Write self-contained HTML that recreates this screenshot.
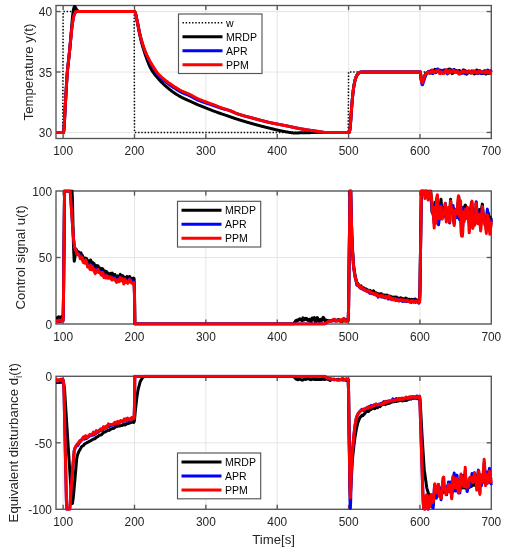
<!DOCTYPE html>
<html><head><meta charset="utf-8"><title>Figure</title>
<style>html,body{margin:0;padding:0;background:#fff}svg{display:block}</style>
</head><body>
<svg width="505" height="550" viewBox="0 0 505 550" font-family="Liberation Sans, Arial, sans-serif">
<rect width="505" height="550" fill="#fff"/>
<clipPath id="c0"><rect x="56.0" y="4.0" width="436.8" height="136.0"/></clipPath>
<line x1="63.14" y1="5.5" x2="63.14" y2="138.5" stroke="#dfdfdf" stroke-width="0.8"/>
<line x1="134.50" y1="5.5" x2="134.50" y2="138.5" stroke="#dfdfdf" stroke-width="0.8"/>
<line x1="205.86" y1="5.5" x2="205.86" y2="138.5" stroke="#dfdfdf" stroke-width="0.8"/>
<line x1="277.22" y1="5.5" x2="277.22" y2="138.5" stroke="#dfdfdf" stroke-width="0.8"/>
<line x1="348.58" y1="5.5" x2="348.58" y2="138.5" stroke="#dfdfdf" stroke-width="0.8"/>
<line x1="419.94" y1="5.5" x2="419.94" y2="138.5" stroke="#dfdfdf" stroke-width="0.8"/>
<line x1="491.30" y1="5.5" x2="491.30" y2="138.5" stroke="#dfdfdf" stroke-width="0.8"/>
<line x1="56.0" y1="132.45" x2="491.3" y2="132.45" stroke="#dfdfdf" stroke-width="0.8"/>
<line x1="56.0" y1="72.00" x2="491.3" y2="72.00" stroke="#dfdfdf" stroke-width="0.8"/>
<line x1="56.0" y1="11.55" x2="491.3" y2="11.55" stroke="#dfdfdf" stroke-width="0.8"/>
<rect x="56.0" y="5.5" width="435.3" height="133.0" fill="none" stroke="#555555" stroke-width="1.35"/>
<line x1="63.14" y1="138.5" x2="63.14" y2="133.9" stroke="#555555" stroke-width="1.35"/>
<line x1="63.14" y1="5.5" x2="63.14" y2="10.1" stroke="#555555" stroke-width="1.35"/>
<text x="63.14" y="155.1" font-size="11.9" fill="#262626" text-anchor="middle">100</text>
<line x1="134.50" y1="138.5" x2="134.50" y2="133.9" stroke="#555555" stroke-width="1.35"/>
<line x1="134.50" y1="5.5" x2="134.50" y2="10.1" stroke="#555555" stroke-width="1.35"/>
<text x="134.50" y="155.1" font-size="11.9" fill="#262626" text-anchor="middle">200</text>
<line x1="205.86" y1="138.5" x2="205.86" y2="133.9" stroke="#555555" stroke-width="1.35"/>
<line x1="205.86" y1="5.5" x2="205.86" y2="10.1" stroke="#555555" stroke-width="1.35"/>
<text x="205.86" y="155.1" font-size="11.9" fill="#262626" text-anchor="middle">300</text>
<line x1="277.22" y1="138.5" x2="277.22" y2="133.9" stroke="#555555" stroke-width="1.35"/>
<line x1="277.22" y1="5.5" x2="277.22" y2="10.1" stroke="#555555" stroke-width="1.35"/>
<text x="277.22" y="155.1" font-size="11.9" fill="#262626" text-anchor="middle">400</text>
<line x1="348.58" y1="138.5" x2="348.58" y2="133.9" stroke="#555555" stroke-width="1.35"/>
<line x1="348.58" y1="5.5" x2="348.58" y2="10.1" stroke="#555555" stroke-width="1.35"/>
<text x="348.58" y="155.1" font-size="11.9" fill="#262626" text-anchor="middle">500</text>
<line x1="419.94" y1="138.5" x2="419.94" y2="133.9" stroke="#555555" stroke-width="1.35"/>
<line x1="419.94" y1="5.5" x2="419.94" y2="10.1" stroke="#555555" stroke-width="1.35"/>
<text x="419.94" y="155.1" font-size="11.9" fill="#262626" text-anchor="middle">600</text>
<text x="491.30" y="155.1" font-size="11.9" fill="#262626" text-anchor="middle">700</text>
<line x1="56.0" y1="132.45" x2="60.6" y2="132.45" stroke="#555555" stroke-width="1.35"/>
<line x1="491.3" y1="132.45" x2="486.7" y2="132.45" stroke="#555555" stroke-width="1.35"/>
<text x="52.0" y="137.35" font-size="11.9" fill="#262626" text-anchor="end">30</text>
<line x1="56.0" y1="72.00" x2="60.6" y2="72.00" stroke="#555555" stroke-width="1.35"/>
<line x1="491.3" y1="72.00" x2="486.7" y2="72.00" stroke="#555555" stroke-width="1.35"/>
<text x="52.0" y="76.90" font-size="11.9" fill="#262626" text-anchor="end">35</text>
<line x1="56.0" y1="11.55" x2="60.6" y2="11.55" stroke="#555555" stroke-width="1.35"/>
<line x1="491.3" y1="11.55" x2="486.7" y2="11.55" stroke="#555555" stroke-width="1.35"/>
<text x="52.0" y="16.45" font-size="11.9" fill="#262626" text-anchor="end">40</text>
<g clip-path="url(#c0)" fill="none" stroke-linejoin="round" stroke-linecap="butt">
<path d="M56.00,132.45 L56.36,132.45 L56.71,132.45 L57.07,132.45 L57.43,132.45 L57.78,132.45 L58.14,132.45 L58.50,132.45 L58.85,132.45 L59.21,132.45 L59.57,132.45 L59.92,132.45 L60.28,132.45 L60.64,132.45 L61.00,132.45 L61.35,132.45 L61.71,132.45 L62.07,132.45 L62.42,132.45 L62.78,132.45 L63.14,11.55 L63.49,11.55 L63.85,11.55 L64.21,11.55 L64.56,11.55 L64.92,11.55 L65.28,11.55 L65.63,11.55 L65.99,11.55 L66.35,11.55 L66.70,11.55 L67.06,11.55 L67.42,11.55 L67.77,11.55 L68.13,11.55 L68.49,11.55 L68.84,11.55 L69.20,11.55 L69.56,11.55 L69.92,11.55 L70.27,11.55 L70.63,11.55 L70.99,11.55 L71.34,11.55 L71.70,11.55 L72.06,11.55 L72.41,11.55 L72.77,11.55 L73.13,11.55 L73.48,11.55 L73.84,11.55 L74.20,11.55 L74.55,11.55 L74.91,11.55 L75.27,11.55 L75.62,11.55 L75.98,11.55 L76.34,11.55 L76.69,11.55 L77.05,11.55 L77.41,11.55 L77.77,11.55 L78.12,11.55 L78.48,11.55 L78.84,11.55 L79.19,11.55 L79.55,11.55 L79.91,11.55 L80.26,11.55 L80.62,11.55 L80.98,11.55 L81.33,11.55 L81.69,11.55 L82.05,11.55 L82.40,11.55 L82.76,11.55 L83.12,11.55 L83.47,11.55 L83.83,11.55 L84.19,11.55 L84.54,11.55 L84.90,11.55 L85.26,11.55 L85.61,11.55 L85.97,11.55 L86.33,11.55 L86.69,11.55 L87.04,11.55 L87.40,11.55 L87.76,11.55 L88.11,11.55 L88.47,11.55 L88.83,11.55 L89.18,11.55 L89.54,11.55 L89.90,11.55 L90.25,11.55 L90.61,11.55 L90.97,11.55 L91.32,11.55 L91.68,11.55 L92.04,11.55 L92.39,11.55 L92.75,11.55 L93.11,11.55 L93.46,11.55 L93.82,11.55 L94.18,11.55 L94.53,11.55 L94.89,11.55 L95.25,11.55 L95.61,11.55 L95.96,11.55 L96.32,11.55 L96.68,11.55 L97.03,11.55 L97.39,11.55 L97.75,11.55 L98.10,11.55 L98.46,11.55 L98.82,11.55 L99.17,11.55 L99.53,11.55 L99.89,11.55 L100.24,11.55 L100.60,11.55 L100.96,11.55 L101.31,11.55 L101.67,11.55 L102.03,11.55 L102.38,11.55 L102.74,11.55 L103.10,11.55 L103.45,11.55 L103.81,11.55 L104.17,11.55 L104.53,11.55 L104.88,11.55 L105.24,11.55 L105.60,11.55 L105.95,11.55 L106.31,11.55 L106.67,11.55 L107.02,11.55 L107.38,11.55 L107.74,11.55 L108.09,11.55 L108.45,11.55 L108.81,11.55 L109.16,11.55 L109.52,11.55 L109.88,11.55 L110.23,11.55 L110.59,11.55 L110.95,11.55 L111.30,11.55 L111.66,11.55 L112.02,11.55 L112.37,11.55 L112.73,11.55 L113.09,11.55 L113.45,11.55 L113.80,11.55 L114.16,11.55 L114.52,11.55 L114.87,11.55 L115.23,11.55 L115.59,11.55 L115.94,11.55 L116.30,11.55 L116.66,11.55 L117.01,11.55 L117.37,11.55 L117.73,11.55 L118.08,11.55 L118.44,11.55 L118.80,11.55 L119.15,11.55 L119.51,11.55 L119.87,11.55 L120.22,11.55 L120.58,11.55 L120.94,11.55 L121.30,11.55 L121.65,11.55 L122.01,11.55 L122.37,11.55 L122.72,11.55 L123.08,11.55 L123.44,11.55 L123.79,11.55 L124.15,11.55 L124.51,11.55 L124.86,11.55 L125.22,11.55 L125.58,11.55 L125.93,11.55 L126.29,11.55 L126.65,11.55 L127.00,11.55 L127.36,11.55 L127.72,11.55 L128.07,11.55 L128.43,11.55 L128.79,11.55 L129.14,11.55 L129.50,11.55 L129.86,11.55 L130.22,11.55 L130.57,11.55 L130.93,11.55 L131.29,11.55 L131.64,11.55 L132.00,11.55 L132.36,11.55 L132.71,11.55 L133.07,11.55 L133.43,11.55 L133.78,11.55 L134.14,11.55 L134.50,132.45 L134.85,132.45 L135.21,132.45 L135.57,132.45 L135.92,132.45 L136.28,132.45 L136.64,132.45 L136.99,132.45 L137.35,132.45 L137.71,132.45 L138.06,132.45 L138.42,132.45 L138.78,132.45 L139.14,132.45 L139.49,132.45 L139.85,132.45 L140.21,132.45 L140.56,132.45 L140.92,132.45 L141.28,132.45 L141.63,132.45 L141.99,132.45 L142.35,132.45 L142.70,132.45 L143.06,132.45 L143.42,132.45 L143.77,132.45 L144.13,132.45 L144.49,132.45 L144.84,132.45 L145.20,132.45 L145.56,132.45 L145.91,132.45 L146.27,132.45 L146.63,132.45 L146.98,132.45 L147.34,132.45 L147.70,132.45 L148.06,132.45 L148.41,132.45 L148.77,132.45 L149.13,132.45 L149.48,132.45 L149.84,132.45 L150.20,132.45 L150.55,132.45 L150.91,132.45 L151.27,132.45 L151.62,132.45 L151.98,132.45 L152.34,132.45 L152.69,132.45 L153.05,132.45 L153.41,132.45 L153.76,132.45 L154.12,132.45 L154.48,132.45 L154.83,132.45 L155.19,132.45 L155.55,132.45 L155.90,132.45 L156.26,132.45 L156.62,132.45 L156.98,132.45 L157.33,132.45 L157.69,132.45 L158.05,132.45 L158.40,132.45 L158.76,132.45 L159.12,132.45 L159.47,132.45 L159.83,132.45 L160.19,132.45 L160.54,132.45 L160.90,132.45 L161.26,132.45 L161.61,132.45 L161.97,132.45 L162.33,132.45 L162.68,132.45 L163.04,132.45 L163.40,132.45 L163.75,132.45 L164.11,132.45 L164.47,132.45 L164.82,132.45 L165.18,132.45 L165.54,132.45 L165.90,132.45 L166.25,132.45 L166.61,132.45 L166.97,132.45 L167.32,132.45 L167.68,132.45 L168.04,132.45 L168.39,132.45 L168.75,132.45 L169.11,132.45 L169.46,132.45 L169.82,132.45 L170.18,132.45 L170.53,132.45 L170.89,132.45 L171.25,132.45 L171.60,132.45 L171.96,132.45 L172.32,132.45 L172.67,132.45 L173.03,132.45 L173.39,132.45 L173.75,132.45 L174.10,132.45 L174.46,132.45 L174.82,132.45 L175.17,132.45 L175.53,132.45 L175.89,132.45 L176.24,132.45 L176.60,132.45 L176.96,132.45 L177.31,132.45 L177.67,132.45 L178.03,132.45 L178.38,132.45 L178.74,132.45 L179.10,132.45 L179.45,132.45 L179.81,132.45 L180.17,132.45 L180.52,132.45 L180.88,132.45 L181.24,132.45 L181.59,132.45 L181.95,132.45 L182.31,132.45 L182.67,132.45 L183.02,132.45 L183.38,132.45 L183.74,132.45 L184.09,132.45 L184.45,132.45 L184.81,132.45 L185.16,132.45 L185.52,132.45 L185.88,132.45 L186.23,132.45 L186.59,132.45 L186.95,132.45 L187.30,132.45 L187.66,132.45 L188.02,132.45 L188.37,132.45 L188.73,132.45 L189.09,132.45 L189.44,132.45 L189.80,132.45 L190.16,132.45 L190.51,132.45 L190.87,132.45 L191.23,132.45 L191.59,132.45 L191.94,132.45 L192.30,132.45 L192.66,132.45 L193.01,132.45 L193.37,132.45 L193.73,132.45 L194.08,132.45 L194.44,132.45 L194.80,132.45 L195.15,132.45 L195.51,132.45 L195.87,132.45 L196.22,132.45 L196.58,132.45 L196.94,132.45 L197.29,132.45 L197.65,132.45 L198.01,132.45 L198.36,132.45 L198.72,132.45 L199.08,132.45 L199.43,132.45 L199.79,132.45 L200.15,132.45 L200.51,132.45 L200.86,132.45 L201.22,132.45 L201.58,132.45 L201.93,132.45 L202.29,132.45 L202.65,132.45 L203.00,132.45 L203.36,132.45 L203.72,132.45 L204.07,132.45 L204.43,132.45 L204.79,132.45 L205.14,132.45 L205.50,132.45 L205.86,132.45 L206.21,132.45 L206.57,132.45 L206.93,132.45 L207.28,132.45 L207.64,132.45 L208.00,132.45 L208.36,132.45 L208.71,132.45 L209.07,132.45 L209.43,132.45 L209.78,132.45 L210.14,132.45 L210.50,132.45 L210.85,132.45 L211.21,132.45 L211.57,132.45 L211.92,132.45 L212.28,132.45 L212.64,132.45 L212.99,132.45 L213.35,132.45 L213.71,132.45 L214.06,132.45 L214.42,132.45 L214.78,132.45 L215.13,132.45 L215.49,132.45 L215.85,132.45 L216.20,132.45 L216.56,132.45 L216.92,132.45 L217.28,132.45 L217.63,132.45 L217.99,132.45 L218.35,132.45 L218.70,132.45 L219.06,132.45 L219.42,132.45 L219.77,132.45 L220.13,132.45 L220.49,132.45 L220.84,132.45 L221.20,132.45 L221.56,132.45 L221.91,132.45 L222.27,132.45 L222.63,132.45 L222.98,132.45 L223.34,132.45 L223.70,132.45 L224.05,132.45 L224.41,132.45 L224.77,132.45 L225.12,132.45 L225.48,132.45 L225.84,132.45 L226.20,132.45 L226.55,132.45 L226.91,132.45 L227.27,132.45 L227.62,132.45 L227.98,132.45 L228.34,132.45 L228.69,132.45 L229.05,132.45 L229.41,132.45 L229.76,132.45 L230.12,132.45 L230.48,132.45 L230.83,132.45 L231.19,132.45 L231.55,132.45 L231.90,132.45 L232.26,132.45 L232.62,132.45 L232.97,132.45 L233.33,132.45 L233.69,132.45 L234.04,132.45 L234.40,132.45 L234.76,132.45 L235.12,132.45 L235.47,132.45 L235.83,132.45 L236.19,132.45 L236.54,132.45 L236.90,132.45 L237.26,132.45 L237.61,132.45 L237.97,132.45 L238.33,132.45 L238.68,132.45 L239.04,132.45 L239.40,132.45 L239.75,132.45 L240.11,132.45 L240.47,132.45 L240.82,132.45 L241.18,132.45 L241.54,132.45 L241.89,132.45 L242.25,132.45 L242.61,132.45 L242.96,132.45 L243.32,132.45 L243.68,132.45 L244.04,132.45 L244.39,132.45 L244.75,132.45 L245.11,132.45 L245.46,132.45 L245.82,132.45 L246.18,132.45 L246.53,132.45 L246.89,132.45 L247.25,132.45 L247.60,132.45 L247.96,132.45 L248.32,132.45 L248.67,132.45 L249.03,132.45 L249.39,132.45 L249.74,132.45 L250.10,132.45 L250.46,132.45 L250.81,132.45 L251.17,132.45 L251.53,132.45 L251.89,132.45 L252.24,132.45 L252.60,132.45 L252.96,132.45 L253.31,132.45 L253.67,132.45 L254.03,132.45 L254.38,132.45 L254.74,132.45 L255.10,132.45 L255.45,132.45 L255.81,132.45 L256.17,132.45 L256.52,132.45 L256.88,132.45 L257.24,132.45 L257.59,132.45 L257.95,132.45 L258.31,132.45 L258.66,132.45 L259.02,132.45 L259.38,132.45 L259.73,132.45 L260.09,132.45 L260.45,132.45 L260.81,132.45 L261.16,132.45 L261.52,132.45 L261.88,132.45 L262.23,132.45 L262.59,132.45 L262.95,132.45 L263.30,132.45 L263.66,132.45 L264.02,132.45 L264.37,132.45 L264.73,132.45 L265.09,132.45 L265.44,132.45 L265.80,132.45 L266.16,132.45 L266.51,132.45 L266.87,132.45 L267.23,132.45 L267.58,132.45 L267.94,132.45 L268.30,132.45 L268.65,132.45 L269.01,132.45 L269.37,132.45 L269.73,132.45 L270.08,132.45 L270.44,132.45 L270.80,132.45 L271.15,132.45 L271.51,132.45 L271.87,132.45 L272.22,132.45 L272.58,132.45 L272.94,132.45 L273.29,132.45 L273.65,132.45 L274.01,132.45 L274.36,132.45 L274.72,132.45 L275.08,132.45 L275.43,132.45 L275.79,132.45 L276.15,132.45 L276.50,132.45 L276.86,132.45 L277.22,132.45 L277.57,132.45 L277.93,132.45 L278.29,132.45 L278.65,132.45 L279.00,132.45 L279.36,132.45 L279.72,132.45 L280.07,132.45 L280.43,132.45 L280.79,132.45 L281.14,132.45 L281.50,132.45 L281.86,132.45 L282.21,132.45 L282.57,132.45 L282.93,132.45 L283.28,132.45 L283.64,132.45 L284.00,132.45 L284.35,132.45 L284.71,132.45 L285.07,132.45 L285.42,132.45 L285.78,132.45 L286.14,132.45 L286.49,132.45 L286.85,132.45 L287.21,132.45 L287.57,132.45 L287.92,132.45 L288.28,132.45 L288.64,132.45 L288.99,132.45 L289.35,132.45 L289.71,132.45 L290.06,132.45 L290.42,132.45 L290.78,132.45 L291.13,132.45 L291.49,132.45 L291.85,132.45 L292.20,132.45 L292.56,132.45 L292.92,132.45 L293.27,132.45 L293.63,132.45 L293.99,132.45 L294.34,132.45 L294.70,132.45 L295.06,132.45 L295.41,132.45 L295.77,132.45 L296.13,132.45 L296.49,132.45 L296.84,132.45 L297.20,132.45 L297.56,132.45 L297.91,132.45 L298.27,132.45 L298.63,132.45 L298.98,132.45 L299.34,132.45 L299.70,132.45 L300.05,132.45 L300.41,132.45 L300.77,132.45 L301.12,132.45 L301.48,132.45 L301.84,132.45 L302.19,132.45 L302.55,132.45 L302.91,132.45 L303.26,132.45 L303.62,132.45 L303.98,132.45 L304.34,132.45 L304.69,132.45 L305.05,132.45 L305.41,132.45 L305.76,132.45 L306.12,132.45 L306.48,132.45 L306.83,132.45 L307.19,132.45 L307.55,132.45 L307.90,132.45 L308.26,132.45 L308.62,132.45 L308.97,132.45 L309.33,132.45 L309.69,132.45 L310.04,132.45 L310.40,132.45 L310.76,132.45 L311.11,132.45 L311.47,132.45 L311.83,132.45 L312.18,132.45 L312.54,132.45 L312.90,132.45 L313.26,132.45 L313.61,132.45 L313.97,132.45 L314.33,132.45 L314.68,132.45 L315.04,132.45 L315.40,132.45 L315.75,132.45 L316.11,132.45 L316.47,132.45 L316.82,132.45 L317.18,132.45 L317.54,132.45 L317.89,132.45 L318.25,132.45 L318.61,132.45 L318.96,132.45 L319.32,132.45 L319.68,132.45 L320.03,132.45 L320.39,132.45 L320.75,132.45 L321.10,132.45 L321.46,132.45 L321.82,132.45 L322.18,132.45 L322.53,132.45 L322.89,132.45 L323.25,132.45 L323.60,132.45 L323.96,132.45 L324.32,132.45 L324.67,132.45 L325.03,132.45 L325.39,132.45 L325.74,132.45 L326.10,132.45 L326.46,132.45 L326.81,132.45 L327.17,132.45 L327.53,132.45 L327.88,132.45 L328.24,132.45 L328.60,132.45 L328.95,132.45 L329.31,132.45 L329.67,132.45 L330.02,132.45 L330.38,132.45 L330.74,132.45 L331.10,132.45 L331.45,132.45 L331.81,132.45 L332.17,132.45 L332.52,132.45 L332.88,132.45 L333.24,132.45 L333.59,132.45 L333.95,132.45 L334.31,132.45 L334.66,132.45 L335.02,132.45 L335.38,132.45 L335.73,132.45 L336.09,132.45 L336.45,132.45 L336.80,132.45 L337.16,132.45 L337.52,132.45 L337.87,132.45 L338.23,132.45 L338.59,132.45 L338.94,132.45 L339.30,132.45 L339.66,132.45 L340.02,132.45 L340.37,132.45 L340.73,132.45 L341.09,132.45 L341.44,132.45 L341.80,132.45 L342.16,132.45 L342.51,132.45 L342.87,132.45 L343.23,132.45 L343.58,132.45 L343.94,132.45 L344.30,132.45 L344.65,132.45 L345.01,132.45 L345.37,132.45 L345.72,132.45 L346.08,132.45 L346.44,132.45 L346.79,132.45 L347.15,132.45 L347.51,132.45 L347.87,132.45 L348.22,132.45 L348.58,72.00 L348.94,72.00 L349.29,72.00 L349.65,72.00 L350.01,72.00 L350.36,72.00 L350.72,72.00 L351.08,72.00 L351.43,72.00 L351.79,72.00 L352.15,72.00 L352.50,72.00 L352.86,72.00 L353.22,72.00 L353.57,72.00 L353.93,72.00 L354.29,72.00 L354.64,72.00 L355.00,72.00 L355.36,72.00 L355.71,72.00 L356.07,72.00 L356.43,72.00 L356.79,72.00 L357.14,72.00 L357.50,72.00 L357.86,72.00 L358.21,72.00 L358.57,72.00 L358.93,72.00 L359.28,72.00 L359.64,72.00 L360.00,72.00 L360.35,72.00 L360.71,72.00 L361.07,72.00 L361.42,72.00 L361.78,72.00 L362.14,72.00 L362.49,72.00 L362.85,72.00 L363.21,72.00 L363.56,72.00 L363.92,72.00 L364.28,72.00 L364.63,72.00 L364.99,72.00 L365.35,72.00 L365.71,72.00 L366.06,72.00 L366.42,72.00 L366.78,72.00 L367.13,72.00 L367.49,72.00 L367.85,72.00 L368.20,72.00 L368.56,72.00 L368.92,72.00 L369.27,72.00 L369.63,72.00 L369.99,72.00 L370.34,72.00 L370.70,72.00 L371.06,72.00 L371.41,72.00 L371.77,72.00 L372.13,72.00 L372.48,72.00 L372.84,72.00 L373.20,72.00 L373.55,72.00 L373.91,72.00 L374.27,72.00 L374.63,72.00 L374.98,72.00 L375.34,72.00 L375.70,72.00 L376.05,72.00 L376.41,72.00 L376.77,72.00 L377.12,72.00 L377.48,72.00 L377.84,72.00 L378.19,72.00 L378.55,72.00 L378.91,72.00 L379.26,72.00 L379.62,72.00 L379.98,72.00 L380.33,72.00 L380.69,72.00 L381.05,72.00 L381.40,72.00 L381.76,72.00 L382.12,72.00 L382.48,72.00 L382.83,72.00 L383.19,72.00 L383.55,72.00 L383.90,72.00 L384.26,72.00 L384.62,72.00 L384.97,72.00 L385.33,72.00 L385.69,72.00 L386.04,72.00 L386.40,72.00 L386.76,72.00 L387.11,72.00 L387.47,72.00 L387.83,72.00 L388.18,72.00 L388.54,72.00 L388.90,72.00 L389.25,72.00 L389.61,72.00 L389.97,72.00 L390.32,72.00 L390.68,72.00 L391.04,72.00 L391.40,72.00 L391.75,72.00 L392.11,72.00 L392.47,72.00 L392.82,72.00 L393.18,72.00 L393.54,72.00 L393.89,72.00 L394.25,72.00 L394.61,72.00 L394.96,72.00 L395.32,72.00 L395.68,72.00 L396.03,72.00 L396.39,72.00 L396.75,72.00 L397.10,72.00 L397.46,72.00 L397.82,72.00 L398.17,72.00 L398.53,72.00 L398.89,72.00 L399.24,72.00 L399.60,72.00 L399.96,72.00 L400.32,72.00 L400.67,72.00 L401.03,72.00 L401.39,72.00 L401.74,72.00 L402.10,72.00 L402.46,72.00 L402.81,72.00 L403.17,72.00 L403.53,72.00 L403.88,72.00 L404.24,72.00 L404.60,72.00 L404.95,72.00 L405.31,72.00 L405.67,72.00 L406.02,72.00 L406.38,72.00 L406.74,72.00 L407.09,72.00 L407.45,72.00 L407.81,72.00 L408.16,72.00 L408.52,72.00 L408.88,72.00 L409.24,72.00 L409.59,72.00 L409.95,72.00 L410.31,72.00 L410.66,72.00 L411.02,72.00 L411.38,72.00 L411.73,72.00 L412.09,72.00 L412.45,72.00 L412.80,72.00 L413.16,72.00 L413.52,72.00 L413.87,72.00 L414.23,72.00 L414.59,72.00 L414.94,72.00 L415.30,72.00 L415.66,72.00 L416.01,72.00 L416.37,72.00 L416.73,72.00 L417.08,72.00 L417.44,72.00 L417.80,72.00 L418.16,72.00 L418.51,72.00 L418.87,72.00 L419.23,72.00 L419.58,72.00 L419.94,72.00 L420.30,72.00 L420.65,72.00 L421.01,72.00 L421.37,72.00 L421.72,72.00 L422.08,72.00 L422.44,72.00 L422.79,72.00 L423.15,72.00 L423.51,72.00 L423.86,72.00 L424.22,72.00 L424.58,72.00 L424.93,72.00 L425.29,72.00 L425.65,72.00 L426.01,72.00 L426.36,72.00 L426.72,72.00 L427.08,72.00 L427.43,72.00 L427.79,72.00 L428.15,72.00 L428.50,72.00 L428.86,72.00 L429.22,72.00 L429.57,72.00 L429.93,72.00 L430.29,72.00 L430.64,72.00 L431.00,72.00 L431.36,72.00 L431.71,72.00 L432.07,72.00 L432.43,72.00 L432.78,72.00 L433.14,72.00 L433.50,72.00 L433.85,72.00 L434.21,72.00 L434.57,72.00 L434.93,72.00 L435.28,72.00 L435.64,72.00 L436.00,72.00 L436.35,72.00 L436.71,72.00 L437.07,72.00 L437.42,72.00 L437.78,72.00 L438.14,72.00 L438.49,72.00 L438.85,72.00 L439.21,72.00 L439.56,72.00 L439.92,72.00 L440.28,72.00 L440.63,72.00 L440.99,72.00 L441.35,72.00 L441.70,72.00 L442.06,72.00 L442.42,72.00 L442.77,72.00 L443.13,72.00 L443.49,72.00 L443.85,72.00 L444.20,72.00 L444.56,72.00 L444.92,72.00 L445.27,72.00 L445.63,72.00 L445.99,72.00 L446.34,72.00 L446.70,72.00 L447.06,72.00 L447.41,72.00 L447.77,72.00 L448.13,72.00 L448.48,72.00 L448.84,72.00 L449.20,72.00 L449.55,72.00 L449.91,72.00 L450.27,72.00 L450.62,72.00 L450.98,72.00 L451.34,72.00 L451.69,72.00 L452.05,72.00 L452.41,72.00 L452.77,72.00 L453.12,72.00 L453.48,72.00 L453.84,72.00 L454.19,72.00 L454.55,72.00 L454.91,72.00 L455.26,72.00 L455.62,72.00 L455.98,72.00 L456.33,72.00 L456.69,72.00 L457.05,72.00 L457.40,72.00 L457.76,72.00 L458.12,72.00 L458.47,72.00 L458.83,72.00 L459.19,72.00 L459.54,72.00 L459.90,72.00 L460.26,72.00 L460.61,72.00 L460.97,72.00 L461.33,72.00 L461.69,72.00 L462.04,72.00 L462.40,72.00 L462.76,72.00 L463.11,72.00 L463.47,72.00 L463.83,72.00 L464.18,72.00 L464.54,72.00 L464.90,72.00 L465.25,72.00 L465.61,72.00 L465.97,72.00 L466.32,72.00 L466.68,72.00 L467.04,72.00 L467.39,72.00 L467.75,72.00 L468.11,72.00 L468.46,72.00 L468.82,72.00 L469.18,72.00 L469.54,72.00 L469.89,72.00 L470.25,72.00 L470.61,72.00 L470.96,72.00 L471.32,72.00 L471.68,72.00 L472.03,72.00 L472.39,72.00 L472.75,72.00 L473.10,72.00 L473.46,72.00 L473.82,72.00 L474.17,72.00 L474.53,72.00 L474.89,72.00 L475.24,72.00 L475.60,72.00 L475.96,72.00 L476.31,72.00 L476.67,72.00 L477.03,72.00 L477.38,72.00 L477.74,72.00 L478.10,72.00 L478.46,72.00 L478.81,72.00 L479.17,72.00 L479.53,72.00 L479.88,72.00 L480.24,72.00 L480.60,72.00 L480.95,72.00 L481.31,72.00 L481.67,72.00 L482.02,72.00 L482.38,72.00 L482.74,72.00 L483.09,72.00 L483.45,72.00 L483.81,72.00 L484.16,72.00 L484.52,72.00 L484.88,72.00 L485.23,72.00 L485.59,72.00 L485.95,72.00 L486.30,72.00 L486.66,72.00 L487.02,72.00 L487.38,72.00 L487.73,72.00 L488.09,72.00 L488.45,72.00 L488.80,72.00 L489.16,72.00 L489.52,72.00 L489.87,72.00 L490.23,72.00 L490.59,72.00 L490.94,72.00 L491.30,72.00" stroke="#000" stroke-width="1.5" stroke-dasharray="1.4 1.8"/>
<path d="M56.00,132.45 L56.36,132.45 L56.71,132.45 L57.07,132.45 L57.43,132.45 L57.78,132.45 L58.14,132.45 L58.50,132.45 L58.85,132.45 L59.21,132.45 L59.57,132.45 L59.92,132.45 L60.28,132.45 L60.64,132.45 L61.00,132.45 L61.35,132.45 L61.71,132.45 L62.07,132.45 L62.42,132.45 L62.78,132.45 L63.14,132.45 L63.49,132.45 L63.85,130.08 L64.21,125.34 L64.56,119.42 L64.92,112.74 L65.28,106.00 L65.63,99.79 L65.99,93.50 L66.35,87.18 L66.70,81.14 L67.06,75.70 L67.42,71.18 L67.77,67.54 L68.13,64.35 L68.49,61.23 L68.84,57.89 L69.20,54.53 L69.56,51.07 L69.92,47.42 L70.27,43.60 L70.63,39.58 L70.99,35.21 L71.34,30.52 L71.70,26.05 L72.06,21.83 L72.41,17.85 L72.77,14.58 L73.13,11.73 L73.48,9.43 L73.84,8.08 L74.20,7.10 L74.55,6.53 L74.91,6.58 L75.27,7.14 L75.62,7.81 L75.98,8.38 L76.34,9.00 L76.69,9.60 L77.05,10.11 L77.41,10.47 L77.77,10.79 L78.12,11.08 L78.48,11.32 L78.84,11.49 L79.19,11.55 L79.55,11.55 L79.91,11.55 L80.26,11.55 L80.62,11.55 L80.98,11.55 L81.33,11.55 L81.69,11.55 L82.05,11.55 L82.40,11.55 L82.76,11.55 L83.12,11.55 L83.47,11.55 L83.83,11.55 L84.19,11.55 L84.54,11.55 L84.90,11.55 L85.26,11.55 L85.61,11.55 L85.97,11.55 L86.33,11.55 L86.69,11.55 L87.04,11.55 L87.40,11.55 L87.76,11.55 L88.11,11.55 L88.47,11.55 L88.83,11.55 L89.18,11.55 L89.54,11.55 L89.90,11.55 L90.25,11.55 L90.61,11.55 L90.97,11.55 L91.32,11.55 L91.68,11.55 L92.04,11.55 L92.39,11.55 L92.75,11.55 L93.11,11.55 L93.46,11.55 L93.82,11.55 L94.18,11.55 L94.53,11.55 L94.89,11.55 L95.25,11.55 L95.61,11.55 L95.96,11.55 L96.32,11.55 L96.68,11.55 L97.03,11.55 L97.39,11.55 L97.75,11.55 L98.10,11.55 L98.46,11.55 L98.82,11.55 L99.17,11.55 L99.53,11.55 L99.89,11.55 L100.24,11.55 L100.60,11.55 L100.96,11.55 L101.31,11.55 L101.67,11.55 L102.03,11.55 L102.38,11.55 L102.74,11.55 L103.10,11.55 L103.45,11.55 L103.81,11.55 L104.17,11.55 L104.53,11.55 L104.88,11.55 L105.24,11.55 L105.60,11.55 L105.95,11.55 L106.31,11.55 L106.67,11.55 L107.02,11.55 L107.38,11.55 L107.74,11.55 L108.09,11.55 L108.45,11.55 L108.81,11.55 L109.16,11.55 L109.52,11.55 L109.88,11.55 L110.23,11.55 L110.59,11.55 L110.95,11.55 L111.30,11.55 L111.66,11.55 L112.02,11.55 L112.37,11.55 L112.73,11.55 L113.09,11.55 L113.45,11.55 L113.80,11.55 L114.16,11.55 L114.52,11.55 L114.87,11.55 L115.23,11.55 L115.59,11.55 L115.94,11.55 L116.30,11.55 L116.66,11.55 L117.01,11.55 L117.37,11.55 L117.73,11.55 L118.08,11.55 L118.44,11.55 L118.80,11.55 L119.15,11.55 L119.51,11.55 L119.87,11.55 L120.22,11.55 L120.58,11.55 L120.94,11.55 L121.30,11.55 L121.65,11.55 L122.01,11.55 L122.37,11.55 L122.72,11.55 L123.08,11.55 L123.44,11.55 L123.79,11.55 L124.15,11.55 L124.51,11.55 L124.86,11.55 L125.22,11.55 L125.58,11.55 L125.93,11.55 L126.29,11.55 L126.65,11.55 L127.00,11.55 L127.36,11.55 L127.72,11.55 L128.07,11.55 L128.43,11.55 L128.79,11.55 L129.14,11.55 L129.50,11.55 L129.86,11.55 L130.22,11.55 L130.57,11.55 L130.93,11.55 L131.29,11.55 L131.64,11.55 L132.00,11.55 L132.36,11.55 L132.71,11.55 L133.07,11.55 L133.43,11.55 L133.78,11.55 L134.14,11.55 L134.50,11.55 L134.85,11.82 L135.21,12.58 L135.57,13.74 L135.92,15.20 L136.28,16.87 L136.64,18.67 L136.99,20.50 L137.35,22.28 L137.71,23.94 L138.06,25.76 L138.42,27.72 L138.78,29.72 L139.14,31.63 L139.49,33.39 L139.85,35.11 L140.21,36.79 L140.56,38.41 L140.92,39.95 L141.28,41.41 L141.63,42.78 L141.99,44.09 L142.35,45.34 L142.70,46.56 L143.06,47.74 L143.42,48.89 L143.77,50.03 L144.13,51.15 L144.49,52.27 L144.84,53.36 L145.20,54.44 L145.56,55.50 L145.91,56.53 L146.27,57.54 L146.63,58.52 L146.98,59.48 L147.34,60.42 L147.70,61.35 L148.06,62.28 L148.41,63.19 L148.77,64.09 L149.13,64.96 L149.48,65.80 L149.84,66.60 L150.20,67.36 L150.55,68.08 L150.91,68.74 L151.27,69.35 L151.62,69.95 L151.98,70.53 L152.34,71.08 L152.69,71.62 L153.05,72.15 L153.41,72.65 L153.76,73.15 L154.12,73.63 L154.48,74.09 L154.83,74.55 L155.19,75.00 L155.55,75.44 L155.90,75.87 L156.26,76.29 L156.62,76.71 L156.98,77.13 L157.33,77.54 L157.69,77.96 L158.05,78.37 L158.40,78.78 L158.76,79.18 L159.12,79.58 L159.47,79.97 L159.83,80.36 L160.19,80.74 L160.54,81.12 L160.90,81.49 L161.26,81.86 L161.61,82.22 L161.97,82.58 L162.33,82.93 L162.68,83.28 L163.04,83.63 L163.40,83.97 L163.75,84.31 L164.11,84.64 L164.47,84.98 L164.82,85.30 L165.18,85.63 L165.54,85.95 L165.90,86.27 L166.25,86.58 L166.61,86.90 L166.97,87.21 L167.32,87.51 L167.68,87.82 L168.04,88.12 L168.39,88.42 L168.75,88.71 L169.11,89.00 L169.46,89.29 L169.82,89.58 L170.18,89.86 L170.53,90.14 L170.89,90.42 L171.25,90.69 L171.60,90.96 L171.96,91.23 L172.32,91.49 L172.67,91.75 L173.03,92.00 L173.39,92.26 L173.75,92.51 L174.10,92.75 L174.46,92.99 L174.82,93.23 L175.17,93.47 L175.53,93.71 L175.89,93.94 L176.24,94.17 L176.60,94.40 L176.96,94.63 L177.31,94.85 L177.67,95.07 L178.03,95.29 L178.38,95.51 L178.74,95.72 L179.10,95.93 L179.45,96.13 L179.81,96.34 L180.17,96.54 L180.52,96.74 L180.88,96.93 L181.24,97.13 L181.59,97.32 L181.95,97.50 L182.31,97.68 L182.67,97.86 L183.02,98.04 L183.38,98.21 L183.74,98.38 L184.09,98.55 L184.45,98.71 L184.81,98.87 L185.16,99.03 L185.52,99.19 L185.88,99.35 L186.23,99.50 L186.59,99.66 L186.95,99.82 L187.30,99.97 L187.66,100.13 L188.02,100.28 L188.37,100.44 L188.73,100.60 L189.09,100.76 L189.44,100.92 L189.80,101.08 L190.16,101.25 L190.51,101.41 L190.87,101.58 L191.23,101.75 L191.59,101.91 L191.94,102.08 L192.30,102.25 L192.66,102.41 L193.01,102.58 L193.37,102.75 L193.73,102.91 L194.08,103.08 L194.44,103.25 L194.80,103.41 L195.15,103.57 L195.51,103.73 L195.87,103.90 L196.22,104.06 L196.58,104.21 L196.94,104.37 L197.29,104.52 L197.65,104.68 L198.01,104.83 L198.36,104.98 L198.72,105.12 L199.08,105.27 L199.43,105.41 L199.79,105.56 L200.15,105.70 L200.51,105.84 L200.86,105.98 L201.22,106.12 L201.58,106.26 L201.93,106.40 L202.29,106.54 L202.65,106.67 L203.00,106.81 L203.36,106.95 L203.72,107.09 L204.07,107.23 L204.43,107.37 L204.79,107.51 L205.14,107.65 L205.50,107.79 L205.86,107.93 L206.21,108.07 L206.57,108.22 L206.93,108.36 L207.28,108.50 L207.64,108.65 L208.00,108.79 L208.36,108.94 L208.71,109.08 L209.07,109.22 L209.43,109.37 L209.78,109.51 L210.14,109.65 L210.50,109.80 L210.85,109.94 L211.21,110.08 L211.57,110.22 L211.92,110.36 L212.28,110.50 L212.64,110.63 L212.99,110.77 L213.35,110.91 L213.71,111.04 L214.06,111.17 L214.42,111.30 L214.78,111.44 L215.13,111.57 L215.49,111.70 L215.85,111.82 L216.20,111.95 L216.56,112.08 L216.92,112.21 L217.28,112.33 L217.63,112.46 L217.99,112.59 L218.35,112.71 L218.70,112.84 L219.06,112.96 L219.42,113.09 L219.77,113.21 L220.13,113.34 L220.49,113.46 L220.84,113.59 L221.20,113.71 L221.56,113.83 L221.91,113.96 L222.27,114.08 L222.63,114.21 L222.98,114.33 L223.34,114.45 L223.70,114.58 L224.05,114.70 L224.41,114.82 L224.77,114.94 L225.12,115.06 L225.48,115.19 L225.84,115.31 L226.20,115.43 L226.55,115.55 L226.91,115.67 L227.27,115.79 L227.62,115.91 L227.98,116.03 L228.34,116.15 L228.69,116.28 L229.05,116.40 L229.41,116.52 L229.76,116.64 L230.12,116.76 L230.48,116.88 L230.83,117.00 L231.19,117.13 L231.55,117.25 L231.90,117.37 L232.26,117.50 L232.62,117.62 L232.97,117.74 L233.33,117.87 L233.69,117.99 L234.04,118.11 L234.40,118.23 L234.76,118.35 L235.12,118.48 L235.47,118.60 L235.83,118.72 L236.19,118.83 L236.54,118.95 L236.90,119.07 L237.26,119.18 L237.61,119.30 L237.97,119.41 L238.33,119.53 L238.68,119.64 L239.04,119.75 L239.40,119.86 L239.75,119.97 L240.11,120.09 L240.47,120.20 L240.82,120.31 L241.18,120.42 L241.54,120.53 L241.89,120.64 L242.25,120.75 L242.61,120.86 L242.96,120.97 L243.32,121.07 L243.68,121.18 L244.04,121.29 L244.39,121.40 L244.75,121.50 L245.11,121.61 L245.46,121.72 L245.82,121.82 L246.18,121.93 L246.53,122.03 L246.89,122.14 L247.25,122.24 L247.60,122.35 L247.96,122.45 L248.32,122.55 L248.67,122.66 L249.03,122.76 L249.39,122.86 L249.74,122.97 L250.10,123.07 L250.46,123.17 L250.81,123.27 L251.17,123.37 L251.53,123.47 L251.89,123.57 L252.24,123.67 L252.60,123.77 L252.96,123.87 L253.31,123.97 L253.67,124.07 L254.03,124.17 L254.38,124.27 L254.74,124.37 L255.10,124.46 L255.45,124.56 L255.81,124.66 L256.17,124.76 L256.52,124.85 L256.88,124.95 L257.24,125.04 L257.59,125.14 L257.95,125.24 L258.31,125.33 L258.66,125.43 L259.02,125.52 L259.38,125.62 L259.73,125.71 L260.09,125.80 L260.45,125.90 L260.81,125.99 L261.16,126.09 L261.52,126.18 L261.88,126.27 L262.23,126.36 L262.59,126.45 L262.95,126.55 L263.30,126.64 L263.66,126.73 L264.02,126.82 L264.37,126.91 L264.73,127.00 L265.09,127.09 L265.44,127.18 L265.80,127.27 L266.16,127.36 L266.51,127.44 L266.87,127.53 L267.23,127.62 L267.58,127.71 L267.94,127.79 L268.30,127.88 L268.65,127.96 L269.01,128.05 L269.37,128.14 L269.73,128.22 L270.08,128.31 L270.44,128.39 L270.80,128.48 L271.15,128.57 L271.51,128.65 L271.87,128.74 L272.22,128.82 L272.58,128.91 L272.94,129.00 L273.29,129.08 L273.65,129.17 L274.01,129.25 L274.36,129.34 L274.72,129.42 L275.08,129.51 L275.43,129.59 L275.79,129.68 L276.15,129.76 L276.50,129.85 L276.86,129.93 L277.22,130.01 L277.57,130.09 L277.93,130.17 L278.29,130.25 L278.65,130.33 L279.00,130.41 L279.36,130.49 L279.72,130.57 L280.07,130.65 L280.43,130.72 L280.79,130.80 L281.14,130.87 L281.50,130.94 L281.86,131.01 L282.21,131.09 L282.57,131.15 L282.93,131.22 L283.28,131.29 L283.64,131.36 L284.00,131.42 L284.35,131.49 L284.71,131.55 L285.07,131.61 L285.42,131.67 L285.78,131.73 L286.14,131.80 L286.49,131.86 L286.85,131.93 L287.21,132.00 L287.57,132.06 L287.92,132.13 L288.28,132.20 L288.64,132.26 L288.99,132.33 L289.35,132.39 L289.71,132.45 L290.06,132.51 L290.42,132.57 L290.78,132.63 L291.13,132.68 L291.49,132.72 L291.85,132.77 L292.20,132.81 L292.56,132.84 L292.92,132.87 L293.27,132.90 L293.63,132.92 L293.99,132.93 L294.34,132.94 L294.70,132.94 L295.06,132.94 L295.41,132.94 L295.77,132.93 L296.13,132.93 L296.49,132.92 L296.84,132.92 L297.20,132.91 L297.56,132.90 L297.91,132.90 L298.27,132.89 L298.63,132.88 L298.98,132.87 L299.34,132.86 L299.70,132.85 L300.05,132.84 L300.41,132.83 L300.77,132.82 L301.12,132.81 L301.48,132.80 L301.84,132.79 L302.19,132.78 L302.55,132.77 L302.91,132.76 L303.26,132.75 L303.62,132.74 L303.98,132.73 L304.34,132.72 L304.69,132.72 L305.05,132.71 L305.41,132.70 L305.76,132.70 L306.12,132.69 L306.48,132.69 L306.83,132.68 L307.19,132.67 L307.55,132.67 L307.90,132.66 L308.26,132.66 L308.62,132.65 L308.97,132.65 L309.33,132.64 L309.69,132.63 L310.04,132.63 L310.40,132.62 L310.76,132.62 L311.11,132.61 L311.47,132.61 L311.83,132.60 L312.18,132.60 L312.54,132.59 L312.90,132.59 L313.26,132.58 L313.61,132.57 L313.97,132.57 L314.33,132.56 L314.68,132.56 L315.04,132.55 L315.40,132.55 L315.75,132.54 L316.11,132.54 L316.47,132.53 L316.82,132.53 L317.18,132.53 L317.54,132.52 L317.89,132.52 L318.25,132.51 L318.61,132.51 L318.96,132.50 L319.32,132.50 L319.68,132.50 L320.03,132.49 L320.39,132.49 L320.75,132.49 L321.10,132.48 L321.46,132.48 L321.82,132.48 L322.18,132.47 L322.53,132.47 L322.89,132.47 L323.25,132.47 L323.60,132.46 L323.96,132.46 L324.32,132.46 L324.67,132.46 L325.03,132.46 L325.39,132.46 L325.74,132.46 L326.10,132.46 L326.46,132.45 L326.81,132.45 L327.17,132.45 L327.53,132.45 L327.88,132.45 L328.24,132.45 L328.60,132.45 L328.95,132.45 L329.31,132.45 L329.67,132.45 L330.02,132.45 L330.38,132.45 L330.74,132.45 L331.10,132.45 L331.45,132.45 L331.81,132.45 L332.17,132.45 L332.52,132.45 L332.88,132.45 L333.24,132.45 L333.59,132.45 L333.95,132.45 L334.31,132.45 L334.66,132.45 L335.02,132.45 L335.38,132.45 L335.73,132.45 L336.09,132.45 L336.45,132.45 L336.80,132.45 L337.16,132.45 L337.52,132.45 L337.87,132.45 L338.23,132.45 L338.59,132.45 L338.94,132.45 L339.30,132.45 L339.66,132.45 L340.02,132.45 L340.37,132.45 L340.73,132.45 L341.09,132.45 L341.44,132.45 L341.80,132.45 L342.16,132.45 L342.51,132.45 L342.87,132.45 L343.23,132.45 L343.58,132.45 L343.94,132.45 L344.30,132.45 L344.65,132.45 L345.01,132.45 L345.37,132.45 L345.72,132.45 L346.08,132.45 L346.44,132.45 L346.79,132.45 L347.15,132.45 L347.51,132.45 L347.87,132.45 L348.22,132.45 L348.58,132.45 L348.94,132.45 L349.29,132.31 L349.65,130.93 L350.01,128.83 L350.36,125.57 L350.72,120.75 L351.08,115.28 L351.43,110.07 L351.79,105.72 L352.15,101.49 L352.50,97.45 L352.86,93.82 L353.22,90.79 L353.57,88.16 L353.93,85.80 L354.29,83.73 L354.64,81.98 L355.00,80.51 L355.36,79.19 L355.71,78.03 L356.07,77.04 L356.43,76.23 L356.79,75.55 L357.14,74.93 L357.50,74.37 L357.86,73.89 L358.21,73.50 L358.57,73.21 L358.93,72.97 L359.28,72.75 L359.64,72.55 L360.00,72.37 L360.35,72.21 L360.71,72.10 L361.07,72.03 L361.42,72.00 L361.78,72.00 L362.14,72.00 L362.49,72.00 L362.85,72.00 L363.21,72.00 L363.56,72.00 L363.92,72.00 L364.28,72.00 L364.63,72.00 L364.99,72.00 L365.35,72.00 L365.71,72.00 L366.06,72.00 L366.42,72.00 L366.78,72.00 L367.13,72.00 L367.49,72.00 L367.85,72.00 L368.20,72.00 L368.56,72.00 L368.92,72.00 L369.27,72.00 L369.63,72.00 L369.99,72.00 L370.34,72.00 L370.70,72.00 L371.06,72.00 L371.41,72.00 L371.77,72.00 L372.13,72.00 L372.48,72.00 L372.84,72.00 L373.20,72.00 L373.55,72.00 L373.91,72.00 L374.27,72.00 L374.63,72.00 L374.98,72.00 L375.34,72.00 L375.70,72.00 L376.05,72.00 L376.41,72.00 L376.77,72.00 L377.12,72.00 L377.48,72.00 L377.84,72.00 L378.19,72.00 L378.55,72.00 L378.91,72.00 L379.26,72.00 L379.62,72.00 L379.98,72.00 L380.33,72.00 L380.69,72.00 L381.05,72.00 L381.40,72.00 L381.76,72.00 L382.12,72.00 L382.48,72.00 L382.83,72.00 L383.19,72.00 L383.55,72.00 L383.90,72.00 L384.26,72.00 L384.62,72.00 L384.97,72.00 L385.33,72.00 L385.69,72.00 L386.04,72.00 L386.40,72.00 L386.76,72.00 L387.11,72.00 L387.47,72.00 L387.83,72.00 L388.18,72.00 L388.54,72.00 L388.90,72.00 L389.25,72.00 L389.61,72.00 L389.97,72.00 L390.32,72.00 L390.68,72.00 L391.04,72.00 L391.40,72.00 L391.75,72.00 L392.11,72.00 L392.47,72.00 L392.82,72.00 L393.18,72.00 L393.54,72.00 L393.89,72.00 L394.25,72.00 L394.61,72.00 L394.96,72.00 L395.32,72.00 L395.68,72.00 L396.03,72.00 L396.39,72.00 L396.75,72.00 L397.10,72.00 L397.46,72.00 L397.82,72.00 L398.17,72.00 L398.53,72.00 L398.89,72.00 L399.24,72.00 L399.60,72.00 L399.96,72.00 L400.32,72.00 L400.67,72.00 L401.03,72.00 L401.39,72.00 L401.74,72.00 L402.10,72.00 L402.46,72.00 L402.81,72.00 L403.17,72.00 L403.53,72.00 L403.88,72.00 L404.24,72.00 L404.60,72.00 L404.95,72.00 L405.31,72.00 L405.67,72.00 L406.02,72.00 L406.38,72.00 L406.74,72.00 L407.09,72.00 L407.45,72.00 L407.81,72.00 L408.16,72.00 L408.52,72.00 L408.88,72.00 L409.24,72.00 L409.59,72.00 L409.95,72.00 L410.31,72.00 L410.66,72.00 L411.02,72.00 L411.38,72.00 L411.73,72.00 L412.09,72.00 L412.45,72.00 L412.80,72.00 L413.16,72.00 L413.52,72.00 L413.87,72.00 L414.23,72.00 L414.59,72.00 L414.94,72.00 L415.30,72.00 L415.66,72.00 L416.01,72.00 L416.37,72.00 L416.73,72.00 L417.08,72.00 L417.44,72.00 L417.80,72.00 L418.16,72.00 L418.51,72.00 L418.87,72.00 L419.23,72.00 L419.58,72.00 L419.94,72.00 L420.30,72.00 L420.65,74.12 L421.01,77.72 L421.37,79.60 L421.72,81.00 L422.08,81.83 L422.44,81.75 L422.79,80.93 L423.15,79.84 L423.51,78.90 L423.86,77.91 L424.22,76.88 L424.58,75.89 L424.93,75.03 L425.29,74.42 L425.65,73.96 L426.01,73.54 L426.36,73.16 L426.72,72.81 L427.08,72.52 L427.43,72.28 L427.79,72.11 L428.15,72.00 L428.50,71.93 L428.86,72.20 L429.22,71.95 L429.57,72.79 L429.93,73.13 L430.29,72.71 L430.64,72.18 L431.00,71.78 L431.36,70.74 L431.71,70.25 L432.07,70.48 L432.43,70.32 L432.78,71.39 L433.14,71.85 L433.50,71.74 L433.85,71.18 L434.21,70.58 L434.57,69.91 L434.93,69.26 L435.28,69.47 L435.64,69.59 L436.00,70.38 L436.35,71.17 L436.71,70.16 L437.07,70.56 L437.42,69.42 L437.78,69.35 L438.14,70.21 L438.49,69.54 L438.85,70.58 L439.21,70.31 L439.56,70.65 L439.92,71.51 L440.28,71.70 L440.63,72.30 L440.99,71.47 L441.35,71.38 L441.70,70.51 L442.06,71.52 L442.42,72.30 L442.77,71.95 L443.13,72.93 L443.49,71.11 L443.85,70.81 L444.20,71.22 L444.56,70.87 L444.92,70.05 L445.27,70.24 L445.63,69.96 L445.99,70.39 L446.34,71.69 L446.70,72.44 L447.06,72.68 L447.41,71.29 L447.77,70.84 L448.13,69.91 L448.48,69.28 L448.84,69.57 L449.20,69.80 L449.55,69.11 L449.91,69.13 L450.27,69.96 L450.62,69.42 L450.98,71.57 L451.34,72.36 L451.69,72.32 L452.05,73.60 L452.41,72.53 L452.77,72.57 L453.12,73.02 L453.48,71.27 L453.84,70.89 L454.19,70.61 L454.55,69.66 L454.91,71.09 L455.26,70.97 L455.62,70.78 L455.98,70.63 L456.33,71.20 L456.69,71.26 L457.05,71.38 L457.40,72.72 L457.76,71.53 L458.12,72.32 L458.47,71.60 L458.83,70.79 L459.19,70.97 L459.54,70.52 L459.90,70.86 L460.26,72.02 L460.61,72.32 L460.97,72.66 L461.33,72.97 L461.69,72.09 L462.04,71.83 L462.40,71.93 L462.76,71.18 L463.11,70.04 L463.47,70.44 L463.83,70.04 L464.18,70.80 L464.54,71.31 L464.90,70.29 L465.25,70.87 L465.61,71.31 L465.97,72.43 L466.32,73.89 L466.68,74.10 L467.04,73.63 L467.39,73.68 L467.75,72.41 L468.11,71.18 L468.46,71.86 L468.82,71.80 L469.18,72.82 L469.54,72.58 L469.89,72.50 L470.25,72.72 L470.61,72.45 L470.96,72.95 L471.32,72.86 L471.68,71.35 L472.03,71.21 L472.39,71.18 L472.75,71.27 L473.10,72.08 L473.46,72.27 L473.82,73.59 L474.17,73.04 L474.53,73.89 L474.89,73.83 L475.24,73.44 L475.60,72.60 L475.96,71.58 L476.31,71.15 L476.67,69.99 L477.03,71.61 L477.38,72.87 L477.74,73.45 L478.10,73.46 L478.46,72.78 L478.81,71.29 L479.17,70.68 L479.53,71.84 L479.88,71.74 L480.24,71.17 L480.60,71.90 L480.95,72.16 L481.31,72.41 L481.67,73.59 L482.02,73.11 L482.38,72.56 L482.74,72.41 L483.09,73.25 L483.45,73.04 L483.81,71.85 L484.16,71.26 L484.52,70.92 L484.88,71.18 L485.23,73.39 L485.59,73.88 L485.95,73.18 L486.30,73.82 L486.66,72.21 L487.02,72.28 L487.38,71.79 L487.73,71.25 L488.09,71.30 L488.45,72.31 L488.80,73.33 L489.16,73.62 L489.52,73.59 L489.87,72.65 L490.23,71.36 L490.59,71.55 L490.94,71.81 L491.30,71.69" stroke="#000" stroke-width="3"/>
<path d="M56.00,132.45 L56.36,132.45 L56.71,132.45 L57.07,132.45 L57.43,132.45 L57.78,132.45 L58.14,132.45 L58.50,132.45 L58.85,132.45 L59.21,132.45 L59.57,132.45 L59.92,132.45 L60.28,132.45 L60.64,132.45 L61.00,132.45 L61.35,132.45 L61.71,132.45 L62.07,132.45 L62.42,132.45 L62.78,132.45 L63.14,132.45 L63.49,132.45 L63.85,130.08 L64.21,125.34 L64.56,119.42 L64.92,112.74 L65.28,106.00 L65.63,99.79 L65.99,93.50 L66.35,87.18 L66.70,81.14 L67.06,75.70 L67.42,71.18 L67.77,67.54 L68.13,64.35 L68.49,61.23 L68.84,57.88 L69.20,54.49 L69.56,51.04 L69.92,47.46 L70.27,43.74 L70.63,40.07 L70.99,36.51 L71.34,33.00 L71.70,29.70 L72.06,26.69 L72.41,23.81 L72.77,21.27 L73.13,19.26 L73.48,17.48 L73.84,15.94 L74.20,14.73 L74.55,13.92 L74.91,13.24 L75.27,12.62 L75.62,12.12 L75.98,11.75 L76.34,11.56 L76.69,11.55 L77.05,11.55 L77.41,11.55 L77.77,11.55 L78.12,11.55 L78.48,11.55 L78.84,11.55 L79.19,11.55 L79.55,11.55 L79.91,11.55 L80.26,11.55 L80.62,11.55 L80.98,11.55 L81.33,11.55 L81.69,11.55 L82.05,11.55 L82.40,11.55 L82.76,11.55 L83.12,11.55 L83.47,11.55 L83.83,11.55 L84.19,11.55 L84.54,11.55 L84.90,11.55 L85.26,11.55 L85.61,11.55 L85.97,11.55 L86.33,11.55 L86.69,11.55 L87.04,11.55 L87.40,11.55 L87.76,11.55 L88.11,11.55 L88.47,11.55 L88.83,11.55 L89.18,11.55 L89.54,11.55 L89.90,11.55 L90.25,11.55 L90.61,11.55 L90.97,11.55 L91.32,11.55 L91.68,11.55 L92.04,11.55 L92.39,11.55 L92.75,11.55 L93.11,11.55 L93.46,11.55 L93.82,11.55 L94.18,11.55 L94.53,11.55 L94.89,11.55 L95.25,11.55 L95.61,11.55 L95.96,11.55 L96.32,11.55 L96.68,11.55 L97.03,11.55 L97.39,11.55 L97.75,11.55 L98.10,11.55 L98.46,11.55 L98.82,11.55 L99.17,11.55 L99.53,11.55 L99.89,11.55 L100.24,11.55 L100.60,11.55 L100.96,11.55 L101.31,11.55 L101.67,11.55 L102.03,11.55 L102.38,11.55 L102.74,11.55 L103.10,11.55 L103.45,11.55 L103.81,11.55 L104.17,11.55 L104.53,11.55 L104.88,11.55 L105.24,11.55 L105.60,11.55 L105.95,11.55 L106.31,11.55 L106.67,11.55 L107.02,11.55 L107.38,11.55 L107.74,11.55 L108.09,11.55 L108.45,11.55 L108.81,11.55 L109.16,11.55 L109.52,11.55 L109.88,11.55 L110.23,11.55 L110.59,11.55 L110.95,11.55 L111.30,11.55 L111.66,11.55 L112.02,11.55 L112.37,11.55 L112.73,11.55 L113.09,11.55 L113.45,11.55 L113.80,11.55 L114.16,11.55 L114.52,11.55 L114.87,11.55 L115.23,11.55 L115.59,11.55 L115.94,11.55 L116.30,11.55 L116.66,11.55 L117.01,11.55 L117.37,11.55 L117.73,11.55 L118.08,11.55 L118.44,11.55 L118.80,11.55 L119.15,11.55 L119.51,11.55 L119.87,11.55 L120.22,11.55 L120.58,11.55 L120.94,11.55 L121.30,11.55 L121.65,11.55 L122.01,11.55 L122.37,11.55 L122.72,11.55 L123.08,11.55 L123.44,11.55 L123.79,11.55 L124.15,11.55 L124.51,11.55 L124.86,11.55 L125.22,11.55 L125.58,11.55 L125.93,11.55 L126.29,11.55 L126.65,11.55 L127.00,11.55 L127.36,11.55 L127.72,11.55 L128.07,11.55 L128.43,11.55 L128.79,11.55 L129.14,11.55 L129.50,11.55 L129.86,11.55 L130.22,11.55 L130.57,11.55 L130.93,11.55 L131.29,11.55 L131.64,11.55 L132.00,11.55 L132.36,11.55 L132.71,11.55 L133.07,11.55 L133.43,11.55 L133.78,11.55 L134.14,11.55 L134.50,11.55 L134.85,11.81 L135.21,12.55 L135.57,13.68 L135.92,15.10 L136.28,16.73 L136.64,18.48 L136.99,20.26 L137.35,21.99 L137.71,23.58 L138.06,25.26 L138.42,27.13 L138.78,29.01 L139.14,30.84 L139.49,32.52 L139.85,34.07 L140.21,35.57 L140.56,37.01 L140.92,38.40 L141.28,39.74 L141.63,41.02 L141.99,42.25 L142.35,43.44 L142.70,44.60 L143.06,45.73 L143.42,46.82 L143.77,47.87 L144.13,48.89 L144.49,49.88 L144.84,50.83 L145.20,51.74 L145.56,52.63 L145.91,53.50 L146.27,54.34 L146.63,55.16 L146.98,55.96 L147.34,56.75 L147.70,57.51 L148.06,58.26 L148.41,58.99 L148.77,59.70 L149.13,60.40 L149.48,61.09 L149.84,61.77 L150.20,62.43 L150.55,63.07 L150.91,63.71 L151.27,64.33 L151.62,64.95 L151.98,65.55 L152.34,66.15 L152.69,66.74 L153.05,67.32 L153.41,67.89 L153.76,68.46 L154.12,69.02 L154.48,69.58 L154.83,70.13 L155.19,70.69 L155.55,71.25 L155.90,71.79 L156.26,72.33 L156.62,72.86 L156.98,73.36 L157.33,73.84 L157.69,74.30 L158.05,74.72 L158.40,75.13 L158.76,75.53 L159.12,75.91 L159.47,76.29 L159.83,76.66 L160.19,77.01 L160.54,77.36 L160.90,77.71 L161.26,78.04 L161.61,78.37 L161.97,78.69 L162.33,79.01 L162.68,79.32 L163.04,79.63 L163.40,79.93 L163.75,80.23 L164.11,80.53 L164.47,80.82 L164.82,81.11 L165.18,81.40 L165.54,81.69 L165.90,81.98 L166.25,82.27 L166.61,82.55 L166.97,82.83 L167.32,83.11 L167.68,83.38 L168.04,83.65 L168.39,83.91 L168.75,84.18 L169.11,84.44 L169.46,84.70 L169.82,84.95 L170.18,85.20 L170.53,85.46 L170.89,85.70 L171.25,85.95 L171.60,86.19 L171.96,86.44 L172.32,86.68 L172.67,86.91 L173.03,87.15 L173.39,87.39 L173.75,87.62 L174.10,87.86 L174.46,88.09 L174.82,88.32 L175.17,88.55 L175.53,88.79 L175.89,89.02 L176.24,89.24 L176.60,89.47 L176.96,89.70 L177.31,89.92 L177.67,90.14 L178.03,90.36 L178.38,90.57 L178.74,90.79 L179.10,91.00 L179.45,91.20 L179.81,91.41 L180.17,91.61 L180.52,91.80 L180.88,91.99 L181.24,92.18 L181.59,92.36 L181.95,92.54 L182.31,92.71 L182.67,92.88 L183.02,93.04 L183.38,93.19 L183.74,93.35 L184.09,93.50 L184.45,93.64 L184.81,93.79 L185.16,93.93 L185.52,94.07 L185.88,94.21 L186.23,94.35 L186.59,94.49 L186.95,94.64 L187.30,94.78 L187.66,94.92 L188.02,95.07 L188.37,95.22 L188.73,95.37 L189.09,95.53 L189.44,95.69 L189.80,95.86 L190.16,96.03 L190.51,96.20 L190.87,96.39 L191.23,96.57 L191.59,96.76 L191.94,96.95 L192.30,97.15 L192.66,97.34 L193.01,97.54 L193.37,97.74 L193.73,97.94 L194.08,98.14 L194.44,98.33 L194.80,98.53 L195.15,98.72 L195.51,98.91 L195.87,99.09 L196.22,99.27 L196.58,99.45 L196.94,99.62 L197.29,99.78 L197.65,99.94 L198.01,100.10 L198.36,100.25 L198.72,100.39 L199.08,100.54 L199.43,100.68 L199.79,100.82 L200.15,100.96 L200.51,101.09 L200.86,101.22 L201.22,101.36 L201.58,101.49 L201.93,101.61 L202.29,101.74 L202.65,101.87 L203.00,101.99 L203.36,102.12 L203.72,102.24 L204.07,102.37 L204.43,102.49 L204.79,102.62 L205.14,102.74 L205.50,102.87 L205.86,102.99 L206.21,103.12 L206.57,103.24 L206.93,103.36 L207.28,103.48 L207.64,103.60 L208.00,103.71 L208.36,103.83 L208.71,103.95 L209.07,104.06 L209.43,104.18 L209.78,104.30 L210.14,104.41 L210.50,104.53 L210.85,104.64 L211.21,104.76 L211.57,104.88 L211.92,104.99 L212.28,105.11 L212.64,105.23 L212.99,105.35 L213.35,105.47 L213.71,105.60 L214.06,105.72 L214.42,105.85 L214.78,105.98 L215.13,106.11 L215.49,106.24 L215.85,106.37 L216.20,106.50 L216.56,106.63 L216.92,106.77 L217.28,106.90 L217.63,107.03 L217.99,107.16 L218.35,107.29 L218.70,107.42 L219.06,107.55 L219.42,107.67 L219.77,107.80 L220.13,107.92 L220.49,108.04 L220.84,108.16 L221.20,108.27 L221.56,108.38 L221.91,108.49 L222.27,108.59 L222.63,108.69 L222.98,108.79 L223.34,108.88 L223.70,108.97 L224.05,109.06 L224.41,109.15 L224.77,109.24 L225.12,109.32 L225.48,109.40 L225.84,109.48 L226.20,109.56 L226.55,109.63 L226.91,109.70 L227.27,109.75 L227.62,109.86 L227.98,109.98 L228.34,110.09 L228.69,110.21 L229.05,110.34 L229.41,110.46 L229.76,110.59 L230.12,110.72 L230.48,110.85 L230.83,110.99 L231.19,111.14 L231.55,111.29 L231.90,111.44 L232.26,111.60 L232.62,111.76 L232.97,111.91 L233.33,112.08 L233.69,112.24 L234.04,112.40 L234.40,112.56 L234.76,112.72 L235.12,112.87 L235.47,113.03 L235.83,113.18 L236.19,113.32 L236.54,113.47 L236.90,113.60 L237.26,113.73 L237.61,113.86 L237.97,113.98 L238.33,114.10 L238.68,114.22 L239.04,114.34 L239.40,114.45 L239.75,114.57 L240.11,114.68 L240.47,114.79 L240.82,114.90 L241.18,115.01 L241.54,115.11 L241.89,115.22 L242.25,115.32 L242.61,115.43 L242.96,115.53 L243.32,115.63 L243.68,115.73 L244.04,115.83 L244.39,115.93 L244.75,116.03 L245.11,116.12 L245.46,116.22 L245.82,116.32 L246.18,116.41 L246.53,116.51 L246.89,116.60 L247.25,116.69 L247.60,116.79 L247.96,116.88 L248.32,116.98 L248.67,117.07 L249.03,117.16 L249.39,117.25 L249.74,117.35 L250.10,117.44 L250.46,117.53 L250.81,117.63 L251.17,117.72 L251.53,117.81 L251.89,117.91 L252.24,118.00 L252.60,118.10 L252.96,118.19 L253.31,118.29 L253.67,118.39 L254.03,118.48 L254.38,118.58 L254.74,118.68 L255.10,118.77 L255.45,118.87 L255.81,118.97 L256.17,119.07 L256.52,119.16 L256.88,119.26 L257.24,119.36 L257.59,119.45 L257.95,119.55 L258.31,119.65 L258.66,119.74 L259.02,119.84 L259.38,119.94 L259.73,120.03 L260.09,120.13 L260.45,120.23 L260.81,120.32 L261.16,120.42 L261.52,120.51 L261.88,120.60 L262.23,120.70 L262.59,120.79 L262.95,120.89 L263.30,120.98 L263.66,121.07 L264.02,121.16 L264.37,121.25 L264.73,121.34 L265.09,121.43 L265.44,121.52 L265.80,121.61 L266.16,121.70 L266.51,121.78 L266.87,121.87 L267.23,121.96 L267.58,122.04 L267.94,122.12 L268.30,122.21 L268.65,122.29 L269.01,122.37 L269.37,122.45 L269.73,122.53 L270.08,122.61 L270.44,122.69 L270.80,122.76 L271.15,122.84 L271.51,122.92 L271.87,122.99 L272.22,123.06 L272.58,123.14 L272.94,123.21 L273.29,123.28 L273.65,123.35 L274.01,123.43 L274.36,123.50 L274.72,123.57 L275.08,123.64 L275.43,123.71 L275.79,123.78 L276.15,123.84 L276.50,123.91 L276.86,123.98 L277.22,124.05 L277.57,124.12 L277.93,124.19 L278.29,124.25 L278.65,124.32 L279.00,124.39 L279.36,124.46 L279.72,124.52 L280.07,124.59 L280.43,124.66 L280.79,124.73 L281.14,124.79 L281.50,124.86 L281.86,124.93 L282.21,125.00 L282.57,125.07 L282.93,125.14 L283.28,125.21 L283.64,125.28 L284.00,125.35 L284.35,125.42 L284.71,125.49 L285.07,125.56 L285.42,125.64 L285.78,125.71 L286.14,125.78 L286.49,125.86 L286.85,125.93 L287.21,126.01 L287.57,126.08 L287.92,126.16 L288.28,126.23 L288.64,126.31 L288.99,126.39 L289.35,126.46 L289.71,126.54 L290.06,126.62 L290.42,126.69 L290.78,126.77 L291.13,126.85 L291.49,126.92 L291.85,127.00 L292.20,127.08 L292.56,127.16 L292.92,127.23 L293.27,127.31 L293.63,127.39 L293.99,127.46 L294.34,127.54 L294.70,127.61 L295.06,127.69 L295.41,127.76 L295.77,127.84 L296.13,127.91 L296.49,127.98 L296.84,128.06 L297.20,128.13 L297.56,128.20 L297.91,128.27 L298.27,128.34 L298.63,128.41 L298.98,128.48 L299.34,128.54 L299.70,128.61 L300.05,128.67 L300.41,128.74 L300.77,128.80 L301.12,128.86 L301.48,128.93 L301.84,128.99 L302.19,129.05 L302.55,129.11 L302.91,129.17 L303.26,129.23 L303.62,129.29 L303.98,129.35 L304.34,129.41 L304.69,129.46 L305.05,129.52 L305.41,129.58 L305.76,129.64 L306.12,129.69 L306.48,129.75 L306.83,129.80 L307.19,129.86 L307.55,129.92 L307.90,129.97 L308.26,130.02 L308.62,130.08 L308.97,130.13 L309.33,130.19 L309.69,130.24 L310.04,130.29 L310.40,130.34 L310.76,130.40 L311.11,130.45 L311.47,130.50 L311.83,130.55 L312.18,130.60 L312.54,130.66 L312.90,130.71 L313.26,130.76 L313.61,130.81 L313.97,130.86 L314.33,130.91 L314.68,130.96 L315.04,131.01 L315.40,131.06 L315.75,131.11 L316.11,131.16 L316.47,131.21 L316.82,131.26 L317.18,131.31 L317.54,131.36 L317.89,131.42 L318.25,131.47 L318.61,131.53 L318.96,131.59 L319.32,131.65 L319.68,131.71 L320.03,131.77 L320.39,131.83 L320.75,131.89 L321.10,131.95 L321.46,132.01 L321.82,132.06 L322.18,132.12 L322.53,132.17 L322.89,132.21 L323.25,132.26 L323.60,132.30 L323.96,132.34 L324.32,132.37 L324.67,132.40 L325.03,132.42 L325.39,132.44 L325.74,132.45 L326.10,132.45 L326.46,132.45 L326.81,132.45 L327.17,132.45 L327.53,132.45 L327.88,132.45 L328.24,132.45 L328.60,132.45 L328.95,132.45 L329.31,132.45 L329.67,132.45 L330.02,132.45 L330.38,132.45 L330.74,132.45 L331.10,132.45 L331.45,132.45 L331.81,132.45 L332.17,132.45 L332.52,132.45 L332.88,132.45 L333.24,132.45 L333.59,132.45 L333.95,132.45 L334.31,132.45 L334.66,132.45 L335.02,132.45 L335.38,132.45 L335.73,132.45 L336.09,132.45 L336.45,132.45 L336.80,132.45 L337.16,132.45 L337.52,132.45 L337.87,132.45 L338.23,132.45 L338.59,132.45 L338.94,132.45 L339.30,132.45 L339.66,132.45 L340.02,132.45 L340.37,132.45 L340.73,132.45 L341.09,132.45 L341.44,132.45 L341.80,132.45 L342.16,132.45 L342.51,132.45 L342.87,132.45 L343.23,132.45 L343.58,132.45 L343.94,132.45 L344.30,132.45 L344.65,132.45 L345.01,132.45 L345.37,132.45 L345.72,132.45 L346.08,132.45 L346.44,132.45 L346.79,132.45 L347.15,132.45 L347.51,132.45 L347.87,132.45 L348.22,132.45 L348.58,132.45 L348.94,132.45 L349.29,132.31 L349.65,130.93 L350.01,128.83 L350.36,125.57 L350.72,120.75 L351.08,115.28 L351.43,110.07 L351.79,105.72 L352.15,101.49 L352.50,97.45 L352.86,93.82 L353.22,90.79 L353.57,88.16 L353.93,85.80 L354.29,83.73 L354.64,81.98 L355.00,80.51 L355.36,79.19 L355.71,78.03 L356.07,77.04 L356.43,76.23 L356.79,75.55 L357.14,74.93 L357.50,74.37 L357.86,73.89 L358.21,73.50 L358.57,73.21 L358.93,72.97 L359.28,72.75 L359.64,72.55 L360.00,72.37 L360.35,72.21 L360.71,72.10 L361.07,72.03 L361.42,72.00 L361.78,72.00 L362.14,72.00 L362.49,72.00 L362.85,72.00 L363.21,72.00 L363.56,72.00 L363.92,72.00 L364.28,72.00 L364.63,72.00 L364.99,72.00 L365.35,72.00 L365.71,72.00 L366.06,72.00 L366.42,72.00 L366.78,72.00 L367.13,72.00 L367.49,72.00 L367.85,72.00 L368.20,72.00 L368.56,72.00 L368.92,72.00 L369.27,72.00 L369.63,72.00 L369.99,72.00 L370.34,72.00 L370.70,72.00 L371.06,72.00 L371.41,72.00 L371.77,72.00 L372.13,72.00 L372.48,72.00 L372.84,72.00 L373.20,72.00 L373.55,72.00 L373.91,72.00 L374.27,72.00 L374.63,72.00 L374.98,72.00 L375.34,72.00 L375.70,72.00 L376.05,72.00 L376.41,72.00 L376.77,72.00 L377.12,72.00 L377.48,72.00 L377.84,72.00 L378.19,72.00 L378.55,72.00 L378.91,72.00 L379.26,72.00 L379.62,72.00 L379.98,72.00 L380.33,72.00 L380.69,72.00 L381.05,72.00 L381.40,72.00 L381.76,72.00 L382.12,72.00 L382.48,72.00 L382.83,72.00 L383.19,72.00 L383.55,72.00 L383.90,72.00 L384.26,72.00 L384.62,72.00 L384.97,72.00 L385.33,72.00 L385.69,72.00 L386.04,72.00 L386.40,72.00 L386.76,72.00 L387.11,72.00 L387.47,72.00 L387.83,72.00 L388.18,72.00 L388.54,72.00 L388.90,72.00 L389.25,72.00 L389.61,72.00 L389.97,72.00 L390.32,72.00 L390.68,72.00 L391.04,72.00 L391.40,72.00 L391.75,72.00 L392.11,72.00 L392.47,72.00 L392.82,72.00 L393.18,72.00 L393.54,72.00 L393.89,72.00 L394.25,72.00 L394.61,72.00 L394.96,72.00 L395.32,72.00 L395.68,72.00 L396.03,72.00 L396.39,72.00 L396.75,72.00 L397.10,72.00 L397.46,72.00 L397.82,72.00 L398.17,72.00 L398.53,72.00 L398.89,72.00 L399.24,72.00 L399.60,72.00 L399.96,72.00 L400.32,72.00 L400.67,72.00 L401.03,72.00 L401.39,72.00 L401.74,72.00 L402.10,72.00 L402.46,72.00 L402.81,72.00 L403.17,72.00 L403.53,72.00 L403.88,72.00 L404.24,72.00 L404.60,72.00 L404.95,72.00 L405.31,72.00 L405.67,72.00 L406.02,72.00 L406.38,72.00 L406.74,72.00 L407.09,72.00 L407.45,72.00 L407.81,72.00 L408.16,72.00 L408.52,72.00 L408.88,72.00 L409.24,72.00 L409.59,72.00 L409.95,72.00 L410.31,72.00 L410.66,72.00 L411.02,72.00 L411.38,72.00 L411.73,72.00 L412.09,72.00 L412.45,72.00 L412.80,72.00 L413.16,72.00 L413.52,72.00 L413.87,72.00 L414.23,72.00 L414.59,72.00 L414.94,72.00 L415.30,72.00 L415.66,72.00 L416.01,72.00 L416.37,72.00 L416.73,72.00 L417.08,72.00 L417.44,72.00 L417.80,72.00 L418.16,72.00 L418.51,72.00 L418.87,72.00 L419.23,72.00 L419.58,72.00 L419.94,72.00 L420.30,72.00 L420.65,74.28 L421.01,78.63 L421.37,81.19 L421.72,83.23 L422.08,84.57 L422.44,84.77 L422.79,83.98 L423.15,82.83 L423.51,81.83 L423.86,80.78 L424.22,79.64 L424.58,78.49 L424.93,77.41 L425.29,76.51 L425.65,75.72 L426.01,74.91 L426.36,74.10 L426.72,73.31 L427.08,72.57 L427.43,72.30 L427.79,72.11 L428.15,72.00 L428.50,71.93 L428.86,71.31 L429.22,71.55 L429.57,71.71 L429.93,72.28 L430.29,71.00 L430.64,71.78 L431.00,72.18 L431.36,72.75 L431.71,73.18 L432.07,73.51 L432.43,72.78 L432.78,72.88 L433.14,73.50 L433.50,72.71 L433.85,72.49 L434.21,72.10 L434.57,71.70 L434.93,71.46 L435.28,71.70 L435.64,72.62 L436.00,72.53 L436.35,72.43 L436.71,71.73 L437.07,69.44 L437.42,68.92 L437.78,68.96 L438.14,70.02 L438.49,71.04 L438.85,71.08 L439.21,70.60 L439.56,70.66 L439.92,70.69 L440.28,70.77 L440.63,70.57 L440.99,70.10 L441.35,70.54 L441.70,71.31 L442.06,72.40 L442.42,72.85 L442.77,72.19 L443.13,71.34 L443.49,70.82 L443.85,69.94 L444.20,70.56 L444.56,70.90 L444.92,71.44 L445.27,72.00 L445.63,71.19 L445.99,71.39 L446.34,72.11 L446.70,72.26 L447.06,73.20 L447.41,73.92 L447.77,73.40 L448.13,72.82 L448.48,71.67 L448.84,71.18 L449.20,70.31 L449.55,70.21 L449.91,71.59 L450.27,71.37 L450.62,71.88 L450.98,72.37 L451.34,72.59 L451.69,72.74 L452.05,72.21 L452.41,71.69 L452.77,70.03 L453.12,70.03 L453.48,69.64 L453.84,69.93 L454.19,71.48 L454.55,70.95 L454.91,72.03 L455.26,72.10 L455.62,71.50 L455.98,71.28 L456.33,70.99 L456.69,71.38 L457.05,70.87 L457.40,71.33 L457.76,71.66 L458.12,70.90 L458.47,71.57 L458.83,72.01 L459.19,72.07 L459.54,73.40 L459.90,73.47 L460.26,72.26 L460.61,72.44 L460.97,71.73 L461.33,72.00 L461.69,73.20 L462.04,72.03 L462.40,71.60 L462.76,71.36 L463.11,71.07 L463.47,72.20 L463.83,73.02 L464.18,73.17 L464.54,73.60 L464.90,73.05 L465.25,72.38 L465.61,71.71 L465.97,71.36 L466.32,72.17 L466.68,72.49 L467.04,73.18 L467.39,72.67 L467.75,71.75 L468.11,71.35 L468.46,71.08 L468.82,72.38 L469.18,72.19 L469.54,71.96 L469.89,72.51 L470.25,71.57 L470.61,71.45 L470.96,72.57 L471.32,71.00 L471.68,71.23 L472.03,72.33 L472.39,71.15 L472.75,71.86 L473.10,72.01 L473.46,71.07 L473.82,72.68 L474.17,71.94 L474.53,72.02 L474.89,72.31 L475.24,71.56 L475.60,72.22 L475.96,71.40 L476.31,71.94 L476.67,71.37 L477.03,71.72 L477.38,72.48 L477.74,72.19 L478.10,73.06 L478.46,73.30 L478.81,72.51 L479.17,72.48 L479.53,71.44 L479.88,70.85 L480.24,71.80 L480.60,72.65 L480.95,73.53 L481.31,73.61 L481.67,73.11 L482.02,72.60 L482.38,71.78 L482.74,72.75 L483.09,73.36 L483.45,72.90 L483.81,72.33 L484.16,71.28 L484.52,71.16 L484.88,70.94 L485.23,71.67 L485.59,71.41 L485.95,71.13 L486.30,71.80 L486.66,72.07 L487.02,72.33 L487.38,71.36 L487.73,69.96 L488.09,70.37 L488.45,70.82 L488.80,71.63 L489.16,72.76 L489.52,72.17 L489.87,71.68 L490.23,71.53 L490.59,70.76 L490.94,71.07 L491.30,71.81" stroke="#0000ff" stroke-width="3"/>
<path d="M56.00,132.45 L56.36,132.45 L56.71,132.45 L57.07,132.45 L57.43,132.45 L57.78,132.45 L58.14,132.45 L58.50,132.45 L58.85,132.45 L59.21,132.45 L59.57,132.45 L59.92,132.45 L60.28,132.45 L60.64,132.45 L61.00,132.45 L61.35,132.45 L61.71,132.45 L62.07,132.45 L62.42,132.45 L62.78,132.45 L63.14,132.45 L63.49,132.45 L63.85,130.08 L64.21,125.34 L64.56,119.42 L64.92,112.74 L65.28,106.00 L65.63,99.79 L65.99,93.50 L66.35,87.18 L66.70,81.14 L67.06,75.70 L67.42,71.18 L67.77,67.54 L68.13,64.35 L68.49,61.23 L68.84,57.88 L69.20,54.49 L69.56,51.04 L69.92,47.46 L70.27,43.74 L70.63,40.07 L70.99,36.51 L71.34,33.00 L71.70,29.70 L72.06,26.69 L72.41,23.81 L72.77,21.27 L73.13,19.26 L73.48,17.48 L73.84,15.94 L74.20,14.73 L74.55,13.92 L74.91,13.24 L75.27,12.62 L75.62,12.12 L75.98,11.75 L76.34,11.56 L76.69,11.55 L77.05,11.55 L77.41,11.55 L77.77,11.55 L78.12,11.55 L78.48,11.55 L78.84,11.55 L79.19,11.55 L79.55,11.55 L79.91,11.55 L80.26,11.55 L80.62,11.55 L80.98,11.55 L81.33,11.55 L81.69,11.55 L82.05,11.55 L82.40,11.55 L82.76,11.55 L83.12,11.55 L83.47,11.55 L83.83,11.55 L84.19,11.55 L84.54,11.55 L84.90,11.55 L85.26,11.55 L85.61,11.55 L85.97,11.55 L86.33,11.55 L86.69,11.55 L87.04,11.55 L87.40,11.55 L87.76,11.55 L88.11,11.55 L88.47,11.55 L88.83,11.55 L89.18,11.55 L89.54,11.55 L89.90,11.55 L90.25,11.55 L90.61,11.55 L90.97,11.55 L91.32,11.55 L91.68,11.55 L92.04,11.55 L92.39,11.55 L92.75,11.55 L93.11,11.55 L93.46,11.55 L93.82,11.55 L94.18,11.55 L94.53,11.55 L94.89,11.55 L95.25,11.55 L95.61,11.55 L95.96,11.55 L96.32,11.55 L96.68,11.55 L97.03,11.55 L97.39,11.55 L97.75,11.55 L98.10,11.55 L98.46,11.55 L98.82,11.55 L99.17,11.55 L99.53,11.55 L99.89,11.55 L100.24,11.55 L100.60,11.55 L100.96,11.55 L101.31,11.55 L101.67,11.55 L102.03,11.55 L102.38,11.55 L102.74,11.55 L103.10,11.55 L103.45,11.55 L103.81,11.55 L104.17,11.55 L104.53,11.55 L104.88,11.55 L105.24,11.55 L105.60,11.55 L105.95,11.55 L106.31,11.55 L106.67,11.55 L107.02,11.55 L107.38,11.55 L107.74,11.55 L108.09,11.55 L108.45,11.55 L108.81,11.55 L109.16,11.55 L109.52,11.55 L109.88,11.55 L110.23,11.55 L110.59,11.55 L110.95,11.55 L111.30,11.55 L111.66,11.55 L112.02,11.55 L112.37,11.55 L112.73,11.55 L113.09,11.55 L113.45,11.55 L113.80,11.55 L114.16,11.55 L114.52,11.55 L114.87,11.55 L115.23,11.55 L115.59,11.55 L115.94,11.55 L116.30,11.55 L116.66,11.55 L117.01,11.55 L117.37,11.55 L117.73,11.55 L118.08,11.55 L118.44,11.55 L118.80,11.55 L119.15,11.55 L119.51,11.55 L119.87,11.55 L120.22,11.55 L120.58,11.55 L120.94,11.55 L121.30,11.55 L121.65,11.55 L122.01,11.55 L122.37,11.55 L122.72,11.55 L123.08,11.55 L123.44,11.55 L123.79,11.55 L124.15,11.55 L124.51,11.55 L124.86,11.55 L125.22,11.55 L125.58,11.55 L125.93,11.55 L126.29,11.55 L126.65,11.55 L127.00,11.55 L127.36,11.55 L127.72,11.55 L128.07,11.55 L128.43,11.55 L128.79,11.55 L129.14,11.55 L129.50,11.55 L129.86,11.55 L130.22,11.55 L130.57,11.55 L130.93,11.55 L131.29,11.55 L131.64,11.55 L132.00,11.55 L132.36,11.55 L132.71,11.55 L133.07,11.55 L133.43,11.55 L133.78,11.55 L134.14,11.55 L134.50,11.55 L134.85,11.81 L135.21,12.55 L135.57,13.68 L135.92,15.10 L136.28,16.73 L136.64,18.48 L136.99,20.26 L137.35,21.99 L137.71,23.58 L138.06,25.26 L138.42,27.06 L138.78,28.90 L139.14,30.69 L139.49,32.34 L139.85,33.86 L140.21,35.33 L140.56,36.75 L140.92,38.11 L141.28,39.42 L141.63,40.68 L141.99,41.89 L142.35,43.06 L142.70,44.20 L143.06,45.30 L143.42,46.37 L143.77,47.40 L144.13,48.40 L144.49,49.37 L144.84,50.30 L145.20,51.19 L145.56,52.06 L145.91,52.91 L146.27,53.74 L146.63,54.54 L146.98,55.33 L147.34,56.09 L147.70,56.84 L148.06,57.57 L148.41,58.28 L148.77,58.98 L149.13,59.67 L149.48,60.34 L149.84,61.00 L150.20,61.64 L150.55,62.28 L150.91,62.90 L151.27,63.51 L151.62,64.11 L151.98,64.70 L152.34,65.28 L152.69,65.85 L153.05,66.42 L153.41,66.98 L153.76,67.53 L154.12,68.08 L154.48,68.63 L154.83,69.17 L155.19,69.72 L155.55,70.26 L155.90,70.79 L156.26,71.32 L156.62,71.83 L156.98,72.32 L157.33,72.79 L157.69,73.24 L158.05,73.65 L158.40,74.05 L158.76,74.43 L159.12,74.81 L159.47,75.18 L159.83,75.53 L160.19,75.88 L160.54,76.22 L160.90,76.55 L161.26,76.88 L161.61,77.20 L161.97,77.51 L162.33,77.82 L162.68,78.12 L163.04,78.42 L163.40,78.71 L163.75,79.00 L164.11,79.29 L164.47,79.58 L164.82,79.86 L165.18,80.14 L165.54,80.42 L165.90,80.71 L166.25,80.99 L166.61,81.26 L166.97,81.53 L167.32,81.80 L167.68,82.07 L168.04,82.33 L168.39,82.59 L168.75,82.85 L169.11,83.10 L169.46,83.36 L169.82,83.60 L170.18,83.85 L170.53,84.10 L170.89,84.34 L171.25,84.58 L171.60,84.82 L171.96,85.06 L172.32,85.29 L172.67,85.53 L173.03,85.76 L173.39,85.99 L173.75,86.22 L174.10,86.45 L174.46,86.68 L174.82,86.91 L175.17,87.14 L175.53,87.37 L175.89,87.59 L176.24,87.82 L176.60,88.04 L176.96,88.27 L177.31,88.49 L177.67,88.71 L178.03,88.92 L178.38,89.14 L178.74,89.35 L179.10,89.55 L179.45,89.76 L179.81,89.96 L180.17,90.16 L180.52,90.35 L180.88,90.54 L181.24,90.73 L181.59,90.91 L181.95,91.09 L182.31,91.26 L182.67,91.43 L183.02,91.59 L183.38,91.74 L183.74,91.90 L184.09,92.05 L184.45,92.20 L184.81,92.34 L185.16,92.48 L185.52,92.63 L185.88,92.77 L186.23,92.91 L186.59,93.05 L186.95,93.20 L187.30,93.34 L187.66,93.49 L188.02,93.64 L188.37,93.79 L188.73,93.94 L189.09,94.10 L189.44,94.27 L189.80,94.44 L190.16,94.61 L190.51,94.79 L190.87,94.98 L191.23,95.17 L191.59,95.36 L191.94,95.56 L192.30,95.76 L192.66,95.96 L193.01,96.16 L193.37,96.36 L193.73,96.56 L194.08,96.77 L194.44,96.97 L194.80,97.17 L195.15,97.37 L195.51,97.56 L195.87,97.75 L196.22,97.94 L196.58,98.12 L196.94,98.30 L197.29,98.47 L197.65,98.63 L198.01,98.79 L198.36,98.95 L198.72,99.10 L199.08,99.26 L199.43,99.41 L199.79,99.55 L200.15,99.70 L200.51,99.84 L200.86,99.98 L201.22,100.12 L201.58,100.26 L201.93,100.40 L202.29,100.53 L202.65,100.67 L203.00,100.80 L203.36,100.94 L203.72,101.07 L204.07,101.20 L204.43,101.34 L204.79,101.47 L205.14,101.61 L205.50,101.74 L205.86,101.88 L206.21,102.01 L206.57,102.15 L206.93,102.28 L207.28,102.41 L207.64,102.54 L208.00,102.67 L208.36,102.80 L208.71,102.92 L209.07,103.05 L209.43,103.18 L209.78,103.31 L210.14,103.44 L210.50,103.56 L210.85,103.69 L211.21,103.82 L211.57,103.95 L211.92,104.08 L212.28,104.22 L212.64,104.35 L212.99,104.48 L213.35,104.62 L213.71,104.76 L214.06,104.90 L214.42,105.04 L214.78,105.18 L215.13,105.32 L215.49,105.47 L215.85,105.62 L216.20,105.77 L216.56,105.91 L216.92,106.06 L217.28,106.21 L217.63,106.36 L217.99,106.51 L218.35,106.65 L218.70,106.80 L219.06,106.95 L219.42,107.09 L219.77,107.23 L220.13,107.37 L220.49,107.51 L220.84,107.65 L221.20,107.78 L221.56,107.91 L221.91,108.04 L222.27,108.16 L222.63,108.28 L222.98,108.40 L223.34,108.52 L223.70,108.63 L224.05,108.75 L224.41,108.86 L224.77,108.97 L225.12,109.08 L225.48,109.19 L225.84,109.30 L226.20,109.41 L226.55,109.52 L226.91,109.64 L227.27,109.75 L227.62,109.86 L227.98,109.98 L228.34,110.09 L228.69,110.21 L229.05,110.34 L229.41,110.46 L229.76,110.59 L230.12,110.72 L230.48,110.85 L230.83,110.99 L231.19,111.14 L231.55,111.29 L231.90,111.44 L232.26,111.60 L232.62,111.76 L232.97,111.91 L233.33,112.08 L233.69,112.24 L234.04,112.40 L234.40,112.56 L234.76,112.72 L235.12,112.87 L235.47,113.03 L235.83,113.18 L236.19,113.32 L236.54,113.47 L236.90,113.60 L237.26,113.73 L237.61,113.86 L237.97,113.98 L238.33,114.10 L238.68,114.22 L239.04,114.34 L239.40,114.45 L239.75,114.57 L240.11,114.68 L240.47,114.79 L240.82,114.90 L241.18,115.01 L241.54,115.11 L241.89,115.22 L242.25,115.32 L242.61,115.43 L242.96,115.53 L243.32,115.63 L243.68,115.73 L244.04,115.83 L244.39,115.93 L244.75,116.03 L245.11,116.12 L245.46,116.22 L245.82,116.32 L246.18,116.41 L246.53,116.51 L246.89,116.60 L247.25,116.69 L247.60,116.79 L247.96,116.88 L248.32,116.98 L248.67,117.07 L249.03,117.16 L249.39,117.25 L249.74,117.35 L250.10,117.44 L250.46,117.53 L250.81,117.63 L251.17,117.72 L251.53,117.81 L251.89,117.91 L252.24,118.00 L252.60,118.10 L252.96,118.19 L253.31,118.29 L253.67,118.39 L254.03,118.48 L254.38,118.58 L254.74,118.68 L255.10,118.77 L255.45,118.87 L255.81,118.97 L256.17,119.07 L256.52,119.16 L256.88,119.26 L257.24,119.36 L257.59,119.45 L257.95,119.55 L258.31,119.65 L258.66,119.74 L259.02,119.84 L259.38,119.94 L259.73,120.03 L260.09,120.13 L260.45,120.23 L260.81,120.32 L261.16,120.42 L261.52,120.51 L261.88,120.60 L262.23,120.70 L262.59,120.79 L262.95,120.89 L263.30,120.98 L263.66,121.07 L264.02,121.16 L264.37,121.25 L264.73,121.34 L265.09,121.43 L265.44,121.52 L265.80,121.61 L266.16,121.70 L266.51,121.78 L266.87,121.87 L267.23,121.96 L267.58,122.04 L267.94,122.12 L268.30,122.21 L268.65,122.29 L269.01,122.37 L269.37,122.45 L269.73,122.53 L270.08,122.61 L270.44,122.69 L270.80,122.76 L271.15,122.84 L271.51,122.92 L271.87,122.99 L272.22,123.06 L272.58,123.14 L272.94,123.21 L273.29,123.28 L273.65,123.35 L274.01,123.43 L274.36,123.50 L274.72,123.57 L275.08,123.64 L275.43,123.71 L275.79,123.78 L276.15,123.84 L276.50,123.91 L276.86,123.98 L277.22,124.05 L277.57,124.12 L277.93,124.19 L278.29,124.25 L278.65,124.32 L279.00,124.39 L279.36,124.46 L279.72,124.52 L280.07,124.59 L280.43,124.66 L280.79,124.73 L281.14,124.79 L281.50,124.86 L281.86,124.93 L282.21,125.00 L282.57,125.07 L282.93,125.14 L283.28,125.21 L283.64,125.28 L284.00,125.35 L284.35,125.42 L284.71,125.49 L285.07,125.56 L285.42,125.64 L285.78,125.71 L286.14,125.78 L286.49,125.86 L286.85,125.93 L287.21,126.01 L287.57,126.08 L287.92,126.16 L288.28,126.23 L288.64,126.31 L288.99,126.39 L289.35,126.46 L289.71,126.54 L290.06,126.62 L290.42,126.69 L290.78,126.77 L291.13,126.85 L291.49,126.92 L291.85,127.00 L292.20,127.08 L292.56,127.16 L292.92,127.23 L293.27,127.31 L293.63,127.39 L293.99,127.46 L294.34,127.54 L294.70,127.61 L295.06,127.69 L295.41,127.76 L295.77,127.84 L296.13,127.91 L296.49,127.98 L296.84,128.06 L297.20,128.13 L297.56,128.20 L297.91,128.27 L298.27,128.34 L298.63,128.41 L298.98,128.48 L299.34,128.54 L299.70,128.61 L300.05,128.67 L300.41,128.74 L300.77,128.80 L301.12,128.86 L301.48,128.93 L301.84,128.99 L302.19,129.05 L302.55,129.11 L302.91,129.17 L303.26,129.23 L303.62,129.29 L303.98,129.35 L304.34,129.41 L304.69,129.46 L305.05,129.52 L305.41,129.58 L305.76,129.64 L306.12,129.69 L306.48,129.75 L306.83,129.80 L307.19,129.86 L307.55,129.92 L307.90,129.97 L308.26,130.02 L308.62,130.08 L308.97,130.13 L309.33,130.19 L309.69,130.24 L310.04,130.29 L310.40,130.34 L310.76,130.40 L311.11,130.45 L311.47,130.50 L311.83,130.55 L312.18,130.60 L312.54,130.66 L312.90,130.71 L313.26,130.76 L313.61,130.81 L313.97,130.86 L314.33,130.91 L314.68,130.96 L315.04,131.01 L315.40,131.06 L315.75,131.11 L316.11,131.16 L316.47,131.21 L316.82,131.26 L317.18,131.31 L317.54,131.36 L317.89,131.42 L318.25,131.47 L318.61,131.53 L318.96,131.59 L319.32,131.65 L319.68,131.71 L320.03,131.77 L320.39,131.83 L320.75,131.89 L321.10,131.95 L321.46,132.01 L321.82,132.06 L322.18,132.12 L322.53,132.17 L322.89,132.21 L323.25,132.26 L323.60,132.30 L323.96,132.34 L324.32,132.37 L324.67,132.40 L325.03,132.42 L325.39,132.44 L325.74,132.45 L326.10,132.45 L326.46,132.45 L326.81,132.45 L327.17,132.45 L327.53,132.45 L327.88,132.45 L328.24,132.45 L328.60,132.45 L328.95,132.45 L329.31,132.45 L329.67,132.45 L330.02,132.45 L330.38,132.45 L330.74,132.45 L331.10,132.45 L331.45,132.45 L331.81,132.45 L332.17,132.45 L332.52,132.45 L332.88,132.45 L333.24,132.45 L333.59,132.45 L333.95,132.45 L334.31,132.45 L334.66,132.45 L335.02,132.45 L335.38,132.45 L335.73,132.45 L336.09,132.45 L336.45,132.45 L336.80,132.45 L337.16,132.45 L337.52,132.45 L337.87,132.45 L338.23,132.45 L338.59,132.45 L338.94,132.45 L339.30,132.45 L339.66,132.45 L340.02,132.45 L340.37,132.45 L340.73,132.45 L341.09,132.45 L341.44,132.45 L341.80,132.45 L342.16,132.45 L342.51,132.45 L342.87,132.45 L343.23,132.45 L343.58,132.45 L343.94,132.45 L344.30,132.45 L344.65,132.45 L345.01,132.45 L345.37,132.45 L345.72,132.45 L346.08,132.45 L346.44,132.45 L346.79,132.45 L347.15,132.45 L347.51,132.45 L347.87,132.45 L348.22,132.45 L348.58,132.45 L348.94,132.45 L349.29,132.31 L349.65,130.93 L350.01,128.83 L350.36,125.57 L350.72,120.75 L351.08,115.28 L351.43,110.07 L351.79,105.72 L352.15,101.49 L352.50,97.45 L352.86,93.82 L353.22,90.79 L353.57,88.16 L353.93,85.80 L354.29,83.73 L354.64,81.98 L355.00,80.51 L355.36,79.19 L355.71,78.03 L356.07,77.04 L356.43,76.23 L356.79,75.55 L357.14,74.93 L357.50,74.37 L357.86,73.89 L358.21,73.50 L358.57,73.21 L358.93,72.97 L359.28,72.75 L359.64,72.55 L360.00,72.37 L360.35,72.21 L360.71,72.10 L361.07,72.03 L361.42,72.00 L361.78,72.00 L362.14,72.00 L362.49,72.00 L362.85,72.00 L363.21,72.00 L363.56,72.00 L363.92,72.00 L364.28,72.00 L364.63,72.00 L364.99,72.00 L365.35,72.00 L365.71,72.00 L366.06,72.00 L366.42,72.00 L366.78,72.00 L367.13,72.00 L367.49,72.00 L367.85,72.00 L368.20,72.00 L368.56,72.00 L368.92,72.00 L369.27,72.00 L369.63,72.00 L369.99,72.00 L370.34,72.00 L370.70,72.00 L371.06,72.00 L371.41,72.00 L371.77,72.00 L372.13,72.00 L372.48,72.00 L372.84,72.00 L373.20,72.00 L373.55,72.00 L373.91,72.00 L374.27,72.00 L374.63,72.00 L374.98,72.00 L375.34,72.00 L375.70,72.00 L376.05,72.00 L376.41,72.00 L376.77,72.00 L377.12,72.00 L377.48,72.00 L377.84,72.00 L378.19,72.00 L378.55,72.00 L378.91,72.00 L379.26,72.00 L379.62,72.00 L379.98,72.00 L380.33,72.00 L380.69,72.00 L381.05,72.00 L381.40,72.00 L381.76,72.00 L382.12,72.00 L382.48,72.00 L382.83,72.00 L383.19,72.00 L383.55,72.00 L383.90,72.00 L384.26,72.00 L384.62,72.00 L384.97,72.00 L385.33,72.00 L385.69,72.00 L386.04,72.00 L386.40,72.00 L386.76,72.00 L387.11,72.00 L387.47,72.00 L387.83,72.00 L388.18,72.00 L388.54,72.00 L388.90,72.00 L389.25,72.00 L389.61,72.00 L389.97,72.00 L390.32,72.00 L390.68,72.00 L391.04,72.00 L391.40,72.00 L391.75,72.00 L392.11,72.00 L392.47,72.00 L392.82,72.00 L393.18,72.00 L393.54,72.00 L393.89,72.00 L394.25,72.00 L394.61,72.00 L394.96,72.00 L395.32,72.00 L395.68,72.00 L396.03,72.00 L396.39,72.00 L396.75,72.00 L397.10,72.00 L397.46,72.00 L397.82,72.00 L398.17,72.00 L398.53,72.00 L398.89,72.00 L399.24,72.00 L399.60,72.00 L399.96,72.00 L400.32,72.00 L400.67,72.00 L401.03,72.00 L401.39,72.00 L401.74,72.00 L402.10,72.00 L402.46,72.00 L402.81,72.00 L403.17,72.00 L403.53,72.00 L403.88,72.00 L404.24,72.00 L404.60,72.00 L404.95,72.00 L405.31,72.00 L405.67,72.00 L406.02,72.00 L406.38,72.00 L406.74,72.00 L407.09,72.00 L407.45,72.00 L407.81,72.00 L408.16,72.00 L408.52,72.00 L408.88,72.00 L409.24,72.00 L409.59,72.00 L409.95,72.00 L410.31,72.00 L410.66,72.00 L411.02,72.00 L411.38,72.00 L411.73,72.00 L412.09,72.00 L412.45,72.00 L412.80,72.00 L413.16,72.00 L413.52,72.00 L413.87,72.00 L414.23,72.00 L414.59,72.00 L414.94,72.00 L415.30,72.00 L415.66,72.00 L416.01,72.00 L416.37,72.00 L416.73,72.00 L417.08,72.00 L417.44,72.00 L417.80,72.00 L418.16,72.00 L418.51,72.00 L418.87,72.00 L419.23,72.00 L419.58,72.00 L419.94,72.00 L420.30,72.00 L420.65,74.28 L421.01,78.21 L421.37,80.36 L421.72,82.02 L422.08,83.02 L422.44,82.91 L422.79,81.89 L423.15,80.55 L423.51,79.45 L423.86,78.37 L424.22,77.26 L424.58,76.21 L424.93,75.32 L425.29,74.66 L425.65,74.16 L426.01,73.70 L426.36,73.27 L426.72,72.89 L427.08,72.57 L427.43,72.30 L427.79,72.11 L428.15,72.00 L428.50,71.93 L428.86,72.89 L429.22,72.92 L429.57,72.36 L429.93,72.23 L430.29,72.25 L430.64,72.75 L431.00,72.08 L431.36,71.66 L431.71,70.71 L432.07,70.10 L432.43,70.61 L432.78,71.17 L433.14,72.50 L433.50,72.04 L433.85,72.26 L434.21,72.45 L434.57,71.80 L434.93,71.51 L435.28,70.87 L435.64,70.73 L436.00,70.88 L436.35,71.20 L436.71,71.34 L437.07,71.22 L437.42,71.03 L437.78,71.02 L438.14,70.17 L438.49,70.45 L438.85,70.71 L439.21,71.46 L439.56,73.42 L439.92,73.39 L440.28,73.65 L440.63,72.93 L440.99,72.04 L441.35,72.40 L441.70,71.73 L442.06,72.38 L442.42,73.06 L442.77,72.63 L443.13,73.16 L443.49,73.39 L443.85,72.64 L444.20,73.34 L444.56,73.21 L444.92,72.42 L445.27,72.07 L445.63,70.66 L445.99,70.07 L446.34,69.88 L446.70,70.71 L447.06,70.83 L447.41,72.09 L447.77,72.98 L448.13,73.32 L448.48,73.24 L448.84,71.89 L449.20,71.73 L449.55,70.17 L449.91,70.90 L450.27,71.40 L450.62,71.26 L450.98,72.46 L451.34,72.00 L451.69,71.24 L452.05,71.74 L452.41,70.92 L452.77,71.17 L453.12,71.24 L453.48,70.61 L453.84,70.71 L454.19,70.37 L454.55,71.02 L454.91,71.82 L455.26,71.52 L455.62,72.37 L455.98,72.38 L456.33,71.53 L456.69,72.48 L457.05,71.84 L457.40,71.45 L457.76,71.72 L458.12,71.74 L458.47,73.04 L458.83,73.95 L459.19,74.19 L459.54,74.04 L459.90,73.21 L460.26,72.64 L460.61,72.64 L460.97,72.47 L461.33,71.77 L461.69,72.30 L462.04,72.18 L462.40,71.23 L462.76,71.15 L463.11,71.33 L463.47,71.24 L463.83,71.92 L464.18,71.77 L464.54,71.16 L464.90,71.35 L465.25,71.90 L465.61,72.15 L465.97,72.08 L466.32,72.08 L466.68,71.85 L467.04,72.30 L467.39,72.13 L467.75,72.20 L468.11,71.92 L468.46,71.38 L468.82,71.49 L469.18,71.55 L469.54,71.19 L469.89,71.84 L470.25,71.86 L470.61,71.83 L470.96,73.14 L471.32,72.76 L471.68,72.82 L472.03,72.53 L472.39,71.68 L472.75,72.05 L473.10,72.48 L473.46,72.52 L473.82,71.83 L474.17,71.21 L474.53,71.12 L474.89,70.82 L475.24,71.83 L475.60,72.37 L475.96,71.78 L476.31,72.24 L476.67,72.75 L477.03,72.94 L477.38,73.27 L477.74,72.99 L478.10,71.76 L478.46,71.68 L478.81,71.41 L479.17,71.28 L479.53,71.87 L479.88,71.21 L480.24,71.31 L480.60,71.86 L480.95,71.34 L481.31,72.21 L481.67,72.40 L482.02,72.03 L482.38,72.31 L482.74,72.10 L483.09,72.14 L483.45,72.20 L483.81,71.96 L484.16,71.99 L484.52,71.94 L484.88,71.99 L485.23,72.96 L485.59,71.50 L485.95,71.56 L486.30,72.08 L486.66,70.93 L487.02,72.52 L487.38,72.33 L487.73,71.33 L488.09,72.20 L488.45,71.93 L488.80,72.32 L489.16,72.74 L489.52,73.15 L489.87,73.49 L490.23,73.32 L490.59,72.83 L490.94,71.88 L491.30,70.62" stroke="#ff0000" stroke-width="3"/>
</g>
<text transform="translate(33,72.0) rotate(-90)" font-size="13.2" fill="#262626" text-anchor="middle">Temperature y(t)</text>
<rect x="178.5" y="14" width="83.5" height="59.5" fill="#fff" stroke="#555555" stroke-width="1.15"/>
<line x1="182.5" y1="22.75" x2="222.5" y2="22.75" stroke="#000" stroke-width="1.5" stroke-dasharray="1.4 1.8"/>
<text x="226.0" y="26.55" font-size="10.5" fill="#000">w</text>
<line x1="182.5" y1="36.75" x2="222.5" y2="36.75" stroke="#000" stroke-width="3"/>
<text x="226.0" y="40.55" font-size="10.5" fill="#000">MRDP</text>
<line x1="182.5" y1="50.75" x2="222.5" y2="50.75" stroke="#0000ff" stroke-width="3"/>
<text x="226.0" y="54.55" font-size="10.5" fill="#000">APR</text>
<line x1="182.5" y1="64.75" x2="222.5" y2="64.75" stroke="#ff0000" stroke-width="3"/>
<text x="226.0" y="68.55" font-size="10.5" fill="#000">PPM</text>
<clipPath id="c1"><rect x="56.0" y="189.5" width="436.8" height="136.0"/></clipPath>
<line x1="63.14" y1="191.0" x2="63.14" y2="324.0" stroke="#dfdfdf" stroke-width="0.8"/>
<line x1="134.50" y1="191.0" x2="134.50" y2="324.0" stroke="#dfdfdf" stroke-width="0.8"/>
<line x1="205.86" y1="191.0" x2="205.86" y2="324.0" stroke="#dfdfdf" stroke-width="0.8"/>
<line x1="277.22" y1="191.0" x2="277.22" y2="324.0" stroke="#dfdfdf" stroke-width="0.8"/>
<line x1="348.58" y1="191.0" x2="348.58" y2="324.0" stroke="#dfdfdf" stroke-width="0.8"/>
<line x1="419.94" y1="191.0" x2="419.94" y2="324.0" stroke="#dfdfdf" stroke-width="0.8"/>
<line x1="491.30" y1="191.0" x2="491.30" y2="324.0" stroke="#dfdfdf" stroke-width="0.8"/>
<line x1="56.0" y1="324.00" x2="491.3" y2="324.00" stroke="#dfdfdf" stroke-width="0.8"/>
<line x1="56.0" y1="257.50" x2="491.3" y2="257.50" stroke="#dfdfdf" stroke-width="0.8"/>
<line x1="56.0" y1="191.00" x2="491.3" y2="191.00" stroke="#dfdfdf" stroke-width="0.8"/>
<rect x="56.0" y="191.0" width="435.3" height="133.0" fill="none" stroke="#555555" stroke-width="1.35"/>
<line x1="63.14" y1="324.0" x2="63.14" y2="319.4" stroke="#555555" stroke-width="1.35"/>
<line x1="63.14" y1="191.0" x2="63.14" y2="195.6" stroke="#555555" stroke-width="1.35"/>
<text x="63.14" y="340.6" font-size="11.9" fill="#262626" text-anchor="middle">100</text>
<line x1="134.50" y1="324.0" x2="134.50" y2="319.4" stroke="#555555" stroke-width="1.35"/>
<line x1="134.50" y1="191.0" x2="134.50" y2="195.6" stroke="#555555" stroke-width="1.35"/>
<text x="134.50" y="340.6" font-size="11.9" fill="#262626" text-anchor="middle">200</text>
<line x1="205.86" y1="324.0" x2="205.86" y2="319.4" stroke="#555555" stroke-width="1.35"/>
<line x1="205.86" y1="191.0" x2="205.86" y2="195.6" stroke="#555555" stroke-width="1.35"/>
<text x="205.86" y="340.6" font-size="11.9" fill="#262626" text-anchor="middle">300</text>
<line x1="277.22" y1="324.0" x2="277.22" y2="319.4" stroke="#555555" stroke-width="1.35"/>
<line x1="277.22" y1="191.0" x2="277.22" y2="195.6" stroke="#555555" stroke-width="1.35"/>
<text x="277.22" y="340.6" font-size="11.9" fill="#262626" text-anchor="middle">400</text>
<line x1="348.58" y1="324.0" x2="348.58" y2="319.4" stroke="#555555" stroke-width="1.35"/>
<line x1="348.58" y1="191.0" x2="348.58" y2="195.6" stroke="#555555" stroke-width="1.35"/>
<text x="348.58" y="340.6" font-size="11.9" fill="#262626" text-anchor="middle">500</text>
<line x1="419.94" y1="324.0" x2="419.94" y2="319.4" stroke="#555555" stroke-width="1.35"/>
<line x1="419.94" y1="191.0" x2="419.94" y2="195.6" stroke="#555555" stroke-width="1.35"/>
<text x="419.94" y="340.6" font-size="11.9" fill="#262626" text-anchor="middle">600</text>
<text x="491.30" y="340.6" font-size="11.9" fill="#262626" text-anchor="middle">700</text>
<text x="52.0" y="328.90" font-size="11.9" fill="#262626" text-anchor="end">0</text>
<line x1="56.0" y1="257.50" x2="60.6" y2="257.50" stroke="#555555" stroke-width="1.35"/>
<line x1="491.3" y1="257.50" x2="486.7" y2="257.50" stroke="#555555" stroke-width="1.35"/>
<text x="52.0" y="262.40" font-size="11.9" fill="#262626" text-anchor="end">50</text>
<text x="52.0" y="195.90" font-size="11.9" fill="#262626" text-anchor="end">100</text>
<g clip-path="url(#c1)" fill="none" stroke-linejoin="round" stroke-linecap="butt">
<path d="M56.00,317.28 L56.36,317.54 L56.71,317.62 L57.07,317.74 L57.43,318.11 L57.78,318.04 L58.14,317.15 L58.50,316.73 L58.85,316.77 L59.21,316.92 L59.57,316.96 L59.92,317.21 L60.28,317.67 L60.64,317.82 L61.00,317.93 L61.35,316.71 L61.71,316.51 L62.07,316.36 L62.42,317.34 L62.78,317.49 L63.14,317.35 L63.49,296.29 L63.85,261.19 L64.21,226.10 L64.56,191.00 L64.92,191.00 L65.28,191.00 L65.63,191.00 L65.99,191.00 L66.35,191.00 L66.70,191.00 L67.06,191.00 L67.42,191.00 L67.77,191.00 L68.13,191.00 L68.49,191.00 L68.84,191.00 L69.20,191.00 L69.56,191.00 L69.92,191.00 L70.27,191.00 L70.63,191.00 L70.99,191.00 L71.34,191.00 L71.70,191.00 L72.06,191.00 L72.41,197.74 L72.77,214.59 L73.13,231.43 L73.48,245.17 L73.84,254.24 L74.20,261.24 L74.55,259.99 L74.91,257.36 L75.27,253.79 L75.62,250.23 L75.98,249.63 L76.34,249.50 L76.69,251.24 L77.05,251.65 L77.41,251.45 L77.77,251.66 L78.12,252.13 L78.48,251.83 L78.84,252.49 L79.19,253.75 L79.55,252.74 L79.91,252.71 L80.26,253.70 L80.62,253.15 L80.98,252.91 L81.33,255.45 L81.69,256.00 L82.05,254.95 L82.40,255.60 L82.76,256.53 L83.12,257.80 L83.47,258.69 L83.83,259.56 L84.19,258.04 L84.54,258.75 L84.90,258.79 L85.26,258.21 L85.61,258.10 L85.97,258.65 L86.33,258.44 L86.69,258.72 L87.04,260.67 L87.40,261.93 L87.76,263.00 L88.11,261.65 L88.47,260.88 L88.83,261.65 L89.18,262.38 L89.54,263.27 L89.90,262.28 L90.25,261.54 L90.61,260.01 L90.97,262.71 L91.32,264.38 L91.68,264.88 L92.04,263.46 L92.39,262.28 L92.75,263.46 L93.11,264.63 L93.46,265.85 L93.82,264.38 L94.18,263.64 L94.53,266.48 L94.89,267.52 L95.25,267.41 L95.61,266.70 L95.96,266.30 L96.32,265.98 L96.68,265.53 L97.03,266.19 L97.39,267.44 L97.75,266.58 L98.10,265.80 L98.46,267.19 L98.82,268.34 L99.17,268.33 L99.53,268.55 L99.89,268.34 L100.24,268.02 L100.60,268.75 L100.96,269.60 L101.31,269.48 L101.67,270.03 L102.03,269.16 L102.38,268.47 L102.74,269.03 L103.10,269.59 L103.45,271.46 L103.81,272.52 L104.17,272.90 L104.53,272.73 L104.88,272.02 L105.24,271.13 L105.60,271.54 L105.95,272.16 L106.31,272.14 L106.67,271.64 L107.02,272.20 L107.38,272.81 L107.74,273.68 L108.09,273.89 L108.45,274.03 L108.81,274.94 L109.16,274.16 L109.52,273.76 L109.88,273.93 L110.23,273.82 L110.59,273.33 L110.95,273.38 L111.30,274.18 L111.66,275.75 L112.02,274.40 L112.37,273.14 L112.73,274.93 L113.09,275.67 L113.45,274.90 L113.80,275.61 L114.16,276.38 L114.52,275.40 L114.87,274.48 L115.23,275.42 L115.59,277.14 L115.94,278.01 L116.30,277.14 L116.66,277.29 L117.01,276.91 L117.37,275.91 L117.73,276.41 L118.08,276.68 L118.44,276.33 L118.80,276.25 L119.15,276.21 L119.51,275.75 L119.87,275.12 L120.22,274.35 L120.58,275.52 L120.94,276.36 L121.30,275.88 L121.65,276.07 L122.01,277.12 L122.37,276.09 L122.72,275.69 L123.08,277.54 L123.44,277.63 L123.79,277.07 L124.15,277.60 L124.51,277.38 L124.86,277.32 L125.22,277.52 L125.58,277.92 L125.93,277.87 L126.29,278.34 L126.65,278.09 L127.00,276.50 L127.36,278.06 L127.72,279.75 L128.07,277.68 L128.43,277.43 L128.79,277.56 L129.14,277.37 L129.50,276.44 L129.86,277.21 L130.22,277.93 L130.57,278.80 L130.93,278.44 L131.29,278.19 L131.64,278.35 L132.00,278.66 L132.36,278.71 L132.71,278.53 L133.07,278.38 L133.43,278.08 L133.78,278.29 L134.14,278.75 L134.50,293.85 L134.85,324.00 L135.21,324.00 L135.57,324.00 L135.92,324.00 L136.28,324.00 L136.64,324.00 L136.99,324.00 L137.35,324.00 L137.71,324.00 L138.06,324.00 L138.42,324.00 L138.78,324.00 L139.14,324.00 L139.49,324.00 L139.85,324.00 L140.21,324.00 L140.56,324.00 L140.92,324.00 L141.28,324.00 L141.63,324.00 L141.99,324.00 L142.35,324.00 L142.70,324.00 L143.06,324.00 L143.42,324.00 L143.77,324.00 L144.13,324.00 L144.49,324.00 L144.84,324.00 L145.20,324.00 L145.56,324.00 L145.91,324.00 L146.27,324.00 L146.63,324.00 L146.98,324.00 L147.34,324.00 L147.70,324.00 L148.06,324.00 L148.41,324.00 L148.77,324.00 L149.13,324.00 L149.48,324.00 L149.84,324.00 L150.20,324.00 L150.55,324.00 L150.91,324.00 L151.27,324.00 L151.62,324.00 L151.98,324.00 L152.34,324.00 L152.69,324.00 L153.05,324.00 L153.41,324.00 L153.76,324.00 L154.12,324.00 L154.48,324.00 L154.83,324.00 L155.19,324.00 L155.55,324.00 L155.90,324.00 L156.26,324.00 L156.62,324.00 L156.98,324.00 L157.33,324.00 L157.69,324.00 L158.05,324.00 L158.40,324.00 L158.76,324.00 L159.12,324.00 L159.47,324.00 L159.83,324.00 L160.19,324.00 L160.54,324.00 L160.90,324.00 L161.26,324.00 L161.61,324.00 L161.97,324.00 L162.33,324.00 L162.68,324.00 L163.04,324.00 L163.40,324.00 L163.75,324.00 L164.11,324.00 L164.47,324.00 L164.82,324.00 L165.18,324.00 L165.54,324.00 L165.90,324.00 L166.25,324.00 L166.61,324.00 L166.97,324.00 L167.32,324.00 L167.68,324.00 L168.04,324.00 L168.39,324.00 L168.75,324.00 L169.11,324.00 L169.46,324.00 L169.82,324.00 L170.18,324.00 L170.53,324.00 L170.89,324.00 L171.25,324.00 L171.60,324.00 L171.96,324.00 L172.32,324.00 L172.67,324.00 L173.03,324.00 L173.39,324.00 L173.75,324.00 L174.10,324.00 L174.46,324.00 L174.82,324.00 L175.17,324.00 L175.53,324.00 L175.89,324.00 L176.24,324.00 L176.60,324.00 L176.96,324.00 L177.31,324.00 L177.67,324.00 L178.03,324.00 L178.38,324.00 L178.74,324.00 L179.10,324.00 L179.45,324.00 L179.81,324.00 L180.17,324.00 L180.52,324.00 L180.88,324.00 L181.24,324.00 L181.59,324.00 L181.95,324.00 L182.31,324.00 L182.67,324.00 L183.02,324.00 L183.38,324.00 L183.74,324.00 L184.09,324.00 L184.45,324.00 L184.81,324.00 L185.16,324.00 L185.52,324.00 L185.88,324.00 L186.23,324.00 L186.59,324.00 L186.95,324.00 L187.30,324.00 L187.66,324.00 L188.02,324.00 L188.37,324.00 L188.73,324.00 L189.09,324.00 L189.44,324.00 L189.80,324.00 L190.16,324.00 L190.51,324.00 L190.87,324.00 L191.23,324.00 L191.59,324.00 L191.94,324.00 L192.30,324.00 L192.66,324.00 L193.01,324.00 L193.37,324.00 L193.73,324.00 L194.08,324.00 L194.44,324.00 L194.80,324.00 L195.15,324.00 L195.51,324.00 L195.87,324.00 L196.22,324.00 L196.58,324.00 L196.94,324.00 L197.29,324.00 L197.65,324.00 L198.01,324.00 L198.36,324.00 L198.72,324.00 L199.08,324.00 L199.43,324.00 L199.79,324.00 L200.15,324.00 L200.51,324.00 L200.86,324.00 L201.22,324.00 L201.58,324.00 L201.93,324.00 L202.29,324.00 L202.65,324.00 L203.00,324.00 L203.36,324.00 L203.72,324.00 L204.07,324.00 L204.43,324.00 L204.79,324.00 L205.14,324.00 L205.50,324.00 L205.86,324.00 L206.21,324.00 L206.57,324.00 L206.93,324.00 L207.28,324.00 L207.64,324.00 L208.00,324.00 L208.36,324.00 L208.71,324.00 L209.07,324.00 L209.43,324.00 L209.78,324.00 L210.14,324.00 L210.50,324.00 L210.85,324.00 L211.21,324.00 L211.57,324.00 L211.92,324.00 L212.28,324.00 L212.64,324.00 L212.99,324.00 L213.35,324.00 L213.71,324.00 L214.06,324.00 L214.42,324.00 L214.78,324.00 L215.13,324.00 L215.49,324.00 L215.85,324.00 L216.20,324.00 L216.56,324.00 L216.92,324.00 L217.28,324.00 L217.63,324.00 L217.99,324.00 L218.35,324.00 L218.70,324.00 L219.06,324.00 L219.42,324.00 L219.77,324.00 L220.13,324.00 L220.49,324.00 L220.84,324.00 L221.20,324.00 L221.56,324.00 L221.91,324.00 L222.27,324.00 L222.63,324.00 L222.98,324.00 L223.34,324.00 L223.70,324.00 L224.05,324.00 L224.41,324.00 L224.77,324.00 L225.12,324.00 L225.48,324.00 L225.84,324.00 L226.20,324.00 L226.55,324.00 L226.91,324.00 L227.27,324.00 L227.62,324.00 L227.98,324.00 L228.34,324.00 L228.69,324.00 L229.05,324.00 L229.41,324.00 L229.76,324.00 L230.12,324.00 L230.48,324.00 L230.83,324.00 L231.19,324.00 L231.55,324.00 L231.90,324.00 L232.26,324.00 L232.62,324.00 L232.97,324.00 L233.33,324.00 L233.69,324.00 L234.04,324.00 L234.40,324.00 L234.76,324.00 L235.12,324.00 L235.47,324.00 L235.83,324.00 L236.19,324.00 L236.54,324.00 L236.90,324.00 L237.26,324.00 L237.61,324.00 L237.97,324.00 L238.33,324.00 L238.68,324.00 L239.04,324.00 L239.40,324.00 L239.75,324.00 L240.11,324.00 L240.47,324.00 L240.82,324.00 L241.18,324.00 L241.54,324.00 L241.89,324.00 L242.25,324.00 L242.61,324.00 L242.96,324.00 L243.32,324.00 L243.68,324.00 L244.04,324.00 L244.39,324.00 L244.75,324.00 L245.11,324.00 L245.46,324.00 L245.82,324.00 L246.18,324.00 L246.53,324.00 L246.89,324.00 L247.25,324.00 L247.60,324.00 L247.96,324.00 L248.32,324.00 L248.67,324.00 L249.03,324.00 L249.39,324.00 L249.74,324.00 L250.10,324.00 L250.46,324.00 L250.81,324.00 L251.17,324.00 L251.53,324.00 L251.89,324.00 L252.24,324.00 L252.60,324.00 L252.96,324.00 L253.31,324.00 L253.67,324.00 L254.03,324.00 L254.38,324.00 L254.74,324.00 L255.10,324.00 L255.45,324.00 L255.81,324.00 L256.17,324.00 L256.52,324.00 L256.88,324.00 L257.24,324.00 L257.59,324.00 L257.95,324.00 L258.31,324.00 L258.66,324.00 L259.02,324.00 L259.38,324.00 L259.73,324.00 L260.09,324.00 L260.45,324.00 L260.81,324.00 L261.16,324.00 L261.52,324.00 L261.88,324.00 L262.23,324.00 L262.59,324.00 L262.95,324.00 L263.30,324.00 L263.66,324.00 L264.02,324.00 L264.37,324.00 L264.73,324.00 L265.09,324.00 L265.44,324.00 L265.80,324.00 L266.16,324.00 L266.51,324.00 L266.87,324.00 L267.23,324.00 L267.58,324.00 L267.94,324.00 L268.30,324.00 L268.65,324.00 L269.01,324.00 L269.37,324.00 L269.73,324.00 L270.08,324.00 L270.44,324.00 L270.80,324.00 L271.15,324.00 L271.51,324.00 L271.87,324.00 L272.22,324.00 L272.58,324.00 L272.94,324.00 L273.29,324.00 L273.65,324.00 L274.01,324.00 L274.36,324.00 L274.72,324.00 L275.08,324.00 L275.43,324.00 L275.79,324.00 L276.15,324.00 L276.50,324.00 L276.86,324.00 L277.22,324.00 L277.57,324.00 L277.93,324.00 L278.29,324.00 L278.65,324.00 L279.00,324.00 L279.36,324.00 L279.72,324.00 L280.07,324.00 L280.43,324.00 L280.79,324.00 L281.14,324.00 L281.50,324.00 L281.86,324.00 L282.21,324.00 L282.57,324.00 L282.93,324.00 L283.28,324.00 L283.64,324.00 L284.00,324.00 L284.35,324.00 L284.71,324.00 L285.07,324.00 L285.42,324.00 L285.78,324.00 L286.14,324.00 L286.49,324.00 L286.85,324.00 L287.21,324.00 L287.57,324.00 L287.92,324.00 L288.28,324.00 L288.64,324.00 L288.99,324.00 L289.35,324.00 L289.71,324.00 L290.06,324.00 L290.42,324.00 L290.78,324.00 L291.13,324.00 L291.49,324.00 L291.85,324.00 L292.20,324.00 L292.56,324.00 L292.92,324.00 L293.27,324.00 L293.63,323.53 L293.99,323.05 L294.34,322.58 L294.70,322.11 L295.06,321.64 L295.41,321.16 L295.77,320.69 L296.13,321.27 L296.49,320.70 L296.84,320.89 L297.20,319.95 L297.56,320.72 L297.91,320.30 L298.27,320.29 L298.63,319.48 L298.98,319.47 L299.34,319.22 L299.70,318.78 L300.05,319.21 L300.41,319.48 L300.77,319.25 L301.12,319.63 L301.48,320.40 L301.84,320.71 L302.19,320.69 L302.55,318.60 L302.91,317.82 L303.26,318.01 L303.62,319.53 L303.98,320.03 L304.34,319.10 L304.69,319.11 L305.05,318.89 L305.41,318.26 L305.76,318.58 L306.12,318.74 L306.48,319.60 L306.83,318.61 L307.19,319.76 L307.55,319.60 L307.90,320.34 L308.26,319.68 L308.62,319.81 L308.97,319.46 L309.33,319.19 L309.69,319.26 L310.04,320.14 L310.40,321.74 L310.76,322.07 L311.11,321.96 L311.47,320.39 L311.83,319.35 L312.18,317.92 L312.54,318.13 L312.90,319.82 L313.26,319.80 L313.61,319.51 L313.97,318.31 L314.33,317.67 L314.68,319.02 L315.04,319.63 L315.40,323.02 L315.75,321.71 L316.11,320.79 L316.47,318.55 L316.82,318.11 L317.18,317.45 L317.54,317.86 L317.89,318.89 L318.25,320.80 L318.61,321.20 L318.96,321.27 L319.32,321.37 L319.68,320.49 L320.03,319.69 L320.39,319.35 L320.75,320.05 L321.10,320.88 L321.46,320.90 L321.82,320.16 L322.18,319.81 L322.53,318.18 L322.89,317.97 L323.25,317.33 L323.60,318.26 L323.96,318.22 L324.32,319.36 L324.67,320.33 L325.03,321.09 L325.39,319.85 L325.74,320.05 L326.10,320.13 L326.46,320.21 L326.81,320.29 L327.17,320.36 L327.53,320.44 L327.88,320.52 L328.24,320.60 L328.60,320.68 L328.95,320.67 L329.31,320.66 L329.67,320.65 L330.02,320.65 L330.38,320.64 L330.74,320.63 L331.10,320.91 L331.45,320.47 L331.81,320.39 L332.17,320.64 L332.52,320.38 L332.88,319.93 L333.24,319.64 L333.59,320.18 L333.95,319.86 L334.31,319.87 L334.66,320.15 L335.02,320.10 L335.38,320.31 L335.73,320.03 L336.09,320.80 L336.45,320.33 L336.80,320.67 L337.16,320.50 L337.52,320.72 L337.87,319.97 L338.23,319.42 L338.59,319.44 L338.94,320.31 L339.30,320.64 L339.66,321.04 L340.02,320.68 L340.37,320.18 L340.73,320.30 L341.09,320.11 L341.44,320.63 L341.80,320.54 L342.16,321.62 L342.51,320.47 L342.87,320.36 L343.23,319.13 L343.58,319.87 L343.94,320.51 L344.30,320.90 L344.65,320.56 L345.01,319.67 L345.37,319.61 L345.72,319.79 L346.08,320.35 L346.44,321.23 L346.79,320.90 L347.15,320.99 L347.51,319.88 L347.87,320.29 L348.22,320.28 L348.58,307.91 L348.94,276.98 L349.29,248.00 L349.65,219.50 L350.01,191.00 L350.36,191.00 L350.72,191.00 L351.08,206.35 L351.43,221.69 L351.79,234.00 L352.15,241.76 L352.50,249.52 L352.86,254.84 L353.22,260.16 L353.57,265.48 L353.93,267.90 L354.29,270.32 L354.64,272.73 L355.00,275.15 L355.36,276.90 L355.71,278.20 L356.07,279.32 L356.43,280.78 L356.79,282.14 L357.14,282.88 L357.50,283.12 L357.86,283.86 L358.21,285.11 L358.57,285.11 L358.93,285.79 L359.28,285.91 L359.64,286.28 L360.00,286.80 L360.35,286.25 L360.71,286.53 L361.07,285.90 L361.42,286.49 L361.78,287.27 L362.14,288.34 L362.49,287.98 L362.85,287.93 L363.21,287.66 L363.56,287.83 L363.92,288.09 L364.28,288.20 L364.63,289.04 L364.99,289.07 L365.35,289.55 L365.71,289.87 L366.06,289.59 L366.42,289.17 L366.78,290.14 L367.13,291.39 L367.49,291.66 L367.85,290.80 L368.20,290.39 L368.56,290.27 L368.92,290.98 L369.27,290.56 L369.63,291.01 L369.99,290.33 L370.34,290.79 L370.70,290.67 L371.06,291.07 L371.41,291.48 L371.77,291.63 L372.13,291.61 L372.48,291.99 L372.84,291.92 L373.20,291.69 L373.55,290.89 L373.91,291.46 L374.27,291.88 L374.63,292.64 L374.98,293.14 L375.34,293.36 L375.70,293.30 L376.05,293.32 L376.41,292.84 L376.77,293.59 L377.12,293.77 L377.48,294.77 L377.84,293.89 L378.19,293.83 L378.55,293.84 L378.91,294.72 L379.26,295.02 L379.62,295.44 L379.98,294.86 L380.33,294.47 L380.69,293.75 L381.05,294.41 L381.40,293.84 L381.76,294.60 L382.12,295.16 L382.48,296.20 L382.83,295.90 L383.19,295.00 L383.55,295.33 L383.90,295.26 L384.26,295.01 L384.62,295.03 L384.97,295.57 L385.33,296.83 L385.69,296.53 L386.04,296.06 L386.40,295.28 L386.76,295.16 L387.11,295.04 L387.47,295.34 L387.83,295.38 L388.18,296.28 L388.54,296.67 L388.90,297.00 L389.25,297.03 L389.61,296.64 L389.97,296.33 L390.32,295.98 L390.68,296.52 L391.04,297.33 L391.40,297.08 L391.75,297.18 L392.11,296.97 L392.47,297.61 L392.82,297.39 L393.18,297.12 L393.54,297.30 L393.89,297.88 L394.25,297.84 L394.61,297.66 L394.96,297.00 L395.32,297.58 L395.68,297.47 L396.03,297.37 L396.39,296.97 L396.75,297.41 L397.10,298.05 L397.46,298.46 L397.82,298.37 L398.17,298.14 L398.53,298.60 L398.89,299.55 L399.24,299.64 L399.60,299.16 L399.96,298.17 L400.32,297.78 L400.67,297.79 L401.03,298.18 L401.39,298.44 L401.74,298.80 L402.10,298.26 L402.46,298.55 L402.81,298.40 L403.17,298.78 L403.53,298.88 L403.88,299.58 L404.24,299.68 L404.60,300.51 L404.95,299.85 L405.31,299.56 L405.67,298.10 L406.02,298.18 L406.38,298.80 L406.74,300.09 L407.09,299.58 L407.45,299.85 L407.81,299.03 L408.16,300.53 L408.52,300.09 L408.88,300.19 L409.24,299.31 L409.59,299.34 L409.95,299.90 L410.31,300.35 L410.66,300.02 L411.02,299.62 L411.38,299.39 L411.73,299.70 L412.09,300.21 L412.45,299.83 L412.80,299.50 L413.16,299.48 L413.52,299.83 L413.87,299.93 L414.23,299.92 L414.59,299.28 L414.94,299.15 L415.30,299.06 L415.66,299.46 L416.01,299.44 L416.37,299.80 L416.73,299.96 L417.08,300.61 L417.44,300.29 L417.80,300.29 L418.16,300.44 L418.51,300.88 L418.87,301.65 L419.23,301.52 L419.58,300.57 L419.94,290.66 L420.30,265.81 L420.65,240.87 L421.01,215.94 L421.37,191.00 L421.72,191.00 L422.08,191.00 L422.44,191.00 L422.79,191.00 L423.15,191.00 L423.51,191.00 L423.86,191.00 L424.22,191.00 L424.58,191.00 L424.93,191.00 L425.29,191.00 L425.65,191.00 L426.01,191.00 L426.36,191.00 L426.72,191.00 L427.08,191.00 L427.43,192.59 L427.79,193.01 L428.15,193.40 L428.50,194.05 L428.86,194.59 L429.22,193.44 L429.57,191.00 L429.93,191.00 L430.29,191.00 L430.64,191.00 L431.00,193.48 L431.36,198.74 L431.71,204.41 L432.07,212.31 L432.43,206.90 L432.78,205.22 L433.14,206.76 L433.50,208.41 L433.85,212.74 L434.21,216.06 L434.57,207.68 L434.93,202.34 L435.28,210.49 L435.64,218.28 L436.00,220.26 L436.35,207.90 L436.71,201.70 L437.07,198.55 L437.42,197.47 L437.78,205.06 L438.14,212.65 L438.49,216.19 L438.85,215.05 L439.21,213.98 L439.56,212.24 L439.92,210.50 L440.28,208.80 L440.63,204.00 L440.99,199.20 L441.35,203.91 L441.70,213.83 L442.06,214.87 L442.42,213.65 L442.77,211.32 L443.13,209.54 L443.49,207.42 L443.85,208.77 L444.20,210.11 L444.56,208.67 L444.92,207.20 L445.27,205.74 L445.63,209.91 L445.99,216.95 L446.34,218.41 L446.70,213.60 L447.06,212.17 L447.41,211.43 L447.77,210.68 L448.13,208.84 L448.48,208.74 L448.84,212.38 L449.20,214.37 L449.55,215.63 L449.91,211.96 L450.27,203.20 L450.62,199.32 L450.98,205.81 L451.34,211.50 L451.69,210.21 L452.05,208.92 L452.41,209.82 L452.77,211.41 L453.12,213.00 L453.48,216.84 L453.84,221.61 L454.19,223.50 L454.55,218.22 L454.91,213.40 L455.26,210.62 L455.62,211.42 L455.98,214.87 L456.33,216.10 L456.69,216.74 L457.05,216.90 L457.40,213.94 L457.76,210.53 L458.12,203.39 L458.47,198.74 L458.83,197.31 L459.19,203.30 L459.54,210.35 L459.90,212.36 L460.26,207.61 L460.61,206.79 L460.97,215.76 L461.33,224.73 L461.69,228.74 L462.04,230.04 L462.40,229.45 L462.76,223.43 L463.11,214.22 L463.47,207.23 L463.83,211.51 L464.18,215.79 L464.54,210.44 L464.90,205.53 L465.25,205.03 L465.61,205.58 L465.97,207.23 L466.32,210.35 L466.68,212.88 L467.04,212.26 L467.39,211.94 L467.75,214.30 L468.11,212.67 L468.46,213.03 L468.82,216.86 L469.18,220.68 L469.54,219.07 L469.89,211.05 L470.25,211.39 L470.61,210.01 L470.96,206.22 L471.32,203.69 L471.68,202.16 L472.03,203.85 L472.39,216.35 L472.75,221.33 L473.10,219.20 L473.46,218.48 L473.82,219.19 L474.17,218.90 L474.53,218.48 L474.89,217.68 L475.24,217.83 L475.60,215.37 L475.96,208.62 L476.31,210.45 L476.67,213.79 L477.03,215.06 L477.38,215.20 L477.74,216.15 L478.10,216.35 L478.46,214.13 L478.81,211.67 L479.17,210.15 L479.53,209.45 L479.88,213.92 L480.24,220.13 L480.60,225.27 L480.95,222.05 L481.31,216.19 L481.67,208.66 L482.02,205.84 L482.38,204.10 L482.74,208.90 L483.09,213.10 L483.45,216.97 L483.81,219.25 L484.16,220.65 L484.52,220.81 L484.88,220.48 L485.23,217.66 L485.59,219.39 L485.95,224.74 L486.30,230.10 L486.66,226.03 L487.02,216.27 L487.38,212.40 L487.73,212.60 L488.09,212.79 L488.45,213.76 L488.80,215.49 L489.16,218.05 L489.52,220.31 L489.87,217.66 L490.23,217.07 L490.59,224.35 L490.94,225.77 L491.30,218.03" stroke="#000" stroke-width="3"/>
<path d="M56.00,320.26 L56.36,320.87 L56.71,320.61 L57.07,320.55 L57.43,320.59 L57.78,321.06 L58.14,321.25 L58.50,320.75 L58.85,321.58 L59.21,320.61 L59.57,321.13 L59.92,320.77 L60.28,321.22 L60.64,321.71 L61.00,321.02 L61.35,320.83 L61.71,320.39 L62.07,320.75 L62.42,320.68 L62.78,320.72 L63.14,320.68 L63.49,299.06 L63.85,263.04 L64.21,227.02 L64.56,191.00 L64.92,191.00 L65.28,191.00 L65.63,191.00 L65.99,191.00 L66.35,191.00 L66.70,191.00 L67.06,191.00 L67.42,191.00 L67.77,191.00 L68.13,191.00 L68.49,191.00 L68.84,191.00 L69.20,191.00 L69.56,191.00 L69.92,191.00 L70.27,192.04 L70.63,197.27 L70.99,202.49 L71.34,207.72 L71.70,212.94 L72.06,218.17 L72.41,223.25 L72.77,228.24 L73.13,233.23 L73.48,238.21 L73.84,241.78 L74.20,244.39 L74.55,247.00 L74.91,248.19 L75.27,249.02 L75.62,249.85 L75.98,250.68 L76.34,250.01 L76.69,253.94 L77.05,254.48 L77.41,253.28 L77.77,253.29 L78.12,254.15 L78.48,253.65 L78.84,254.37 L79.19,254.92 L79.55,254.87 L79.91,255.56 L80.26,256.27 L80.62,255.66 L80.98,255.69 L81.33,258.40 L81.69,258.05 L82.05,256.79 L82.40,257.53 L82.76,258.61 L83.12,260.75 L83.47,261.83 L83.83,262.49 L84.19,262.00 L84.54,261.63 L84.90,260.77 L85.26,260.42 L85.61,260.16 L85.97,260.65 L86.33,262.10 L86.69,262.92 L87.04,263.34 L87.40,265.04 L87.76,266.65 L88.11,265.55 L88.47,265.06 L88.83,266.46 L89.18,266.00 L89.54,265.44 L89.90,266.39 L90.25,266.08 L90.61,264.24 L90.97,267.14 L91.32,268.46 L91.68,268.00 L92.04,266.61 L92.39,265.60 L92.75,267.63 L93.11,269.27 L93.46,270.16 L93.82,268.34 L94.18,268.67 L94.53,270.90 L94.89,272.21 L95.25,272.00 L95.61,271.10 L95.96,269.86 L96.32,268.92 L96.68,269.13 L97.03,270.13 L97.39,271.52 L97.75,270.49 L98.10,269.45 L98.46,270.40 L98.82,271.37 L99.17,271.94 L99.53,272.34 L99.89,271.88 L100.24,271.85 L100.60,272.44 L100.96,273.60 L101.31,272.37 L101.67,272.89 L102.03,272.24 L102.38,271.96 L102.74,272.60 L103.10,273.31 L103.45,274.64 L103.81,274.99 L104.17,275.83 L104.53,275.84 L104.88,275.13 L105.24,275.18 L105.60,275.35 L105.95,275.60 L106.31,275.24 L106.67,275.26 L107.02,275.85 L107.38,275.90 L107.74,276.33 L108.09,276.55 L108.45,276.28 L108.81,276.81 L109.16,277.19 L109.52,277.41 L109.88,277.10 L110.23,276.84 L110.59,276.84 L110.95,277.06 L111.30,277.47 L111.66,278.01 L112.02,277.59 L112.37,277.63 L112.73,277.87 L113.09,277.86 L113.45,277.55 L113.80,278.23 L114.16,278.46 L114.52,277.95 L114.87,277.78 L115.23,278.80 L115.59,280.24 L115.94,280.69 L116.30,280.37 L116.66,280.82 L117.01,280.82 L117.37,279.61 L117.73,280.08 L118.08,280.02 L118.44,280.45 L118.80,280.46 L119.15,280.02 L119.51,279.05 L119.87,278.01 L120.22,276.77 L120.58,278.73 L120.94,279.84 L121.30,278.69 L121.65,278.15 L122.01,279.39 L122.37,278.88 L122.72,278.51 L123.08,280.81 L123.44,281.15 L123.79,281.43 L124.15,279.47 L124.51,279.09 L124.86,279.04 L125.22,281.45 L125.58,281.85 L125.93,280.99 L126.29,280.86 L126.65,280.65 L127.00,280.63 L127.36,281.77 L127.72,282.63 L128.07,281.99 L128.43,280.83 L128.79,279.64 L129.14,279.16 L129.50,278.70 L129.86,280.33 L130.22,280.70 L130.57,280.09 L130.93,281.43 L131.29,281.06 L131.64,280.13 L132.00,280.18 L132.36,280.70 L132.71,281.73 L133.07,281.86 L133.43,282.06 L133.78,281.80 L134.14,282.74 L134.50,296.51 L134.85,324.00 L135.21,324.00 L135.57,324.00 L135.92,324.00 L136.28,324.00 L136.64,324.00 L136.99,324.00 L137.35,324.00 L137.71,324.00 L138.06,324.00 L138.42,324.00 L138.78,324.00 L139.14,324.00 L139.49,324.00 L139.85,324.00 L140.21,324.00 L140.56,324.00 L140.92,324.00 L141.28,324.00 L141.63,324.00 L141.99,324.00 L142.35,324.00 L142.70,324.00 L143.06,324.00 L143.42,324.00 L143.77,324.00 L144.13,324.00 L144.49,324.00 L144.84,324.00 L145.20,324.00 L145.56,324.00 L145.91,324.00 L146.27,324.00 L146.63,324.00 L146.98,324.00 L147.34,324.00 L147.70,324.00 L148.06,324.00 L148.41,324.00 L148.77,324.00 L149.13,324.00 L149.48,324.00 L149.84,324.00 L150.20,324.00 L150.55,324.00 L150.91,324.00 L151.27,324.00 L151.62,324.00 L151.98,324.00 L152.34,324.00 L152.69,324.00 L153.05,324.00 L153.41,324.00 L153.76,324.00 L154.12,324.00 L154.48,324.00 L154.83,324.00 L155.19,324.00 L155.55,324.00 L155.90,324.00 L156.26,324.00 L156.62,324.00 L156.98,324.00 L157.33,324.00 L157.69,324.00 L158.05,324.00 L158.40,324.00 L158.76,324.00 L159.12,324.00 L159.47,324.00 L159.83,324.00 L160.19,324.00 L160.54,324.00 L160.90,324.00 L161.26,324.00 L161.61,324.00 L161.97,324.00 L162.33,324.00 L162.68,324.00 L163.04,324.00 L163.40,324.00 L163.75,324.00 L164.11,324.00 L164.47,324.00 L164.82,324.00 L165.18,324.00 L165.54,324.00 L165.90,324.00 L166.25,324.00 L166.61,324.00 L166.97,324.00 L167.32,324.00 L167.68,324.00 L168.04,324.00 L168.39,324.00 L168.75,324.00 L169.11,324.00 L169.46,324.00 L169.82,324.00 L170.18,324.00 L170.53,324.00 L170.89,324.00 L171.25,324.00 L171.60,324.00 L171.96,324.00 L172.32,324.00 L172.67,324.00 L173.03,324.00 L173.39,324.00 L173.75,324.00 L174.10,324.00 L174.46,324.00 L174.82,324.00 L175.17,324.00 L175.53,324.00 L175.89,324.00 L176.24,324.00 L176.60,324.00 L176.96,324.00 L177.31,324.00 L177.67,324.00 L178.03,324.00 L178.38,324.00 L178.74,324.00 L179.10,324.00 L179.45,324.00 L179.81,324.00 L180.17,324.00 L180.52,324.00 L180.88,324.00 L181.24,324.00 L181.59,324.00 L181.95,324.00 L182.31,324.00 L182.67,324.00 L183.02,324.00 L183.38,324.00 L183.74,324.00 L184.09,324.00 L184.45,324.00 L184.81,324.00 L185.16,324.00 L185.52,324.00 L185.88,324.00 L186.23,324.00 L186.59,324.00 L186.95,324.00 L187.30,324.00 L187.66,324.00 L188.02,324.00 L188.37,324.00 L188.73,324.00 L189.09,324.00 L189.44,324.00 L189.80,324.00 L190.16,324.00 L190.51,324.00 L190.87,324.00 L191.23,324.00 L191.59,324.00 L191.94,324.00 L192.30,324.00 L192.66,324.00 L193.01,324.00 L193.37,324.00 L193.73,324.00 L194.08,324.00 L194.44,324.00 L194.80,324.00 L195.15,324.00 L195.51,324.00 L195.87,324.00 L196.22,324.00 L196.58,324.00 L196.94,324.00 L197.29,324.00 L197.65,324.00 L198.01,324.00 L198.36,324.00 L198.72,324.00 L199.08,324.00 L199.43,324.00 L199.79,324.00 L200.15,324.00 L200.51,324.00 L200.86,324.00 L201.22,324.00 L201.58,324.00 L201.93,324.00 L202.29,324.00 L202.65,324.00 L203.00,324.00 L203.36,324.00 L203.72,324.00 L204.07,324.00 L204.43,324.00 L204.79,324.00 L205.14,324.00 L205.50,324.00 L205.86,324.00 L206.21,324.00 L206.57,324.00 L206.93,324.00 L207.28,324.00 L207.64,324.00 L208.00,324.00 L208.36,324.00 L208.71,324.00 L209.07,324.00 L209.43,324.00 L209.78,324.00 L210.14,324.00 L210.50,324.00 L210.85,324.00 L211.21,324.00 L211.57,324.00 L211.92,324.00 L212.28,324.00 L212.64,324.00 L212.99,324.00 L213.35,324.00 L213.71,324.00 L214.06,324.00 L214.42,324.00 L214.78,324.00 L215.13,324.00 L215.49,324.00 L215.85,324.00 L216.20,324.00 L216.56,324.00 L216.92,324.00 L217.28,324.00 L217.63,324.00 L217.99,324.00 L218.35,324.00 L218.70,324.00 L219.06,324.00 L219.42,324.00 L219.77,324.00 L220.13,324.00 L220.49,324.00 L220.84,324.00 L221.20,324.00 L221.56,324.00 L221.91,324.00 L222.27,324.00 L222.63,324.00 L222.98,324.00 L223.34,324.00 L223.70,324.00 L224.05,324.00 L224.41,324.00 L224.77,324.00 L225.12,324.00 L225.48,324.00 L225.84,324.00 L226.20,324.00 L226.55,324.00 L226.91,324.00 L227.27,324.00 L227.62,324.00 L227.98,324.00 L228.34,324.00 L228.69,324.00 L229.05,324.00 L229.41,324.00 L229.76,324.00 L230.12,324.00 L230.48,324.00 L230.83,324.00 L231.19,324.00 L231.55,324.00 L231.90,324.00 L232.26,324.00 L232.62,324.00 L232.97,324.00 L233.33,324.00 L233.69,324.00 L234.04,324.00 L234.40,324.00 L234.76,324.00 L235.12,324.00 L235.47,324.00 L235.83,324.00 L236.19,324.00 L236.54,324.00 L236.90,324.00 L237.26,324.00 L237.61,324.00 L237.97,324.00 L238.33,324.00 L238.68,324.00 L239.04,324.00 L239.40,324.00 L239.75,324.00 L240.11,324.00 L240.47,324.00 L240.82,324.00 L241.18,324.00 L241.54,324.00 L241.89,324.00 L242.25,324.00 L242.61,324.00 L242.96,324.00 L243.32,324.00 L243.68,324.00 L244.04,324.00 L244.39,324.00 L244.75,324.00 L245.11,324.00 L245.46,324.00 L245.82,324.00 L246.18,324.00 L246.53,324.00 L246.89,324.00 L247.25,324.00 L247.60,324.00 L247.96,324.00 L248.32,324.00 L248.67,324.00 L249.03,324.00 L249.39,324.00 L249.74,324.00 L250.10,324.00 L250.46,324.00 L250.81,324.00 L251.17,324.00 L251.53,324.00 L251.89,324.00 L252.24,324.00 L252.60,324.00 L252.96,324.00 L253.31,324.00 L253.67,324.00 L254.03,324.00 L254.38,324.00 L254.74,324.00 L255.10,324.00 L255.45,324.00 L255.81,324.00 L256.17,324.00 L256.52,324.00 L256.88,324.00 L257.24,324.00 L257.59,324.00 L257.95,324.00 L258.31,324.00 L258.66,324.00 L259.02,324.00 L259.38,324.00 L259.73,324.00 L260.09,324.00 L260.45,324.00 L260.81,324.00 L261.16,324.00 L261.52,324.00 L261.88,324.00 L262.23,324.00 L262.59,324.00 L262.95,324.00 L263.30,324.00 L263.66,324.00 L264.02,324.00 L264.37,324.00 L264.73,324.00 L265.09,324.00 L265.44,324.00 L265.80,324.00 L266.16,324.00 L266.51,324.00 L266.87,324.00 L267.23,324.00 L267.58,324.00 L267.94,324.00 L268.30,324.00 L268.65,324.00 L269.01,324.00 L269.37,324.00 L269.73,324.00 L270.08,324.00 L270.44,324.00 L270.80,324.00 L271.15,324.00 L271.51,324.00 L271.87,324.00 L272.22,324.00 L272.58,324.00 L272.94,324.00 L273.29,324.00 L273.65,324.00 L274.01,324.00 L274.36,324.00 L274.72,324.00 L275.08,324.00 L275.43,324.00 L275.79,324.00 L276.15,324.00 L276.50,324.00 L276.86,324.00 L277.22,324.00 L277.57,324.00 L277.93,324.00 L278.29,324.00 L278.65,324.00 L279.00,324.00 L279.36,324.00 L279.72,324.00 L280.07,324.00 L280.43,324.00 L280.79,324.00 L281.14,324.00 L281.50,324.00 L281.86,324.00 L282.21,324.00 L282.57,324.00 L282.93,324.00 L283.28,324.00 L283.64,324.00 L284.00,324.00 L284.35,324.00 L284.71,324.00 L285.07,324.00 L285.42,324.00 L285.78,324.00 L286.14,324.00 L286.49,324.00 L286.85,324.00 L287.21,324.00 L287.57,324.00 L287.92,324.00 L288.28,324.00 L288.64,324.00 L288.99,324.00 L289.35,324.00 L289.71,324.00 L290.06,324.00 L290.42,324.00 L290.78,324.00 L291.13,324.00 L291.49,324.00 L291.85,324.00 L292.20,324.00 L292.56,324.00 L292.92,324.00 L293.27,324.00 L293.63,324.00 L293.99,324.00 L294.34,324.00 L294.70,324.00 L295.06,324.00 L295.41,324.00 L295.77,324.00 L296.13,324.00 L296.49,324.00 L296.84,324.00 L297.20,324.00 L297.56,324.00 L297.91,324.00 L298.27,324.00 L298.63,324.00 L298.98,324.00 L299.34,324.00 L299.70,324.00 L300.05,324.00 L300.41,324.00 L300.77,324.00 L301.12,324.00 L301.48,324.00 L301.84,324.00 L302.19,324.00 L302.55,324.00 L302.91,324.00 L303.26,324.00 L303.62,324.00 L303.98,324.00 L304.34,324.00 L304.69,324.00 L305.05,324.00 L305.41,324.00 L305.76,324.00 L306.12,324.00 L306.48,324.00 L306.83,324.00 L307.19,324.00 L307.55,324.00 L307.90,324.00 L308.26,324.00 L308.62,324.00 L308.97,324.00 L309.33,324.00 L309.69,324.00 L310.04,324.00 L310.40,324.00 L310.76,324.00 L311.11,324.00 L311.47,324.00 L311.83,324.00 L312.18,324.00 L312.54,324.00 L312.90,324.00 L313.26,324.00 L313.61,324.00 L313.97,324.00 L314.33,324.00 L314.68,324.00 L315.04,324.00 L315.40,324.00 L315.75,324.00 L316.11,324.00 L316.47,324.00 L316.82,324.00 L317.18,324.00 L317.54,324.00 L317.89,324.00 L318.25,324.00 L318.61,324.00 L318.96,324.00 L319.32,324.00 L319.68,324.00 L320.03,324.00 L320.39,324.00 L320.75,324.00 L321.10,324.00 L321.46,324.00 L321.82,324.00 L322.18,324.00 L322.53,324.00 L322.89,324.00 L323.25,324.00 L323.60,324.00 L323.96,324.00 L324.32,324.00 L324.67,323.78 L325.03,323.56 L325.39,323.34 L325.74,323.13 L326.10,322.91 L326.46,322.69 L326.81,322.47 L327.17,322.25 L327.53,322.03 L327.88,321.81 L328.24,321.60 L328.60,321.38 L328.95,321.16 L329.31,320.94 L329.67,320.93 L330.02,320.92 L330.38,320.90 L330.74,320.89 L331.10,320.88 L331.45,320.87 L331.81,320.85 L332.17,320.84 L332.52,320.83 L332.88,320.82 L333.24,320.80 L333.59,320.79 L333.95,320.78 L334.31,320.77 L334.66,320.75 L335.02,320.74 L335.38,320.73 L335.73,320.72 L336.09,320.71 L336.45,320.69 L336.80,320.68 L337.16,320.67 L337.52,320.66 L337.87,320.64 L338.23,320.63 L338.59,320.62 L338.94,320.61 L339.30,320.59 L339.66,320.58 L340.02,320.57 L340.37,320.56 L340.73,320.54 L341.09,320.53 L341.44,320.52 L341.80,320.51 L342.16,320.49 L342.51,320.48 L342.87,320.47 L343.23,320.46 L343.58,320.44 L343.94,320.43 L344.30,320.42 L344.65,320.41 L345.01,320.40 L345.37,320.38 L345.72,320.37 L346.08,320.36 L346.44,320.35 L346.79,320.33 L347.15,320.32 L347.51,320.31 L347.87,320.30 L348.22,320.28 L348.58,307.91 L348.94,276.98 L349.29,248.00 L349.65,219.50 L350.01,191.00 L350.36,191.00 L350.72,191.00 L351.08,206.35 L351.43,221.69 L351.79,234.22 L352.15,242.54 L352.50,250.85 L352.86,256.17 L353.22,261.49 L353.57,266.81 L353.93,269.23 L354.29,271.65 L354.64,274.06 L355.00,276.48 L355.36,278.23 L355.71,279.53 L356.07,281.31 L356.43,282.72 L356.79,285.07 L357.14,285.34 L357.50,285.09 L357.86,284.88 L358.21,284.25 L358.57,285.53 L358.93,285.94 L359.28,286.93 L359.64,287.24 L360.00,287.66 L360.35,287.67 L360.71,287.16 L361.07,287.41 L361.42,287.53 L361.78,288.36 L362.14,288.44 L362.49,289.24 L362.85,288.98 L363.21,289.41 L363.56,289.15 L363.92,289.81 L364.28,289.50 L364.63,289.54 L364.99,289.66 L365.35,290.15 L365.71,290.42 L366.06,290.37 L366.42,290.46 L366.78,290.26 L367.13,290.10 L367.49,290.19 L367.85,291.22 L368.20,291.30 L368.56,290.90 L368.92,290.70 L369.27,291.58 L369.63,293.16 L369.99,292.89 L370.34,293.23 L370.70,292.01 L371.06,293.27 L371.41,293.03 L371.77,293.55 L372.13,292.97 L372.48,293.40 L372.84,293.67 L373.20,293.84 L373.55,293.82 L373.91,294.05 L374.27,294.19 L374.63,294.27 L374.98,294.12 L375.34,294.19 L375.70,294.18 L376.05,294.85 L376.41,294.52 L376.77,295.16 L377.12,294.69 L377.48,296.18 L377.84,296.18 L378.19,297.19 L378.55,295.93 L378.91,295.65 L379.26,295.68 L379.62,296.31 L379.98,296.02 L380.33,295.67 L380.69,295.36 L381.05,296.43 L381.40,297.01 L381.76,297.08 L382.12,295.85 L382.48,295.59 L382.83,295.67 L383.19,296.87 L383.55,296.33 L383.90,296.78 L384.26,296.68 L384.62,297.85 L384.97,297.91 L385.33,297.78 L385.69,296.73 L386.04,297.07 L386.40,296.88 L386.76,297.55 L387.11,297.33 L387.47,298.07 L387.83,298.62 L388.18,299.02 L388.54,298.21 L388.90,298.12 L389.25,297.93 L389.61,298.19 L389.97,298.59 L390.32,298.37 L390.68,299.01 L391.04,298.30 L391.40,298.23 L391.75,298.19 L392.11,298.40 L392.47,298.53 L392.82,298.33 L393.18,298.59 L393.54,298.99 L393.89,299.75 L394.25,299.14 L394.61,299.57 L394.96,299.12 L395.32,299.04 L395.68,298.42 L396.03,298.67 L396.39,299.60 L396.75,300.17 L397.10,299.83 L397.46,299.54 L397.82,299.40 L398.17,298.90 L398.53,299.38 L398.89,299.62 L399.24,300.70 L399.60,300.37 L399.96,300.13 L400.32,300.12 L400.67,299.97 L401.03,299.93 L401.39,299.97 L401.74,301.10 L402.10,301.05 L402.46,301.31 L402.81,300.72 L403.17,301.08 L403.53,301.22 L403.88,301.31 L404.24,301.27 L404.60,301.00 L404.95,300.65 L405.31,301.01 L405.67,301.01 L406.02,301.52 L406.38,301.36 L406.74,301.21 L407.09,300.96 L407.45,301.39 L407.81,301.59 L408.16,301.48 L408.52,300.63 L408.88,300.61 L409.24,300.83 L409.59,301.66 L409.95,300.99 L410.31,301.20 L410.66,301.22 L411.02,301.99 L411.38,302.33 L411.73,301.60 L412.09,301.51 L412.45,300.75 L412.80,301.49 L413.16,301.76 L413.52,301.66 L413.87,301.04 L414.23,299.91 L414.59,299.86 L414.94,300.86 L415.30,301.84 L415.66,302.37 L416.01,301.37 L416.37,301.46 L416.73,301.20 L417.08,301.72 L417.44,301.51 L417.80,301.20 L418.16,301.33 L418.51,302.28 L418.87,303.17 L419.23,302.45 L419.58,301.90 L419.94,291.55 L420.30,265.81 L420.65,240.87 L421.01,215.94 L421.37,191.00 L421.72,191.00 L422.08,191.00 L422.44,191.00 L422.79,191.00 L423.15,191.00 L423.51,191.00 L423.86,191.00 L424.22,191.00 L424.58,191.68 L424.93,192.71 L425.29,192.53 L425.65,191.60 L426.01,191.00 L426.36,191.00 L426.72,191.00 L427.08,191.00 L427.43,193.53 L427.79,194.39 L428.15,195.32 L428.50,196.63 L428.86,197.94 L429.22,197.34 L429.57,195.79 L429.93,194.75 L430.29,195.76 L430.64,198.21 L431.00,200.60 L431.36,202.05 L431.71,203.86 L432.07,210.22 L432.43,212.80 L432.78,212.70 L433.14,214.05 L433.50,215.52 L433.85,219.91 L434.21,223.71 L434.57,214.29 L434.93,205.23 L435.28,211.91 L435.64,217.89 L436.00,219.53 L436.35,204.93 L436.71,199.30 L437.07,198.26 L437.42,199.02 L437.78,211.37 L438.14,222.09 L438.49,224.85 L438.85,222.28 L439.21,219.97 L439.56,215.37 L439.92,210.74 L440.28,208.03 L440.63,206.66 L440.99,204.93 L441.35,209.39 L441.70,218.78 L442.06,217.97 L442.42,215.34 L442.77,214.60 L443.13,216.03 L443.49,216.60 L443.85,216.36 L444.20,216.18 L444.56,212.60 L444.92,207.92 L445.27,203.24 L445.63,207.12 L445.99,214.58 L446.34,216.08 L446.70,209.92 L447.06,208.34 L447.41,209.75 L447.77,211.17 L448.13,211.33 L448.48,209.75 L448.84,211.71 L449.20,217.38 L449.55,222.98 L449.91,221.03 L450.27,212.05 L450.62,205.83 L450.98,206.94 L451.34,207.84 L451.69,206.68 L452.05,207.76 L452.41,211.47 L452.77,210.92 L453.12,205.61 L453.48,211.71 L453.84,219.09 L454.19,223.23 L454.55,218.66 L454.91,212.07 L455.26,209.12 L455.62,210.23 L455.98,214.35 L456.33,217.38 L456.69,217.26 L457.05,217.79 L457.40,212.91 L457.76,208.03 L458.12,202.95 L458.47,200.54 L458.83,200.64 L459.19,212.07 L459.54,219.68 L459.90,216.08 L460.26,204.90 L460.61,206.77 L460.97,222.51 L461.33,234.41 L461.69,235.71 L462.04,233.65 L462.40,231.59 L462.76,225.14 L463.11,214.87 L463.47,207.64 L463.83,213.22 L464.18,218.49 L464.54,217.10 L464.90,214.11 L465.25,213.36 L465.61,213.58 L465.97,214.31 L466.32,216.79 L466.68,218.24 L467.04,214.67 L467.39,211.31 L467.75,212.00 L468.11,212.67 L468.46,214.28 L468.82,218.93 L469.18,224.12 L469.54,222.08 L469.89,211.23 L470.25,209.97 L470.61,213.09 L470.96,213.21 L471.32,210.11 L471.68,207.02 L472.03,207.58 L472.39,221.62 L472.75,227.11 L473.10,225.12 L473.46,223.12 L473.82,223.16 L474.17,223.51 L474.53,223.71 L474.89,221.86 L475.24,221.52 L475.60,216.59 L475.96,204.35 L476.31,201.78 L476.67,206.97 L477.03,212.72 L477.38,214.94 L477.74,215.09 L478.10,214.14 L478.46,216.59 L478.81,219.05 L479.17,221.43 L479.53,216.65 L479.88,215.82 L480.24,219.33 L480.60,222.14 L480.95,219.46 L481.31,217.56 L481.67,213.34 L482.02,209.11 L482.38,207.21 L482.74,211.94 L483.09,213.91 L483.45,215.43 L483.81,217.47 L484.16,219.26 L484.52,220.65 L484.88,221.93 L485.23,220.36 L485.59,221.07 L485.95,224.80 L486.30,228.38 L486.66,222.71 L487.02,212.12 L487.38,209.13 L487.73,212.04 L488.09,214.89 L488.45,216.22 L488.80,217.85 L489.16,222.94 L489.52,228.36 L489.87,227.87 L490.23,225.84 L490.59,223.82 L490.94,222.45 L491.30,219.28" stroke="#0000ff" stroke-width="3"/>
<path d="M56.00,321.11 L56.36,321.79 L56.71,321.98 L57.07,320.93 L57.43,321.17 L57.78,320.76 L58.14,321.18 L58.50,320.28 L58.85,320.46 L59.21,320.45 L59.57,320.93 L59.92,320.59 L60.28,320.34 L60.64,320.31 L61.00,320.84 L61.35,321.34 L61.71,320.56 L62.07,319.73 L62.42,319.52 L62.78,320.16 L63.14,320.68 L63.49,299.06 L63.85,263.04 L64.21,227.02 L64.56,191.00 L64.92,191.00 L65.28,191.00 L65.63,191.00 L65.99,191.00 L66.35,191.00 L66.70,191.00 L67.06,191.00 L67.42,191.00 L67.77,191.00 L68.13,191.00 L68.49,191.00 L68.84,191.00 L69.20,191.00 L69.56,191.00 L69.92,191.00 L70.27,192.04 L70.63,197.27 L70.99,202.49 L71.34,207.72 L71.70,212.94 L72.06,218.17 L72.41,223.25 L72.77,228.24 L73.13,233.23 L73.48,238.21 L73.84,241.78 L74.20,244.39 L74.55,247.00 L74.91,248.19 L75.27,249.02 L75.62,249.85 L75.98,250.68 L76.34,251.18 L76.69,254.16 L77.05,253.85 L77.41,254.65 L77.77,254.44 L78.12,254.98 L78.48,254.18 L78.84,254.71 L79.19,255.67 L79.55,256.02 L79.91,257.09 L80.26,258.52 L80.62,257.64 L80.98,256.74 L81.33,258.89 L81.69,258.43 L82.05,257.36 L82.40,258.85 L82.76,260.45 L83.12,262.15 L83.47,262.35 L83.83,262.36 L84.19,262.39 L84.54,263.12 L84.90,263.13 L85.26,261.21 L85.61,259.73 L85.97,261.47 L86.33,262.08 L86.69,262.67 L87.04,263.74 L87.40,265.36 L87.76,266.91 L88.11,266.46 L88.47,265.94 L88.83,267.00 L89.18,266.70 L89.54,267.30 L89.90,269.36 L90.25,268.05 L90.61,265.14 L90.97,268.15 L91.32,269.68 L91.68,268.96 L92.04,267.56 L92.39,266.63 L92.75,268.54 L93.11,269.55 L93.46,269.83 L93.82,268.84 L94.18,269.00 L94.53,270.58 L94.89,272.91 L95.25,273.58 L95.61,272.87 L95.96,272.11 L96.32,271.11 L96.68,270.67 L97.03,270.92 L97.39,271.99 L97.75,270.74 L98.10,269.46 L98.46,271.69 L98.82,272.56 L99.17,271.99 L99.53,272.64 L99.89,272.43 L100.24,272.32 L100.60,273.23 L100.96,274.70 L101.31,275.18 L101.67,275.31 L102.03,274.01 L102.38,272.40 L102.74,272.67 L103.10,273.21 L103.45,275.79 L103.81,277.46 L104.17,276.30 L104.53,276.13 L104.88,276.42 L105.24,277.12 L105.60,277.86 L105.95,276.61 L106.31,275.88 L106.67,275.67 L107.02,275.99 L107.38,276.97 L107.74,278.23 L108.09,277.23 L108.45,276.48 L108.81,277.69 L109.16,278.22 L109.52,278.20 L109.88,277.96 L110.23,277.54 L110.59,277.04 L110.95,277.81 L111.30,278.78 L111.66,279.86 L112.02,278.90 L112.37,277.96 L112.73,279.90 L113.09,279.43 L113.45,278.55 L113.80,279.16 L114.16,279.26 L114.52,278.53 L114.87,278.75 L115.23,279.91 L115.59,280.78 L115.94,281.22 L116.30,281.45 L116.66,282.43 L117.01,281.74 L117.37,280.04 L117.73,280.55 L118.08,281.08 L118.44,281.53 L118.80,281.67 L119.15,281.27 L119.51,279.55 L119.87,278.05 L120.22,277.60 L120.58,279.86 L120.94,280.95 L121.30,279.14 L121.65,278.60 L122.01,279.78 L122.37,279.18 L122.72,278.75 L123.08,280.78 L123.44,281.95 L123.79,283.96 L124.15,281.48 L124.51,280.12 L124.86,279.17 L125.22,281.25 L125.58,282.28 L125.93,282.05 L126.29,282.14 L126.65,281.73 L127.00,281.01 L127.36,282.34 L127.72,283.38 L128.07,282.70 L128.43,282.13 L128.79,281.50 L129.14,280.48 L129.50,279.47 L129.86,280.72 L130.22,281.36 L130.57,280.80 L130.93,282.53 L131.29,282.87 L131.64,283.07 L132.00,283.32 L132.36,283.41 L132.71,282.96 L133.07,282.87 L133.43,284.49 L133.78,282.88 L134.14,282.74 L134.50,296.51 L134.85,324.00 L135.21,324.00 L135.57,324.00 L135.92,324.00 L136.28,324.00 L136.64,324.00 L136.99,324.00 L137.35,324.00 L137.71,324.00 L138.06,324.00 L138.42,324.00 L138.78,324.00 L139.14,324.00 L139.49,324.00 L139.85,324.00 L140.21,324.00 L140.56,324.00 L140.92,324.00 L141.28,324.00 L141.63,324.00 L141.99,324.00 L142.35,324.00 L142.70,324.00 L143.06,324.00 L143.42,324.00 L143.77,324.00 L144.13,324.00 L144.49,324.00 L144.84,324.00 L145.20,324.00 L145.56,324.00 L145.91,324.00 L146.27,324.00 L146.63,324.00 L146.98,324.00 L147.34,324.00 L147.70,324.00 L148.06,324.00 L148.41,324.00 L148.77,324.00 L149.13,324.00 L149.48,324.00 L149.84,324.00 L150.20,324.00 L150.55,324.00 L150.91,324.00 L151.27,324.00 L151.62,324.00 L151.98,324.00 L152.34,324.00 L152.69,324.00 L153.05,324.00 L153.41,324.00 L153.76,324.00 L154.12,324.00 L154.48,324.00 L154.83,324.00 L155.19,324.00 L155.55,324.00 L155.90,324.00 L156.26,324.00 L156.62,324.00 L156.98,324.00 L157.33,324.00 L157.69,324.00 L158.05,324.00 L158.40,324.00 L158.76,324.00 L159.12,324.00 L159.47,324.00 L159.83,324.00 L160.19,324.00 L160.54,324.00 L160.90,324.00 L161.26,324.00 L161.61,324.00 L161.97,324.00 L162.33,324.00 L162.68,324.00 L163.04,324.00 L163.40,324.00 L163.75,324.00 L164.11,324.00 L164.47,324.00 L164.82,324.00 L165.18,324.00 L165.54,324.00 L165.90,324.00 L166.25,324.00 L166.61,324.00 L166.97,324.00 L167.32,324.00 L167.68,324.00 L168.04,324.00 L168.39,324.00 L168.75,324.00 L169.11,324.00 L169.46,324.00 L169.82,324.00 L170.18,324.00 L170.53,324.00 L170.89,324.00 L171.25,324.00 L171.60,324.00 L171.96,324.00 L172.32,324.00 L172.67,324.00 L173.03,324.00 L173.39,324.00 L173.75,324.00 L174.10,324.00 L174.46,324.00 L174.82,324.00 L175.17,324.00 L175.53,324.00 L175.89,324.00 L176.24,324.00 L176.60,324.00 L176.96,324.00 L177.31,324.00 L177.67,324.00 L178.03,324.00 L178.38,324.00 L178.74,324.00 L179.10,324.00 L179.45,324.00 L179.81,324.00 L180.17,324.00 L180.52,324.00 L180.88,324.00 L181.24,324.00 L181.59,324.00 L181.95,324.00 L182.31,324.00 L182.67,324.00 L183.02,324.00 L183.38,324.00 L183.74,324.00 L184.09,324.00 L184.45,324.00 L184.81,324.00 L185.16,324.00 L185.52,324.00 L185.88,324.00 L186.23,324.00 L186.59,324.00 L186.95,324.00 L187.30,324.00 L187.66,324.00 L188.02,324.00 L188.37,324.00 L188.73,324.00 L189.09,324.00 L189.44,324.00 L189.80,324.00 L190.16,324.00 L190.51,324.00 L190.87,324.00 L191.23,324.00 L191.59,324.00 L191.94,324.00 L192.30,324.00 L192.66,324.00 L193.01,324.00 L193.37,324.00 L193.73,324.00 L194.08,324.00 L194.44,324.00 L194.80,324.00 L195.15,324.00 L195.51,324.00 L195.87,324.00 L196.22,324.00 L196.58,324.00 L196.94,324.00 L197.29,324.00 L197.65,324.00 L198.01,324.00 L198.36,324.00 L198.72,324.00 L199.08,324.00 L199.43,324.00 L199.79,324.00 L200.15,324.00 L200.51,324.00 L200.86,324.00 L201.22,324.00 L201.58,324.00 L201.93,324.00 L202.29,324.00 L202.65,324.00 L203.00,324.00 L203.36,324.00 L203.72,324.00 L204.07,324.00 L204.43,324.00 L204.79,324.00 L205.14,324.00 L205.50,324.00 L205.86,324.00 L206.21,324.00 L206.57,324.00 L206.93,324.00 L207.28,324.00 L207.64,324.00 L208.00,324.00 L208.36,324.00 L208.71,324.00 L209.07,324.00 L209.43,324.00 L209.78,324.00 L210.14,324.00 L210.50,324.00 L210.85,324.00 L211.21,324.00 L211.57,324.00 L211.92,324.00 L212.28,324.00 L212.64,324.00 L212.99,324.00 L213.35,324.00 L213.71,324.00 L214.06,324.00 L214.42,324.00 L214.78,324.00 L215.13,324.00 L215.49,324.00 L215.85,324.00 L216.20,324.00 L216.56,324.00 L216.92,324.00 L217.28,324.00 L217.63,324.00 L217.99,324.00 L218.35,324.00 L218.70,324.00 L219.06,324.00 L219.42,324.00 L219.77,324.00 L220.13,324.00 L220.49,324.00 L220.84,324.00 L221.20,324.00 L221.56,324.00 L221.91,324.00 L222.27,324.00 L222.63,324.00 L222.98,324.00 L223.34,324.00 L223.70,324.00 L224.05,324.00 L224.41,324.00 L224.77,324.00 L225.12,324.00 L225.48,324.00 L225.84,324.00 L226.20,324.00 L226.55,324.00 L226.91,324.00 L227.27,324.00 L227.62,324.00 L227.98,324.00 L228.34,324.00 L228.69,324.00 L229.05,324.00 L229.41,324.00 L229.76,324.00 L230.12,324.00 L230.48,324.00 L230.83,324.00 L231.19,324.00 L231.55,324.00 L231.90,324.00 L232.26,324.00 L232.62,324.00 L232.97,324.00 L233.33,324.00 L233.69,324.00 L234.04,324.00 L234.40,324.00 L234.76,324.00 L235.12,324.00 L235.47,324.00 L235.83,324.00 L236.19,324.00 L236.54,324.00 L236.90,324.00 L237.26,324.00 L237.61,324.00 L237.97,324.00 L238.33,324.00 L238.68,324.00 L239.04,324.00 L239.40,324.00 L239.75,324.00 L240.11,324.00 L240.47,324.00 L240.82,324.00 L241.18,324.00 L241.54,324.00 L241.89,324.00 L242.25,324.00 L242.61,324.00 L242.96,324.00 L243.32,324.00 L243.68,324.00 L244.04,324.00 L244.39,324.00 L244.75,324.00 L245.11,324.00 L245.46,324.00 L245.82,324.00 L246.18,324.00 L246.53,324.00 L246.89,324.00 L247.25,324.00 L247.60,324.00 L247.96,324.00 L248.32,324.00 L248.67,324.00 L249.03,324.00 L249.39,324.00 L249.74,324.00 L250.10,324.00 L250.46,324.00 L250.81,324.00 L251.17,324.00 L251.53,324.00 L251.89,324.00 L252.24,324.00 L252.60,324.00 L252.96,324.00 L253.31,324.00 L253.67,324.00 L254.03,324.00 L254.38,324.00 L254.74,324.00 L255.10,324.00 L255.45,324.00 L255.81,324.00 L256.17,324.00 L256.52,324.00 L256.88,324.00 L257.24,324.00 L257.59,324.00 L257.95,324.00 L258.31,324.00 L258.66,324.00 L259.02,324.00 L259.38,324.00 L259.73,324.00 L260.09,324.00 L260.45,324.00 L260.81,324.00 L261.16,324.00 L261.52,324.00 L261.88,324.00 L262.23,324.00 L262.59,324.00 L262.95,324.00 L263.30,324.00 L263.66,324.00 L264.02,324.00 L264.37,324.00 L264.73,324.00 L265.09,324.00 L265.44,324.00 L265.80,324.00 L266.16,324.00 L266.51,324.00 L266.87,324.00 L267.23,324.00 L267.58,324.00 L267.94,324.00 L268.30,324.00 L268.65,324.00 L269.01,324.00 L269.37,324.00 L269.73,324.00 L270.08,324.00 L270.44,324.00 L270.80,324.00 L271.15,324.00 L271.51,324.00 L271.87,324.00 L272.22,324.00 L272.58,324.00 L272.94,324.00 L273.29,324.00 L273.65,324.00 L274.01,324.00 L274.36,324.00 L274.72,324.00 L275.08,324.00 L275.43,324.00 L275.79,324.00 L276.15,324.00 L276.50,324.00 L276.86,324.00 L277.22,324.00 L277.57,324.00 L277.93,324.00 L278.29,324.00 L278.65,324.00 L279.00,324.00 L279.36,324.00 L279.72,324.00 L280.07,324.00 L280.43,324.00 L280.79,324.00 L281.14,324.00 L281.50,324.00 L281.86,324.00 L282.21,324.00 L282.57,324.00 L282.93,324.00 L283.28,324.00 L283.64,324.00 L284.00,324.00 L284.35,324.00 L284.71,324.00 L285.07,324.00 L285.42,324.00 L285.78,324.00 L286.14,324.00 L286.49,324.00 L286.85,324.00 L287.21,324.00 L287.57,324.00 L287.92,324.00 L288.28,324.00 L288.64,324.00 L288.99,324.00 L289.35,324.00 L289.71,324.00 L290.06,324.00 L290.42,324.00 L290.78,324.00 L291.13,324.00 L291.49,324.00 L291.85,324.00 L292.20,324.00 L292.56,324.00 L292.92,324.00 L293.27,324.00 L293.63,324.00 L293.99,324.00 L294.34,324.00 L294.70,324.00 L295.06,324.00 L295.41,324.00 L295.77,324.00 L296.13,324.00 L296.49,324.00 L296.84,324.00 L297.20,324.00 L297.56,324.00 L297.91,324.00 L298.27,324.00 L298.63,324.00 L298.98,324.00 L299.34,324.00 L299.70,324.00 L300.05,324.00 L300.41,324.00 L300.77,324.00 L301.12,324.00 L301.48,324.00 L301.84,324.00 L302.19,324.00 L302.55,324.00 L302.91,324.00 L303.26,324.00 L303.62,324.00 L303.98,324.00 L304.34,324.00 L304.69,324.00 L305.05,324.00 L305.41,324.00 L305.76,324.00 L306.12,324.00 L306.48,324.00 L306.83,324.00 L307.19,324.00 L307.55,324.00 L307.90,324.00 L308.26,324.00 L308.62,324.00 L308.97,324.00 L309.33,324.00 L309.69,324.00 L310.04,324.00 L310.40,324.00 L310.76,324.00 L311.11,324.00 L311.47,324.00 L311.83,324.00 L312.18,324.00 L312.54,324.00 L312.90,324.00 L313.26,324.00 L313.61,324.00 L313.97,324.00 L314.33,324.00 L314.68,324.00 L315.04,324.00 L315.40,324.00 L315.75,324.00 L316.11,324.00 L316.47,324.00 L316.82,324.00 L317.18,324.00 L317.54,324.00 L317.89,324.00 L318.25,324.00 L318.61,324.00 L318.96,324.00 L319.32,324.00 L319.68,324.00 L320.03,324.00 L320.39,324.00 L320.75,324.00 L321.10,324.00 L321.46,324.00 L321.82,324.00 L322.18,324.00 L322.53,324.00 L322.89,324.00 L323.25,324.00 L323.60,324.00 L323.96,324.00 L324.32,324.00 L324.67,323.78 L325.03,323.56 L325.39,323.34 L325.74,323.13 L326.10,322.91 L326.46,322.69 L326.81,322.47 L327.17,322.25 L327.53,322.03 L327.88,321.81 L328.24,321.60 L328.60,321.38 L328.95,321.16 L329.31,320.94 L329.67,320.93 L330.02,320.92 L330.38,320.90 L330.74,320.89 L331.10,320.79 L331.45,320.77 L331.81,320.81 L332.17,320.99 L332.52,320.81 L332.88,319.88 L333.24,319.80 L333.59,319.97 L333.95,320.30 L334.31,320.36 L334.66,319.42 L335.02,320.15 L335.38,320.15 L335.73,321.13 L336.09,320.96 L336.45,320.98 L336.80,320.97 L337.16,320.38 L337.52,320.51 L337.87,319.95 L338.23,320.20 L338.59,320.28 L338.94,320.69 L339.30,320.75 L339.66,320.79 L340.02,319.90 L340.37,320.00 L340.73,320.33 L341.09,321.80 L341.44,321.05 L341.80,320.84 L342.16,319.64 L342.51,319.97 L342.87,319.59 L343.23,319.42 L343.58,319.08 L343.94,318.41 L344.30,319.19 L344.65,319.63 L345.01,320.78 L345.37,320.94 L345.72,321.13 L346.08,321.09 L346.44,320.91 L346.79,321.32 L347.15,320.79 L347.51,320.05 L347.87,320.30 L348.22,320.28 L348.58,307.91 L348.94,276.98 L349.29,248.00 L349.65,219.50 L350.01,191.00 L350.36,191.00 L350.72,191.00 L351.08,206.35 L351.43,221.69 L351.79,234.22 L352.15,242.54 L352.50,250.85 L352.86,256.17 L353.22,261.49 L353.57,266.81 L353.93,269.23 L354.29,271.65 L354.64,274.06 L355.00,276.48 L355.36,278.23 L355.71,279.53 L356.07,280.34 L356.43,282.00 L356.79,283.22 L357.14,284.51 L357.50,284.83 L357.86,285.57 L358.21,285.16 L358.57,284.39 L358.93,284.79 L359.28,285.48 L359.64,286.48 L360.00,287.25 L360.35,287.36 L360.71,288.35 L361.07,287.52 L361.42,287.49 L361.78,287.10 L362.14,288.14 L362.49,288.27 L362.85,288.56 L363.21,288.45 L363.56,289.04 L363.92,289.92 L364.28,290.02 L364.63,290.08 L364.99,289.58 L365.35,289.88 L365.71,290.76 L366.06,290.87 L366.42,291.05 L366.78,290.85 L367.13,291.40 L367.49,291.30 L367.85,291.00 L368.20,290.80 L368.56,290.92 L368.92,291.02 L369.27,290.73 L369.63,291.09 L369.99,291.76 L370.34,292.58 L370.70,292.78 L371.06,292.64 L371.41,292.31 L371.77,292.59 L372.13,292.86 L372.48,293.65 L372.84,293.20 L373.20,293.52 L373.55,293.18 L373.91,293.99 L374.27,294.09 L374.63,294.58 L374.98,293.87 L375.34,293.77 L375.70,293.72 L376.05,294.77 L376.41,295.23 L376.77,295.11 L377.12,294.33 L377.48,294.75 L377.84,295.39 L378.19,296.16 L378.55,296.01 L378.91,296.39 L379.26,296.45 L379.62,296.06 L379.98,296.11 L380.33,296.12 L380.69,296.13 L381.05,295.32 L381.40,295.62 L381.76,295.24 L382.12,295.46 L382.48,295.68 L382.83,296.21 L383.19,296.87 L383.55,296.36 L383.90,297.22 L384.26,296.63 L384.62,297.22 L384.97,296.48 L385.33,296.57 L385.69,296.30 L386.04,296.75 L386.40,296.71 L386.76,297.56 L387.11,297.51 L387.47,297.82 L387.83,297.09 L388.18,297.03 L388.54,295.97 L388.90,296.20 L389.25,296.29 L389.61,297.60 L389.97,297.17 L390.32,298.23 L390.68,297.77 L391.04,298.63 L391.40,298.80 L391.75,299.83 L392.11,299.74 L392.47,298.97 L392.82,298.69 L393.18,298.43 L393.54,298.59 L393.89,298.67 L394.25,299.77 L394.61,299.67 L394.96,299.38 L395.32,298.86 L395.68,299.76 L396.03,300.65 L396.39,300.01 L396.75,299.65 L397.10,299.49 L397.46,300.43 L397.82,300.07 L398.17,300.12 L398.53,300.22 L398.89,301.05 L399.24,300.94 L399.60,300.32 L399.96,299.89 L400.32,299.58 L400.67,299.89 L401.03,299.82 L401.39,300.10 L401.74,300.18 L402.10,299.91 L402.46,299.83 L402.81,300.08 L403.17,300.42 L403.53,300.64 L403.88,300.31 L404.24,300.32 L404.60,300.19 L404.95,300.90 L405.31,300.86 L405.67,300.58 L406.02,300.57 L406.38,300.18 L406.74,300.56 L407.09,300.20 L407.45,301.41 L407.81,301.17 L408.16,301.46 L408.52,301.05 L408.88,301.27 L409.24,301.32 L409.59,301.51 L409.95,302.13 L410.31,301.85 L410.66,301.34 L411.02,300.83 L411.38,300.68 L411.73,301.04 L412.09,301.16 L412.45,301.57 L412.80,300.79 L413.16,300.81 L413.52,301.28 L413.87,302.37 L414.23,301.91 L414.59,301.74 L414.94,301.56 L415.30,302.00 L415.66,301.94 L416.01,301.45 L416.37,301.05 L416.73,300.98 L417.08,300.99 L417.44,301.91 L417.80,302.01 L418.16,302.34 L418.51,301.98 L418.87,301.88 L419.23,301.70 L419.58,301.90 L419.94,291.55 L420.30,265.81 L420.65,240.87 L421.01,215.94 L421.37,191.00 L421.72,191.00 L422.08,191.00 L422.44,191.00 L422.79,191.00 L423.15,191.00 L423.51,191.00 L423.86,191.00 L424.22,191.00 L424.58,196.04 L424.93,198.52 L425.29,197.43 L425.65,196.16 L426.01,193.18 L426.36,191.00 L426.72,191.70 L427.08,194.05 L427.43,195.98 L427.79,197.86 L428.15,200.05 L428.50,199.50 L428.86,197.30 L429.22,194.18 L429.57,191.73 L429.93,191.00 L430.29,191.00 L430.64,192.87 L431.00,195.66 L431.36,197.84 L431.71,199.75 L432.07,207.38 L432.43,211.98 L432.78,213.41 L433.14,214.90 L433.50,216.53 L433.85,222.67 L434.21,228.07 L434.57,217.70 L434.93,207.28 L435.28,214.68 L435.64,221.66 L436.00,223.21 L436.35,205.65 L436.71,198.61 L437.07,195.72 L437.42,194.90 L437.78,203.27 L438.14,212.39 L438.49,218.62 L438.85,218.59 L439.21,218.85 L439.56,215.76 L439.92,214.35 L440.28,215.96 L440.63,213.39 L440.99,206.68 L441.35,207.27 L441.70,217.26 L442.06,218.95 L442.42,218.50 L442.77,215.40 L443.13,214.21 L443.49,214.61 L443.85,214.54 L444.20,214.47 L444.56,211.13 L444.92,207.20 L445.27,203.38 L445.63,209.14 L445.99,219.11 L446.34,222.07 L446.70,215.13 L447.06,212.63 L447.41,211.48 L447.77,210.47 L448.13,208.99 L448.48,207.20 L448.84,209.96 L449.20,215.90 L449.55,221.83 L449.91,219.35 L450.27,208.38 L450.62,201.09 L450.98,205.14 L451.34,209.63 L451.69,209.53 L452.05,209.30 L452.41,210.31 L452.77,210.51 L453.12,210.71 L453.48,216.16 L453.84,222.79 L454.19,225.60 L454.55,220.44 L454.91,215.49 L455.26,210.31 L455.62,209.50 L455.98,212.23 L456.33,213.65 L456.69,212.38 L457.05,213.95 L457.40,209.07 L457.76,203.71 L458.12,198.11 L458.47,195.83 L458.83,196.90 L459.19,206.53 L459.54,216.16 L459.90,214.08 L460.26,200.46 L460.61,200.98 L460.97,216.58 L461.33,232.00 L461.69,236.02 L462.04,236.07 L462.40,236.13 L462.76,231.35 L463.11,221.63 L463.47,211.85 L463.83,217.04 L464.18,221.82 L464.54,219.99 L464.90,215.15 L465.25,211.65 L465.61,209.32 L465.97,209.14 L466.32,215.73 L466.68,218.44 L467.04,212.70 L467.39,207.35 L467.75,209.62 L468.11,213.14 L468.46,217.76 L468.82,225.26 L469.18,232.83 L469.54,230.32 L469.89,216.90 L470.25,215.31 L470.61,215.74 L470.96,213.04 L471.32,208.93 L471.68,202.86 L472.03,201.12 L472.39,219.74 L472.75,228.40 L473.10,225.16 L473.46,221.92 L473.82,221.36 L474.17,223.37 L474.53,225.20 L474.89,224.51 L475.24,220.41 L475.60,213.78 L475.96,203.19 L476.31,203.98 L476.67,209.71 L477.03,215.67 L477.38,219.29 L477.74,222.47 L478.10,223.84 L478.46,221.56 L478.81,219.18 L479.17,216.71 L479.53,214.23 L479.88,218.54 L480.24,225.32 L480.60,231.03 L480.95,228.39 L481.31,223.81 L481.67,216.50 L482.02,210.66 L482.38,206.40 L482.74,210.46 L483.09,213.22 L483.45,215.66 L483.81,219.43 L484.16,222.33 L484.52,223.91 L484.88,225.20 L485.23,223.18 L485.59,223.92 L485.95,228.68 L486.30,233.44 L486.66,228.01 L487.02,217.04 L487.38,214.88 L487.73,218.23 L488.09,219.72 L488.45,218.96 L488.80,219.20 L489.16,223.18 L489.52,231.41 L489.87,234.27 L490.23,232.87 L490.59,228.66 L490.94,226.23 L491.30,221.36" stroke="#ff0000" stroke-width="3"/>
</g>
<text transform="translate(25.3,257.5) rotate(-90)" font-size="13.2" fill="#262626" text-anchor="middle">Control signal u(t)</text>
<rect x="177.5" y="201.3" width="83.2" height="45.7" fill="#fff" stroke="#555555" stroke-width="1.15"/>
<line x1="181.5" y1="210.15" x2="221.5" y2="210.15" stroke="#000" stroke-width="3"/>
<text x="225.0" y="213.95000000000002" font-size="10.5" fill="#000">MRDP</text>
<line x1="181.5" y1="224.15" x2="221.5" y2="224.15" stroke="#0000ff" stroke-width="3"/>
<text x="225.0" y="227.95000000000002" font-size="10.5" fill="#000">APR</text>
<line x1="181.5" y1="238.15" x2="221.5" y2="238.15" stroke="#ff0000" stroke-width="3"/>
<text x="225.0" y="241.95000000000002" font-size="10.5" fill="#000">PPM</text>
<clipPath id="c2"><rect x="56.0" y="374.8" width="436.8" height="136.0"/></clipPath>
<line x1="63.14" y1="376.3" x2="63.14" y2="509.3" stroke="#dfdfdf" stroke-width="0.8"/>
<line x1="134.50" y1="376.3" x2="134.50" y2="509.3" stroke="#dfdfdf" stroke-width="0.8"/>
<line x1="205.86" y1="376.3" x2="205.86" y2="509.3" stroke="#dfdfdf" stroke-width="0.8"/>
<line x1="277.22" y1="376.3" x2="277.22" y2="509.3" stroke="#dfdfdf" stroke-width="0.8"/>
<line x1="348.58" y1="376.3" x2="348.58" y2="509.3" stroke="#dfdfdf" stroke-width="0.8"/>
<line x1="419.94" y1="376.3" x2="419.94" y2="509.3" stroke="#dfdfdf" stroke-width="0.8"/>
<line x1="491.30" y1="376.3" x2="491.30" y2="509.3" stroke="#dfdfdf" stroke-width="0.8"/>
<line x1="56.0" y1="509.30" x2="491.3" y2="509.30" stroke="#dfdfdf" stroke-width="0.8"/>
<line x1="56.0" y1="442.80" x2="491.3" y2="442.80" stroke="#dfdfdf" stroke-width="0.8"/>
<line x1="56.0" y1="376.30" x2="491.3" y2="376.30" stroke="#dfdfdf" stroke-width="0.8"/>
<rect x="56.0" y="376.3" width="435.3" height="133.0" fill="none" stroke="#555555" stroke-width="1.35"/>
<line x1="63.14" y1="509.3" x2="63.14" y2="504.7" stroke="#555555" stroke-width="1.35"/>
<line x1="63.14" y1="376.3" x2="63.14" y2="380.90000000000003" stroke="#555555" stroke-width="1.35"/>
<text x="63.14" y="525.9" font-size="11.9" fill="#262626" text-anchor="middle">100</text>
<line x1="134.50" y1="509.3" x2="134.50" y2="504.7" stroke="#555555" stroke-width="1.35"/>
<line x1="134.50" y1="376.3" x2="134.50" y2="380.90000000000003" stroke="#555555" stroke-width="1.35"/>
<text x="134.50" y="525.9" font-size="11.9" fill="#262626" text-anchor="middle">200</text>
<line x1="205.86" y1="509.3" x2="205.86" y2="504.7" stroke="#555555" stroke-width="1.35"/>
<line x1="205.86" y1="376.3" x2="205.86" y2="380.90000000000003" stroke="#555555" stroke-width="1.35"/>
<text x="205.86" y="525.9" font-size="11.9" fill="#262626" text-anchor="middle">300</text>
<line x1="277.22" y1="509.3" x2="277.22" y2="504.7" stroke="#555555" stroke-width="1.35"/>
<line x1="277.22" y1="376.3" x2="277.22" y2="380.90000000000003" stroke="#555555" stroke-width="1.35"/>
<text x="277.22" y="525.9" font-size="11.9" fill="#262626" text-anchor="middle">400</text>
<line x1="348.58" y1="509.3" x2="348.58" y2="504.7" stroke="#555555" stroke-width="1.35"/>
<line x1="348.58" y1="376.3" x2="348.58" y2="380.90000000000003" stroke="#555555" stroke-width="1.35"/>
<text x="348.58" y="525.9" font-size="11.9" fill="#262626" text-anchor="middle">500</text>
<line x1="419.94" y1="509.3" x2="419.94" y2="504.7" stroke="#555555" stroke-width="1.35"/>
<line x1="419.94" y1="376.3" x2="419.94" y2="380.90000000000003" stroke="#555555" stroke-width="1.35"/>
<text x="419.94" y="525.9" font-size="11.9" fill="#262626" text-anchor="middle">600</text>
<text x="491.30" y="525.9" font-size="11.9" fill="#262626" text-anchor="middle">700</text>
<text x="52.0" y="514.20" font-size="11.9" fill="#262626" text-anchor="end">-100</text>
<line x1="56.0" y1="442.80" x2="60.6" y2="442.80" stroke="#555555" stroke-width="1.35"/>
<line x1="491.3" y1="442.80" x2="486.7" y2="442.80" stroke="#555555" stroke-width="1.35"/>
<text x="52.0" y="447.70" font-size="11.9" fill="#262626" text-anchor="end">-50</text>
<text x="52.0" y="381.20" font-size="11.9" fill="#262626" text-anchor="end">0</text>
<g clip-path="url(#c2)" fill="none" stroke-linejoin="round" stroke-linecap="butt">
<path d="M56.00,381.54 L56.36,381.85 L56.71,382.34 L57.07,382.11 L57.43,382.55 L57.78,382.39 L58.14,382.23 L58.50,381.39 L58.85,381.49 L59.21,382.05 L59.57,382.56 L59.92,382.59 L60.28,381.96 L60.64,381.30 L61.00,380.96 L61.35,381.26 L61.71,382.21 L62.07,382.39 L62.42,381.89 L62.78,381.89 L63.14,381.89 L63.49,381.89 L63.85,384.46 L64.21,387.03 L64.56,389.60 L64.92,395.16 L65.28,400.73 L65.63,406.29 L65.99,411.86 L66.35,417.42 L66.70,422.99 L67.06,428.55 L67.42,434.11 L67.77,439.68 L68.13,445.24 L68.49,450.81 L68.84,456.37 L69.20,461.94 L69.56,467.50 L69.92,473.06 L70.27,478.63 L70.63,484.19 L70.99,489.76 L71.34,495.32 L71.70,499.46 L72.06,501.45 L72.41,503.45 L72.77,501.09 L73.13,498.74 L73.48,495.70 L73.84,491.63 L74.20,487.56 L74.55,483.49 L74.91,479.42 L75.27,475.34 L75.62,471.27 L75.98,467.20 L76.34,463.13 L76.69,459.06 L77.05,456.72 L77.41,455.53 L77.77,454.34 L78.12,453.38 L78.48,452.48 L78.84,451.55 L79.19,450.94 L79.55,450.32 L79.91,449.70 L80.26,449.08 L80.62,448.46 L80.98,447.79 L81.33,447.12 L81.69,446.72 L82.05,446.33 L82.40,446.01 L82.76,445.82 L83.12,445.62 L83.47,445.42 L83.83,445.00 L84.19,444.54 L84.54,444.08 L84.90,443.74 L85.26,443.56 L85.61,443.38 L85.97,443.21 L86.33,443.03 L86.69,442.85 L87.04,442.65 L87.40,442.45 L87.76,442.25 L88.11,442.05 L88.47,441.86 L88.83,441.66 L89.18,441.46 L89.54,441.32 L89.90,441.16 L90.25,441.00 L90.61,440.77 L90.97,440.54 L91.32,440.30 L91.68,440.07 L92.04,439.84 L92.39,439.65 L92.75,439.45 L93.11,439.26 L93.46,439.06 L93.82,439.00 L94.18,438.93 L94.53,438.87 L94.89,438.67 L95.25,438.38 L95.61,438.09 L95.96,437.79 L96.32,437.50 L96.68,437.23 L97.03,437.01 L97.39,436.80 L97.75,436.53 L98.10,436.25 L98.46,435.96 L98.82,435.68 L99.17,435.39 L99.53,435.20 L99.89,435.17 L100.24,435.15 L100.60,435.05 L100.96,434.89 L101.31,434.73 L101.67,434.56 L102.03,434.15 L102.38,433.73 L102.74,433.32 L103.10,432.94 L103.45,432.56 L103.81,432.32 L104.17,432.26 L104.53,432.20 L104.88,432.14 L105.24,431.96 L105.60,431.74 L105.95,431.52 L106.31,431.30 L106.67,431.08 L107.02,430.86 L107.38,430.64 L107.74,430.42 L108.09,430.20 L108.45,430.28 L108.81,430.37 L109.16,430.40 L109.52,430.04 L109.88,429.68 L110.23,429.35 L110.59,429.22 L110.95,429.09 L111.30,428.97 L111.66,428.84 L112.02,428.71 L112.37,428.59 L112.73,428.54 L113.09,428.52 L113.45,428.49 L113.80,428.34 L114.16,428.00 L114.52,427.66 L114.87,427.32 L115.23,427.14 L115.59,426.96 L115.94,426.78 L116.30,426.66 L116.66,426.52 L117.01,426.39 L117.37,426.25 L117.73,426.17 L118.08,426.14 L118.44,426.10 L118.80,426.07 L119.15,426.03 L119.51,425.94 L119.87,425.84 L120.22,425.74 L120.58,425.63 L120.94,425.60 L121.30,425.60 L121.65,425.59 L122.01,425.53 L122.37,425.26 L122.72,425.00 L123.08,424.74 L123.44,424.47 L123.79,424.42 L124.15,424.65 L124.51,424.87 L124.86,425.09 L125.22,424.82 L125.58,424.55 L125.93,424.28 L126.29,424.01 L126.65,423.79 L127.00,423.74 L127.36,423.69 L127.72,423.64 L128.07,423.57 L128.43,423.46 L128.79,423.35 L129.14,423.21 L129.50,423.06 L129.86,422.91 L130.22,422.76 L130.57,422.61 L130.93,422.46 L131.29,422.41 L131.64,422.37 L132.00,422.33 L132.36,422.29 L132.71,422.32 L133.07,422.35 L133.43,422.38 L133.78,422.41 L134.14,421.58 L134.50,419.97 L134.85,416.09 L135.21,412.21 L135.57,408.88 L135.92,405.56 L136.28,402.24 L136.64,398.91 L136.99,396.58 L137.35,394.25 L137.71,391.93 L138.06,389.60 L138.42,388.27 L138.78,386.94 L139.14,385.61 L139.49,384.28 L139.85,382.95 L140.21,381.62 L140.56,381.00 L140.92,380.38 L141.28,379.76 L141.63,379.14 L141.99,378.52 L142.35,377.90 L142.70,377.63 L143.06,377.36 L143.42,377.10 L143.77,376.83 L144.13,376.57 L144.49,376.30 L144.84,376.30 L145.20,376.30 L145.56,376.30 L145.91,376.30 L146.27,376.30 L146.63,376.30 L146.98,376.30 L147.34,376.30 L147.70,376.30 L148.06,376.30 L148.41,376.30 L148.77,376.30 L149.13,376.30 L149.48,376.30 L149.84,376.30 L150.20,376.30 L150.55,376.30 L150.91,376.30 L151.27,376.30 L151.62,376.30 L151.98,376.30 L152.34,376.30 L152.69,376.30 L153.05,376.30 L153.41,376.30 L153.76,376.30 L154.12,376.30 L154.48,376.30 L154.83,376.30 L155.19,376.30 L155.55,376.30 L155.90,376.30 L156.26,376.30 L156.62,376.30 L156.98,376.30 L157.33,376.30 L157.69,376.30 L158.05,376.30 L158.40,376.30 L158.76,376.30 L159.12,376.30 L159.47,376.30 L159.83,376.30 L160.19,376.30 L160.54,376.30 L160.90,376.30 L161.26,376.30 L161.61,376.30 L161.97,376.30 L162.33,376.30 L162.68,376.30 L163.04,376.30 L163.40,376.30 L163.75,376.30 L164.11,376.30 L164.47,376.30 L164.82,376.30 L165.18,376.30 L165.54,376.30 L165.90,376.30 L166.25,376.30 L166.61,376.30 L166.97,376.30 L167.32,376.30 L167.68,376.30 L168.04,376.30 L168.39,376.30 L168.75,376.30 L169.11,376.30 L169.46,376.30 L169.82,376.30 L170.18,376.30 L170.53,376.30 L170.89,376.30 L171.25,376.30 L171.60,376.30 L171.96,376.30 L172.32,376.30 L172.67,376.30 L173.03,376.30 L173.39,376.30 L173.75,376.30 L174.10,376.30 L174.46,376.30 L174.82,376.30 L175.17,376.30 L175.53,376.30 L175.89,376.30 L176.24,376.30 L176.60,376.30 L176.96,376.30 L177.31,376.30 L177.67,376.30 L178.03,376.30 L178.38,376.30 L178.74,376.30 L179.10,376.30 L179.45,376.30 L179.81,376.30 L180.17,376.30 L180.52,376.30 L180.88,376.30 L181.24,376.30 L181.59,376.30 L181.95,376.30 L182.31,376.30 L182.67,376.30 L183.02,376.30 L183.38,376.30 L183.74,376.30 L184.09,376.30 L184.45,376.30 L184.81,376.30 L185.16,376.30 L185.52,376.30 L185.88,376.30 L186.23,376.30 L186.59,376.30 L186.95,376.30 L187.30,376.30 L187.66,376.30 L188.02,376.30 L188.37,376.30 L188.73,376.30 L189.09,376.30 L189.44,376.30 L189.80,376.30 L190.16,376.30 L190.51,376.30 L190.87,376.30 L191.23,376.30 L191.59,376.30 L191.94,376.30 L192.30,376.30 L192.66,376.30 L193.01,376.30 L193.37,376.30 L193.73,376.30 L194.08,376.30 L194.44,376.30 L194.80,376.30 L195.15,376.30 L195.51,376.30 L195.87,376.30 L196.22,376.30 L196.58,376.30 L196.94,376.30 L197.29,376.30 L197.65,376.30 L198.01,376.30 L198.36,376.30 L198.72,376.30 L199.08,376.30 L199.43,376.30 L199.79,376.30 L200.15,376.30 L200.51,376.30 L200.86,376.30 L201.22,376.30 L201.58,376.30 L201.93,376.30 L202.29,376.30 L202.65,376.30 L203.00,376.30 L203.36,376.30 L203.72,376.30 L204.07,376.30 L204.43,376.30 L204.79,376.30 L205.14,376.30 L205.50,376.30 L205.86,376.30 L206.21,376.30 L206.57,376.30 L206.93,376.30 L207.28,376.30 L207.64,376.30 L208.00,376.30 L208.36,376.30 L208.71,376.30 L209.07,376.30 L209.43,376.30 L209.78,376.30 L210.14,376.30 L210.50,376.30 L210.85,376.30 L211.21,376.30 L211.57,376.30 L211.92,376.30 L212.28,376.30 L212.64,376.30 L212.99,376.30 L213.35,376.30 L213.71,376.30 L214.06,376.30 L214.42,376.30 L214.78,376.30 L215.13,376.30 L215.49,376.30 L215.85,376.30 L216.20,376.30 L216.56,376.30 L216.92,376.30 L217.28,376.30 L217.63,376.30 L217.99,376.30 L218.35,376.30 L218.70,376.30 L219.06,376.30 L219.42,376.30 L219.77,376.30 L220.13,376.30 L220.49,376.30 L220.84,376.30 L221.20,376.30 L221.56,376.30 L221.91,376.30 L222.27,376.30 L222.63,376.30 L222.98,376.30 L223.34,376.30 L223.70,376.30 L224.05,376.30 L224.41,376.30 L224.77,376.30 L225.12,376.30 L225.48,376.30 L225.84,376.30 L226.20,376.30 L226.55,376.30 L226.91,376.30 L227.27,376.30 L227.62,376.30 L227.98,376.30 L228.34,376.30 L228.69,376.30 L229.05,376.30 L229.41,376.30 L229.76,376.30 L230.12,376.30 L230.48,376.30 L230.83,376.30 L231.19,376.30 L231.55,376.30 L231.90,376.30 L232.26,376.30 L232.62,376.30 L232.97,376.30 L233.33,376.30 L233.69,376.30 L234.04,376.30 L234.40,376.30 L234.76,376.30 L235.12,376.30 L235.47,376.30 L235.83,376.30 L236.19,376.30 L236.54,376.30 L236.90,376.30 L237.26,376.30 L237.61,376.30 L237.97,376.30 L238.33,376.30 L238.68,376.30 L239.04,376.30 L239.40,376.30 L239.75,376.30 L240.11,376.30 L240.47,376.30 L240.82,376.30 L241.18,376.30 L241.54,376.30 L241.89,376.30 L242.25,376.30 L242.61,376.30 L242.96,376.30 L243.32,376.30 L243.68,376.30 L244.04,376.30 L244.39,376.30 L244.75,376.30 L245.11,376.30 L245.46,376.30 L245.82,376.30 L246.18,376.30 L246.53,376.30 L246.89,376.30 L247.25,376.30 L247.60,376.30 L247.96,376.30 L248.32,376.30 L248.67,376.30 L249.03,376.30 L249.39,376.30 L249.74,376.30 L250.10,376.30 L250.46,376.30 L250.81,376.30 L251.17,376.30 L251.53,376.30 L251.89,376.30 L252.24,376.30 L252.60,376.30 L252.96,376.30 L253.31,376.30 L253.67,376.30 L254.03,376.30 L254.38,376.30 L254.74,376.30 L255.10,376.30 L255.45,376.30 L255.81,376.30 L256.17,376.30 L256.52,376.30 L256.88,376.30 L257.24,376.30 L257.59,376.30 L257.95,376.30 L258.31,376.30 L258.66,376.30 L259.02,376.30 L259.38,376.30 L259.73,376.30 L260.09,376.30 L260.45,376.30 L260.81,376.30 L261.16,376.30 L261.52,376.30 L261.88,376.30 L262.23,376.30 L262.59,376.30 L262.95,376.30 L263.30,376.30 L263.66,376.30 L264.02,376.30 L264.37,376.30 L264.73,376.30 L265.09,376.30 L265.44,376.30 L265.80,376.30 L266.16,376.30 L266.51,376.30 L266.87,376.30 L267.23,376.30 L267.58,376.30 L267.94,376.30 L268.30,376.30 L268.65,376.30 L269.01,376.30 L269.37,376.30 L269.73,376.30 L270.08,376.30 L270.44,376.30 L270.80,376.30 L271.15,376.30 L271.51,376.30 L271.87,376.30 L272.22,376.30 L272.58,376.30 L272.94,376.30 L273.29,376.30 L273.65,376.30 L274.01,376.30 L274.36,376.30 L274.72,376.30 L275.08,376.30 L275.43,376.30 L275.79,376.30 L276.15,376.30 L276.50,376.30 L276.86,376.30 L277.22,376.30 L277.57,376.30 L277.93,376.30 L278.29,376.30 L278.65,376.30 L279.00,376.30 L279.36,376.30 L279.72,376.30 L280.07,376.30 L280.43,376.30 L280.79,376.30 L281.14,376.30 L281.50,376.30 L281.86,376.30 L282.21,376.30 L282.57,376.30 L282.93,376.30 L283.28,376.30 L283.64,376.30 L284.00,376.30 L284.35,376.30 L284.71,376.30 L285.07,376.30 L285.42,376.30 L285.78,376.30 L286.14,376.30 L286.49,376.30 L286.85,376.30 L287.21,376.30 L287.57,376.30 L287.92,376.30 L288.28,376.30 L288.64,376.30 L288.99,376.30 L289.35,376.30 L289.71,376.30 L290.06,376.30 L290.42,376.30 L290.78,376.30 L291.13,376.30 L291.49,376.30 L291.85,376.30 L292.20,376.30 L292.56,376.30 L292.92,376.30 L293.27,376.30 L293.63,376.64 L293.99,376.98 L294.34,377.32 L294.70,377.66 L295.06,378.00 L295.41,378.34 L295.77,378.68 L296.13,379.02 L296.49,379.36 L296.84,379.36 L297.20,379.36 L297.56,379.79 L297.91,379.86 L298.27,379.61 L298.63,379.35 L298.98,379.09 L299.34,378.84 L299.70,379.01 L300.05,379.17 L300.41,379.34 L300.77,379.50 L301.12,379.67 L301.48,379.83 L301.84,380.00 L302.19,380.16 L302.55,380.09 L302.91,379.88 L303.26,379.67 L303.62,379.45 L303.98,379.24 L304.34,379.06 L304.69,379.19 L305.05,379.31 L305.41,379.44 L305.76,379.46 L306.12,379.29 L306.48,379.11 L306.83,378.93 L307.19,378.75 L307.55,378.58 L307.90,378.51 L308.26,378.67 L308.62,378.83 L308.97,378.98 L309.33,379.14 L309.69,379.29 L310.04,379.45 L310.40,379.60 L310.76,379.76 L311.11,379.67 L311.47,379.55 L311.83,379.43 L312.18,379.30 L312.54,379.23 L312.90,379.26 L313.26,379.30 L313.61,379.33 L313.97,379.36 L314.33,379.40 L314.68,379.43 L315.04,379.47 L315.40,379.49 L315.75,379.49 L316.11,379.48 L316.47,379.47 L316.82,379.47 L317.18,379.49 L317.54,379.51 L317.89,379.53 L318.25,379.55 L318.61,379.56 L318.96,379.55 L319.32,379.54 L319.68,379.53 L320.03,379.53 L320.39,379.52 L320.75,379.51 L321.10,379.50 L321.46,379.44 L321.82,379.32 L322.18,379.20 L322.53,379.07 L322.89,379.08 L323.25,379.17 L323.60,379.25 L323.96,379.34 L324.32,379.43 L324.67,379.52 L325.03,379.43 L325.39,379.29 L325.74,379.15 L326.10,379.01 L326.46,378.88 L326.81,378.74 L327.17,378.73 L327.53,378.95 L327.88,379.17 L328.24,379.39 L328.60,379.61 L328.95,379.84 L329.31,380.07 L329.67,380.30 L330.02,380.42 L330.38,380.23 L330.74,380.05 L331.10,379.86 L331.45,379.68 L331.81,379.50 L332.17,379.34 L332.52,379.42 L332.88,379.50 L333.24,379.58 L333.59,379.66 L333.95,379.70 L334.31,379.67 L334.66,379.64 L335.02,379.61 L335.38,379.58 L335.73,379.55 L336.09,379.52 L336.45,379.49 L336.80,379.45 L337.16,379.42 L337.52,379.39 L337.87,379.36 L338.23,379.32 L338.59,379.29 L338.94,379.29 L339.30,379.36 L339.66,379.43 L340.02,379.50 L340.37,379.57 L340.73,379.63 L341.09,379.70 L341.44,379.76 L341.80,379.83 L342.16,379.89 L342.51,379.92 L342.87,379.92 L343.23,379.92 L343.58,379.92 L343.94,379.91 L344.30,379.91 L344.65,379.91 L345.01,379.97 L345.37,380.10 L345.72,380.23 L346.08,380.36 L346.44,380.49 L346.79,380.52 L347.15,380.39 L347.51,380.26 L347.87,380.00 L348.22,380.02 L348.58,392.39 L348.94,423.32 L349.29,445.15 L349.65,464.71 L350.01,484.26 L350.36,493.78 L350.72,488.24 L351.08,482.70 L351.43,476.72 L351.79,470.73 L352.15,464.75 L352.50,458.76 L352.86,455.44 L353.22,452.11 L353.57,448.79 L353.93,445.46 L354.29,442.72 L354.64,439.98 L355.00,437.25 L355.36,434.93 L355.71,432.90 L356.07,430.87 L356.43,428.84 L356.79,427.26 L357.14,425.68 L357.50,424.11 L357.86,422.67 L358.21,421.78 L358.57,420.88 L358.93,419.99 L359.28,419.09 L359.64,418.19 L360.00,417.71 L360.35,417.23 L360.71,416.75 L361.07,416.27 L361.42,415.79 L361.78,415.32 L362.14,415.37 L362.49,415.32 L362.85,415.71 L363.21,415.33 L363.56,414.96 L363.92,414.17 L364.28,414.24 L364.63,413.41 L364.99,413.30 L365.35,412.47 L365.71,412.17 L366.06,411.86 L366.42,411.28 L366.78,411.31 L367.13,410.43 L367.49,411.25 L367.85,411.18 L368.20,411.57 L368.56,410.82 L368.92,411.06 L369.27,410.45 L369.63,410.03 L369.99,409.34 L370.34,409.36 L370.70,409.70 L371.06,409.54 L371.41,408.94 L371.77,408.76 L372.13,408.61 L372.48,408.57 L372.84,408.30 L373.20,407.72 L373.55,407.57 L373.91,407.42 L374.27,407.84 L374.63,408.73 L374.98,408.13 L375.34,408.24 L375.70,407.00 L376.05,407.38 L376.41,406.55 L376.77,406.99 L377.12,407.15 L377.48,407.77 L377.84,407.47 L378.19,406.93 L378.55,406.24 L378.91,405.78 L379.26,406.32 L379.62,406.36 L379.98,406.57 L380.33,406.06 L380.69,405.90 L381.05,405.56 L381.40,404.99 L381.76,404.86 L382.12,404.74 L382.48,404.58 L382.83,404.51 L383.19,404.39 L383.55,404.33 L383.90,404.09 L384.26,404.03 L384.62,404.27 L384.97,404.10 L385.33,404.56 L385.69,403.70 L386.04,403.41 L386.40,402.98 L386.76,403.59 L387.11,403.83 L387.47,403.66 L387.83,403.02 L388.18,402.72 L388.54,402.67 L388.90,403.42 L389.25,403.28 L389.61,402.78 L389.97,402.26 L390.32,402.51 L390.68,402.64 L391.04,402.34 L391.40,402.03 L391.75,402.05 L392.11,402.04 L392.47,401.90 L392.82,401.57 L393.18,401.70 L393.54,401.74 L393.89,401.69 L394.25,401.49 L394.61,401.15 L394.96,400.99 L395.32,400.72 L395.68,401.11 L396.03,401.36 L396.39,401.55 L396.75,401.35 L397.10,400.68 L397.46,400.52 L397.82,400.21 L398.17,401.02 L398.53,400.77 L398.89,400.87 L399.24,400.64 L399.60,400.74 L399.96,400.74 L400.32,400.34 L400.67,400.19 L401.03,400.07 L401.39,399.93 L401.74,400.40 L402.10,400.76 L402.46,401.00 L402.81,400.36 L403.17,399.79 L403.53,399.85 L403.88,400.19 L404.24,400.66 L404.60,400.18 L404.95,400.30 L405.31,400.15 L405.67,400.41 L406.02,400.14 L406.38,400.31 L406.74,400.41 L407.09,400.32 L407.45,399.57 L407.81,399.33 L408.16,399.33 L408.52,399.13 L408.88,399.10 L409.24,399.24 L409.59,399.19 L409.95,398.91 L410.31,398.81 L410.66,399.03 L411.02,399.17 L411.38,398.66 L411.73,398.62 L412.09,398.25 L412.45,398.01 L412.80,398.28 L413.16,398.36 L413.52,398.06 L413.87,397.44 L414.23,397.53 L414.59,398.27 L414.94,398.35 L415.30,398.36 L415.66,398.33 L416.01,398.14 L416.37,397.45 L416.73,397.42 L417.08,397.86 L417.44,398.70 L417.80,398.16 L418.16,397.82 L418.51,397.39 L418.87,397.68 L419.23,397.69 L419.58,397.61 L419.94,399.58 L420.30,404.56 L420.65,409.55 L421.01,416.20 L421.37,422.85 L421.72,429.50 L422.08,436.15 L422.44,441.69 L422.79,447.23 L423.15,452.78 L423.51,458.32 L423.86,463.86 L424.22,469.40 L424.58,471.99 L424.93,474.57 L425.29,477.16 L425.65,479.74 L426.01,482.33 L426.36,484.92 L426.72,487.50 L427.08,488.96 L427.43,490.13 L427.79,491.31 L428.15,492.48 L428.50,493.65 L428.86,494.83 L429.22,496.00 L429.57,496.00 L429.93,496.00 L430.29,496.00 L430.64,496.00 L431.00,495.90 L431.36,495.80 L431.71,497.34 L432.07,496.54 L432.43,497.37 L432.78,496.05 L433.14,496.11 L433.50,495.28 L433.85,495.83 L434.21,495.45 L434.57,495.52 L434.93,495.19 L435.28,494.81 L435.64,493.93 L436.00,492.83 L436.35,493.28 L436.71,493.09 L437.07,493.37 L437.42,493.40 L437.78,493.78 L438.14,492.45 L438.49,491.93 L438.85,492.14 L439.21,492.55 L439.56,493.31 L439.92,493.96 L440.28,494.97 L440.63,494.60 L440.99,494.76 L441.35,494.40 L441.70,494.29 L442.06,493.20 L442.42,493.04 L442.77,492.45 L443.13,492.01 L443.49,492.19 L443.85,492.05 L444.20,491.92 L444.56,491.51 L444.92,491.72 L445.27,491.30 L445.63,491.77 L445.99,491.88 L446.34,491.92 L446.70,491.43 L447.06,491.85 L447.41,491.59 L447.77,490.87 L448.13,490.89 L448.48,490.65 L448.84,489.79 L449.20,490.11 L449.55,490.65 L449.91,489.98 L450.27,489.90 L450.62,489.94 L450.98,489.43 L451.34,489.99 L451.69,490.44 L452.05,491.42 L452.41,491.58 L452.77,491.59 L453.12,490.72 L453.48,490.44 L453.84,489.70 L454.19,490.02 L454.55,490.08 L454.91,489.62 L455.26,488.99 L455.62,489.36 L455.98,488.68 L456.33,488.04 L456.69,488.12 L457.05,488.86 L457.40,487.94 L457.76,487.36 L458.12,487.63 L458.47,488.05 L458.83,488.42 L459.19,488.53 L459.54,488.63 L459.90,488.71 L460.26,488.33 L460.61,487.83 L460.97,487.27 L461.33,488.04 L461.69,487.61 L462.04,487.77 L462.40,487.36 L462.76,487.85 L463.11,486.96 L463.47,487.20 L463.83,487.13 L464.18,487.48 L464.54,487.92 L464.90,487.92 L465.25,487.77 L465.61,488.04 L465.97,487.66 L466.32,487.38 L466.68,488.27 L467.04,488.28 L467.39,487.61 L467.75,487.85 L468.11,487.79 L468.46,487.50 L468.82,487.74 L469.18,486.93 L469.54,487.08 L469.89,486.57 L470.25,485.87 L470.61,485.32 L470.96,486.66 L471.32,485.68 L471.68,486.05 L472.03,485.34 L472.39,485.41 L472.75,484.97 L473.10,484.84 L473.46,484.61 L473.82,485.20 L474.17,484.60 L474.53,484.43 L474.89,485.23 L475.24,485.00 L475.60,484.62 L475.96,484.91 L476.31,484.60 L476.67,483.52 L477.03,483.03 L477.38,483.25 L477.74,482.30 L478.10,482.18 L478.46,482.45 L478.81,483.01 L479.17,482.66 L479.53,482.89 L479.88,482.65 L480.24,483.13 L480.60,482.57 L480.95,482.71 L481.31,482.84 L481.67,483.10 L482.02,482.33 L482.38,482.57 L482.74,482.07 L483.09,482.05 L483.45,481.54 L483.81,481.47 L484.16,480.83 L484.52,480.43 L484.88,480.39 L485.23,480.11 L485.59,480.29 L485.95,480.38 L486.30,481.34 L486.66,481.24 L487.02,480.64 L487.38,480.24 L487.73,480.25 L488.09,479.78 L488.45,479.87 L488.80,480.04 L489.16,480.07 L489.52,480.07 L489.87,479.15 L490.23,478.31 L490.59,478.32 L490.94,478.27 L491.30,477.38" stroke="#000" stroke-width="3"/>
<path d="M56.00,380.23 L56.36,380.73 L56.71,380.44 L57.07,380.68 L57.43,380.40 L57.78,380.71 L58.14,380.53 L58.50,380.33 L58.85,380.58 L59.21,379.91 L59.57,379.82 L59.92,379.98 L60.28,380.75 L60.64,381.03 L61.00,380.21 L61.35,379.83 L61.71,379.27 L62.07,379.40 L62.42,380.02 L62.78,380.02 L63.14,380.02 L63.49,382.90 L63.85,387.68 L64.21,399.57 L64.56,416.20 L64.92,432.82 L65.28,449.45 L65.63,466.08 L65.99,482.70 L66.35,499.33 L66.70,509.30 L67.06,509.30 L67.42,509.30 L67.77,509.30 L68.13,509.30 L68.49,509.30 L68.84,509.30 L69.20,509.30 L69.56,509.30 L69.92,507.22 L70.27,502.03 L70.63,496.83 L70.99,491.64 L71.34,486.44 L71.70,481.25 L72.06,476.05 L72.41,471.84 L72.77,467.63 L73.13,463.42 L73.48,459.20 L73.84,454.99 L74.20,450.78 L74.55,449.67 L74.91,448.56 L75.27,447.46 L75.62,446.90 L75.98,446.35 L76.34,445.79 L76.69,445.24 L77.05,444.68 L77.41,444.13 L77.77,445.61 L78.12,444.81 L78.48,444.01 L78.84,443.48 L79.19,443.10 L79.55,442.19 L79.91,441.60 L80.26,441.56 L80.62,441.28 L80.98,440.59 L81.33,439.90 L81.69,439.37 L82.05,439.07 L82.40,439.12 L82.76,439.13 L83.12,438.45 L83.47,437.88 L83.83,438.47 L84.19,439.11 L84.54,438.79 L84.90,437.80 L85.26,436.78 L85.61,436.53 L85.97,437.67 L86.33,438.58 L86.69,438.25 L87.04,437.92 L87.40,437.70 L87.76,437.20 L88.11,436.52 L88.47,436.28 L88.83,436.53 L89.18,436.62 L89.54,435.94 L89.90,435.45 L90.25,435.44 L90.61,435.43 L90.97,435.37 L91.32,435.38 L91.68,435.29 L92.04,435.14 L92.39,435.18 L92.75,435.33 L93.11,434.67 L93.46,433.74 L93.82,434.34 L94.18,434.92 L94.53,434.18 L94.89,433.46 L95.25,433.70 L95.61,433.94 L95.96,433.11 L96.32,431.05 L96.68,431.58 L97.03,432.20 L97.39,432.56 L97.75,432.38 L98.10,432.20 L98.46,432.08 L98.82,431.04 L99.17,430.43 L99.53,430.83 L99.89,430.92 L100.24,430.48 L100.60,429.85 L100.96,430.12 L101.31,430.46 L101.67,429.73 L102.03,429.59 L102.38,429.99 L102.74,430.37 L103.10,429.42 L103.45,428.28 L103.81,427.96 L104.17,428.19 L104.53,427.59 L104.88,427.42 L105.24,427.95 L105.60,427.84 L105.95,427.59 L106.31,426.98 L106.67,426.76 L107.02,427.21 L107.38,427.24 L107.74,426.94 L108.09,426.41 L108.45,425.59 L108.81,426.01 L109.16,426.57 L109.52,426.34 L109.88,425.98 L110.23,425.24 L110.59,424.72 L110.95,424.72 L111.30,424.72 L111.66,425.15 L112.02,425.41 L112.37,425.24 L112.73,425.06 L113.09,425.01 L113.45,424.82 L113.80,424.47 L114.16,424.09 L114.52,423.14 L114.87,422.79 L115.23,424.08 L115.59,424.96 L115.94,424.37 L116.30,423.67 L116.66,422.91 L117.01,422.87 L117.37,423.11 L117.73,423.23 L118.08,423.91 L118.44,424.35 L118.80,423.43 L119.15,422.84 L119.51,422.56 L119.87,422.25 L120.22,421.60 L120.58,421.17 L120.94,421.18 L121.30,421.19 L121.65,421.35 L122.01,421.39 L122.37,421.75 L122.72,422.15 L123.08,421.80 L123.44,421.25 L123.79,420.64 L124.15,420.50 L124.51,420.35 L124.86,420.20 L125.22,420.75 L125.58,421.18 L125.93,420.29 L126.29,419.78 L126.65,419.77 L127.00,420.01 L127.36,419.87 L127.72,419.26 L128.07,419.87 L128.43,420.54 L128.79,420.93 L129.14,421.02 L129.50,420.88 L129.86,420.62 L130.22,420.05 L130.57,419.41 L130.93,419.22 L131.29,419.83 L131.64,418.86 L132.00,417.91 L132.36,418.24 L132.71,418.91 L133.07,418.88 L133.43,418.19 L133.78,418.75 L134.14,418.37 L134.50,404.32 L134.85,376.30 L135.21,376.30 L135.57,376.30 L135.92,376.30 L136.28,376.30 L136.64,376.30 L136.99,376.30 L137.35,376.30 L137.71,376.30 L138.06,376.30 L138.42,376.30 L138.78,376.30 L139.14,376.30 L139.49,376.30 L139.85,376.30 L140.21,376.30 L140.56,376.30 L140.92,376.30 L141.28,376.30 L141.63,376.30 L141.99,376.30 L142.35,376.30 L142.70,376.30 L143.06,376.30 L143.42,376.30 L143.77,376.30 L144.13,376.30 L144.49,376.30 L144.84,376.30 L145.20,376.30 L145.56,376.30 L145.91,376.30 L146.27,376.30 L146.63,376.30 L146.98,376.30 L147.34,376.30 L147.70,376.30 L148.06,376.30 L148.41,376.30 L148.77,376.30 L149.13,376.30 L149.48,376.30 L149.84,376.30 L150.20,376.30 L150.55,376.30 L150.91,376.30 L151.27,376.30 L151.62,376.30 L151.98,376.30 L152.34,376.30 L152.69,376.30 L153.05,376.30 L153.41,376.30 L153.76,376.30 L154.12,376.30 L154.48,376.30 L154.83,376.30 L155.19,376.30 L155.55,376.30 L155.90,376.30 L156.26,376.30 L156.62,376.30 L156.98,376.30 L157.33,376.30 L157.69,376.30 L158.05,376.30 L158.40,376.30 L158.76,376.30 L159.12,376.30 L159.47,376.30 L159.83,376.30 L160.19,376.30 L160.54,376.30 L160.90,376.30 L161.26,376.30 L161.61,376.30 L161.97,376.30 L162.33,376.30 L162.68,376.30 L163.04,376.30 L163.40,376.30 L163.75,376.30 L164.11,376.30 L164.47,376.30 L164.82,376.30 L165.18,376.30 L165.54,376.30 L165.90,376.30 L166.25,376.30 L166.61,376.30 L166.97,376.30 L167.32,376.30 L167.68,376.30 L168.04,376.30 L168.39,376.30 L168.75,376.30 L169.11,376.30 L169.46,376.30 L169.82,376.30 L170.18,376.30 L170.53,376.30 L170.89,376.30 L171.25,376.30 L171.60,376.30 L171.96,376.30 L172.32,376.30 L172.67,376.30 L173.03,376.30 L173.39,376.30 L173.75,376.30 L174.10,376.30 L174.46,376.30 L174.82,376.30 L175.17,376.30 L175.53,376.30 L175.89,376.30 L176.24,376.30 L176.60,376.30 L176.96,376.30 L177.31,376.30 L177.67,376.30 L178.03,376.30 L178.38,376.30 L178.74,376.30 L179.10,376.30 L179.45,376.30 L179.81,376.30 L180.17,376.30 L180.52,376.30 L180.88,376.30 L181.24,376.30 L181.59,376.30 L181.95,376.30 L182.31,376.30 L182.67,376.30 L183.02,376.30 L183.38,376.30 L183.74,376.30 L184.09,376.30 L184.45,376.30 L184.81,376.30 L185.16,376.30 L185.52,376.30 L185.88,376.30 L186.23,376.30 L186.59,376.30 L186.95,376.30 L187.30,376.30 L187.66,376.30 L188.02,376.30 L188.37,376.30 L188.73,376.30 L189.09,376.30 L189.44,376.30 L189.80,376.30 L190.16,376.30 L190.51,376.30 L190.87,376.30 L191.23,376.30 L191.59,376.30 L191.94,376.30 L192.30,376.30 L192.66,376.30 L193.01,376.30 L193.37,376.30 L193.73,376.30 L194.08,376.30 L194.44,376.30 L194.80,376.30 L195.15,376.30 L195.51,376.30 L195.87,376.30 L196.22,376.30 L196.58,376.30 L196.94,376.30 L197.29,376.30 L197.65,376.30 L198.01,376.30 L198.36,376.30 L198.72,376.30 L199.08,376.30 L199.43,376.30 L199.79,376.30 L200.15,376.30 L200.51,376.30 L200.86,376.30 L201.22,376.30 L201.58,376.30 L201.93,376.30 L202.29,376.30 L202.65,376.30 L203.00,376.30 L203.36,376.30 L203.72,376.30 L204.07,376.30 L204.43,376.30 L204.79,376.30 L205.14,376.30 L205.50,376.30 L205.86,376.30 L206.21,376.30 L206.57,376.30 L206.93,376.30 L207.28,376.30 L207.64,376.30 L208.00,376.30 L208.36,376.30 L208.71,376.30 L209.07,376.30 L209.43,376.30 L209.78,376.30 L210.14,376.30 L210.50,376.30 L210.85,376.30 L211.21,376.30 L211.57,376.30 L211.92,376.30 L212.28,376.30 L212.64,376.30 L212.99,376.30 L213.35,376.30 L213.71,376.30 L214.06,376.30 L214.42,376.30 L214.78,376.30 L215.13,376.30 L215.49,376.30 L215.85,376.30 L216.20,376.30 L216.56,376.30 L216.92,376.30 L217.28,376.30 L217.63,376.30 L217.99,376.30 L218.35,376.30 L218.70,376.30 L219.06,376.30 L219.42,376.30 L219.77,376.30 L220.13,376.30 L220.49,376.30 L220.84,376.30 L221.20,376.30 L221.56,376.30 L221.91,376.30 L222.27,376.30 L222.63,376.30 L222.98,376.30 L223.34,376.30 L223.70,376.30 L224.05,376.30 L224.41,376.30 L224.77,376.30 L225.12,376.30 L225.48,376.30 L225.84,376.30 L226.20,376.30 L226.55,376.30 L226.91,376.30 L227.27,376.30 L227.62,376.30 L227.98,376.30 L228.34,376.30 L228.69,376.30 L229.05,376.30 L229.41,376.30 L229.76,376.30 L230.12,376.30 L230.48,376.30 L230.83,376.30 L231.19,376.30 L231.55,376.30 L231.90,376.30 L232.26,376.30 L232.62,376.30 L232.97,376.30 L233.33,376.30 L233.69,376.30 L234.04,376.30 L234.40,376.30 L234.76,376.30 L235.12,376.30 L235.47,376.30 L235.83,376.30 L236.19,376.30 L236.54,376.30 L236.90,376.30 L237.26,376.30 L237.61,376.30 L237.97,376.30 L238.33,376.30 L238.68,376.30 L239.04,376.30 L239.40,376.30 L239.75,376.30 L240.11,376.30 L240.47,376.30 L240.82,376.30 L241.18,376.30 L241.54,376.30 L241.89,376.30 L242.25,376.30 L242.61,376.30 L242.96,376.30 L243.32,376.30 L243.68,376.30 L244.04,376.30 L244.39,376.30 L244.75,376.30 L245.11,376.30 L245.46,376.30 L245.82,376.30 L246.18,376.30 L246.53,376.30 L246.89,376.30 L247.25,376.30 L247.60,376.30 L247.96,376.30 L248.32,376.30 L248.67,376.30 L249.03,376.30 L249.39,376.30 L249.74,376.30 L250.10,376.30 L250.46,376.30 L250.81,376.30 L251.17,376.30 L251.53,376.30 L251.89,376.30 L252.24,376.30 L252.60,376.30 L252.96,376.30 L253.31,376.30 L253.67,376.30 L254.03,376.30 L254.38,376.30 L254.74,376.30 L255.10,376.30 L255.45,376.30 L255.81,376.30 L256.17,376.30 L256.52,376.30 L256.88,376.30 L257.24,376.30 L257.59,376.30 L257.95,376.30 L258.31,376.30 L258.66,376.30 L259.02,376.30 L259.38,376.30 L259.73,376.30 L260.09,376.30 L260.45,376.30 L260.81,376.30 L261.16,376.30 L261.52,376.30 L261.88,376.30 L262.23,376.30 L262.59,376.30 L262.95,376.30 L263.30,376.30 L263.66,376.30 L264.02,376.30 L264.37,376.30 L264.73,376.30 L265.09,376.30 L265.44,376.30 L265.80,376.30 L266.16,376.30 L266.51,376.30 L266.87,376.30 L267.23,376.30 L267.58,376.30 L267.94,376.30 L268.30,376.30 L268.65,376.30 L269.01,376.30 L269.37,376.30 L269.73,376.30 L270.08,376.30 L270.44,376.30 L270.80,376.30 L271.15,376.30 L271.51,376.30 L271.87,376.30 L272.22,376.30 L272.58,376.30 L272.94,376.30 L273.29,376.30 L273.65,376.30 L274.01,376.30 L274.36,376.30 L274.72,376.30 L275.08,376.30 L275.43,376.30 L275.79,376.30 L276.15,376.30 L276.50,376.30 L276.86,376.30 L277.22,376.30 L277.57,376.30 L277.93,376.30 L278.29,376.30 L278.65,376.30 L279.00,376.30 L279.36,376.30 L279.72,376.30 L280.07,376.30 L280.43,376.30 L280.79,376.30 L281.14,376.30 L281.50,376.30 L281.86,376.30 L282.21,376.30 L282.57,376.30 L282.93,376.30 L283.28,376.30 L283.64,376.30 L284.00,376.30 L284.35,376.30 L284.71,376.30 L285.07,376.30 L285.42,376.30 L285.78,376.30 L286.14,376.30 L286.49,376.30 L286.85,376.30 L287.21,376.30 L287.57,376.30 L287.92,376.30 L288.28,376.30 L288.64,376.30 L288.99,376.30 L289.35,376.30 L289.71,376.30 L290.06,376.30 L290.42,376.30 L290.78,376.30 L291.13,376.30 L291.49,376.30 L291.85,376.30 L292.20,376.30 L292.56,376.30 L292.92,376.30 L293.27,376.30 L293.63,376.30 L293.99,376.30 L294.34,376.30 L294.70,376.30 L295.06,376.30 L295.41,376.30 L295.77,376.30 L296.13,376.30 L296.49,376.30 L296.84,376.30 L297.20,376.30 L297.56,376.30 L297.91,376.30 L298.27,376.30 L298.63,376.30 L298.98,376.30 L299.34,376.30 L299.70,376.30 L300.05,376.30 L300.41,376.30 L300.77,376.30 L301.12,376.30 L301.48,376.30 L301.84,376.30 L302.19,376.30 L302.55,376.30 L302.91,376.30 L303.26,376.30 L303.62,376.30 L303.98,376.30 L304.34,376.30 L304.69,376.30 L305.05,376.30 L305.41,376.30 L305.76,376.30 L306.12,376.30 L306.48,376.30 L306.83,376.30 L307.19,376.30 L307.55,376.30 L307.90,376.30 L308.26,376.30 L308.62,376.30 L308.97,376.30 L309.33,376.30 L309.69,376.30 L310.04,376.30 L310.40,376.30 L310.76,376.30 L311.11,376.30 L311.47,376.30 L311.83,376.30 L312.18,376.30 L312.54,376.30 L312.90,376.30 L313.26,376.30 L313.61,376.30 L313.97,376.30 L314.33,376.30 L314.68,376.30 L315.04,376.30 L315.40,376.30 L315.75,376.30 L316.11,376.30 L316.47,376.30 L316.82,376.30 L317.18,376.30 L317.54,376.30 L317.89,376.30 L318.25,376.30 L318.61,376.30 L318.96,376.30 L319.32,376.30 L319.68,376.30 L320.03,376.30 L320.39,376.30 L320.75,376.30 L321.10,376.30 L321.46,376.30 L321.82,376.30 L322.18,376.30 L322.53,376.30 L322.89,376.30 L323.25,376.30 L323.60,376.30 L323.96,376.30 L324.32,376.30 L324.67,376.49 L325.03,376.68 L325.39,376.87 L325.74,377.06 L326.10,377.25 L326.46,377.44 L326.81,377.63 L327.17,377.82 L327.53,378.01 L327.88,378.20 L328.24,378.39 L328.60,378.58 L328.95,378.77 L329.31,378.96 L329.67,378.97 L330.02,378.98 L330.38,378.70 L330.74,378.87 L331.10,379.04 L331.45,379.22 L331.81,379.39 L332.17,379.40 L332.52,379.37 L332.88,379.33 L333.24,379.30 L333.59,379.27 L333.95,379.24 L334.31,379.24 L334.66,379.35 L335.02,379.46 L335.38,379.57 L335.73,379.65 L336.09,379.73 L336.45,379.81 L336.80,379.88 L337.16,379.96 L337.52,380.02 L337.87,380.04 L338.23,380.05 L338.59,380.07 L338.94,380.08 L339.30,380.01 L339.66,379.87 L340.02,379.73 L340.37,379.59 L340.73,379.45 L341.09,379.31 L341.44,379.12 L341.80,378.89 L342.16,378.66 L342.51,378.43 L342.87,378.66 L343.23,378.91 L343.58,379.16 L343.94,379.41 L344.30,379.56 L344.65,379.45 L345.01,379.33 L345.37,379.22 L345.72,379.11 L346.08,379.00 L346.44,378.88 L346.79,378.88 L347.15,379.19 L347.51,379.49 L347.87,379.61 L348.22,379.62 L348.58,392.09 L348.94,423.27 L349.29,446.40 L349.65,478.16 L350.01,499.29 L350.36,508.54 L350.72,499.99 L351.08,479.15 L351.43,468.96 L351.79,458.76 L352.15,454.72 L352.50,450.69 L352.86,446.65 L353.22,442.61 L353.57,438.57 L353.93,434.90 L354.29,431.77 L354.64,428.64 L355.00,425.51 L355.36,423.51 L355.71,421.52 L356.07,419.52 L356.43,417.53 L356.79,416.73 L357.14,415.93 L357.50,415.14 L357.86,414.34 L358.21,413.54 L358.57,413.10 L358.93,412.65 L359.28,412.21 L359.64,411.77 L360.00,411.32 L360.35,410.88 L360.71,410.73 L361.07,410.57 L361.42,410.42 L361.78,409.40 L362.14,409.71 L362.49,409.56 L362.85,409.98 L363.21,409.92 L363.56,410.39 L363.92,410.17 L364.28,409.49 L364.63,409.10 L364.99,408.82 L365.35,408.47 L365.71,408.56 L366.06,408.35 L366.42,408.68 L366.78,407.91 L367.13,407.64 L367.49,407.26 L367.85,407.14 L368.20,407.07 L368.56,407.22 L368.92,406.81 L369.27,406.78 L369.63,406.45 L369.99,407.23 L370.34,406.72 L370.70,406.32 L371.06,405.61 L371.41,406.07 L371.77,405.70 L372.13,406.03 L372.48,405.51 L372.84,406.24 L373.20,405.88 L373.55,405.39 L373.91,404.99 L374.27,404.74 L374.63,405.39 L374.98,405.59 L375.34,405.46 L375.70,404.99 L376.05,404.09 L376.41,404.35 L376.77,404.58 L377.12,405.33 L377.48,405.18 L377.84,405.27 L378.19,405.17 L378.55,405.00 L378.91,404.71 L379.26,404.06 L379.62,404.12 L379.98,404.14 L380.33,404.21 L380.69,403.89 L381.05,403.45 L381.40,403.30 L381.76,403.37 L382.12,403.44 L382.48,403.44 L382.83,403.05 L383.19,402.32 L383.55,402.01 L383.90,401.58 L384.26,401.81 L384.62,401.93 L384.97,402.30 L385.33,402.31 L385.69,402.57 L386.04,402.64 L386.40,402.08 L386.76,401.70 L387.11,401.22 L387.47,401.49 L387.83,401.19 L388.18,401.23 L388.54,401.21 L388.90,400.98 L389.25,400.83 L389.61,401.36 L389.97,401.52 L390.32,401.63 L390.68,401.33 L391.04,401.35 L391.40,401.32 L391.75,400.79 L392.11,400.12 L392.47,399.51 L392.82,398.91 L393.18,399.46 L393.54,399.42 L393.89,400.14 L394.25,400.46 L394.61,400.28 L394.96,400.10 L395.32,399.41 L395.68,399.40 L396.03,398.83 L396.39,398.59 L396.75,398.84 L397.10,399.09 L397.46,399.57 L397.82,399.29 L398.17,399.67 L398.53,399.60 L398.89,400.05 L399.24,400.13 L399.60,399.86 L399.96,399.24 L400.32,398.89 L400.67,398.70 L401.03,398.73 L401.39,398.27 L401.74,398.30 L402.10,398.38 L402.46,398.75 L402.81,398.97 L403.17,398.76 L403.53,398.72 L403.88,398.68 L404.24,399.04 L404.60,398.82 L404.95,399.02 L405.31,398.90 L405.67,398.59 L406.02,398.14 L406.38,397.68 L406.74,398.08 L407.09,398.09 L407.45,398.53 L407.81,398.32 L408.16,397.54 L408.52,397.34 L408.88,397.02 L409.24,397.90 L409.59,397.48 L409.95,397.49 L410.31,396.88 L410.66,397.34 L411.02,397.15 L411.38,397.31 L411.73,396.89 L412.09,396.67 L412.45,396.84 L412.80,396.87 L413.16,397.16 L413.52,396.88 L413.87,397.09 L414.23,397.26 L414.59,397.46 L414.94,397.05 L415.30,397.09 L415.66,397.50 L416.01,397.46 L416.37,396.83 L416.73,396.03 L417.08,396.01 L417.44,396.35 L417.80,396.62 L418.16,397.40 L418.51,397.76 L418.87,397.72 L419.23,397.35 L419.58,396.28 L419.94,401.24 L420.30,413.71 L420.65,424.98 L421.01,435.95 L421.37,446.92 L421.72,457.90 L422.08,468.87 L422.44,479.84 L422.79,490.81 L423.15,501.79 L423.51,506.11 L423.86,508.77 L424.22,502.05 L424.58,507.51 L424.93,509.30 L425.29,508.94 L425.65,503.29 L426.01,498.81 L426.36,496.00 L426.72,496.39 L427.08,499.40 L427.43,501.42 L427.79,505.98 L428.15,509.30 L428.50,502.25 L428.86,503.17 L429.22,501.45 L429.57,501.49 L429.93,505.43 L430.29,503.91 L430.64,498.16 L431.00,494.85 L431.36,500.82 L431.71,507.04 L432.07,505.97 L432.43,504.60 L432.78,504.89 L433.14,507.87 L433.50,504.58 L433.85,495.72 L434.21,490.37 L434.57,485.12 L434.93,487.43 L435.28,492.60 L435.64,494.98 L436.00,497.64 L436.35,498.15 L436.71,496.12 L437.07,494.04 L437.42,492.89 L437.78,489.67 L438.14,487.14 L438.49,484.42 L438.85,489.06 L439.21,490.98 L439.56,489.30 L439.92,487.60 L440.28,490.80 L440.63,494.96 L440.99,499.67 L441.35,497.40 L441.70,488.87 L442.06,490.09 L442.42,487.10 L442.77,482.15 L443.13,481.27 L443.49,482.71 L443.85,484.17 L444.20,487.62 L444.56,488.19 L444.92,489.40 L445.27,490.70 L445.63,488.90 L445.99,487.78 L446.34,491.67 L446.70,494.84 L447.06,490.50 L447.41,486.51 L447.77,485.62 L448.13,484.44 L448.48,482.03 L448.84,483.69 L449.20,488.34 L449.55,491.81 L449.91,489.50 L450.27,483.88 L450.62,482.08 L450.98,487.59 L451.34,493.09 L451.69,493.93 L452.05,492.25 L452.41,484.78 L452.77,478.53 L453.12,478.38 L453.48,477.75 L453.84,475.42 L454.19,473.08 L454.55,480.24 L454.91,490.73 L455.26,490.94 L455.62,490.96 L455.98,485.90 L456.33,481.71 L456.69,477.77 L457.05,475.13 L457.40,480.13 L457.76,487.28 L458.12,492.21 L458.47,492.81 L458.83,491.13 L459.19,485.96 L459.54,486.25 L459.90,492.90 L460.26,485.12 L460.61,478.78 L460.97,479.64 L461.33,479.87 L461.69,477.12 L462.04,477.85 L462.40,478.12 L462.76,476.16 L463.11,475.44 L463.47,477.60 L463.83,479.74 L464.18,480.31 L464.54,480.85 L464.90,474.61 L465.25,470.69 L465.61,478.04 L465.97,479.04 L466.32,483.76 L466.68,487.02 L467.04,491.48 L467.39,491.21 L467.75,488.41 L468.11,484.48 L468.46,483.27 L468.82,483.56 L469.18,483.86 L469.54,485.56 L469.89,486.72 L470.25,485.50 L470.61,483.17 L470.96,481.13 L471.32,478.76 L471.68,476.00 L472.03,473.41 L472.39,474.62 L472.75,477.45 L473.10,480.07 L473.46,481.75 L473.82,480.15 L474.17,477.46 L474.53,474.08 L474.89,473.95 L475.24,475.76 L475.60,476.61 L475.96,477.46 L476.31,481.85 L476.67,485.64 L477.03,484.07 L477.38,483.71 L477.74,479.33 L478.10,471.86 L478.46,470.10 L478.81,473.00 L479.17,480.52 L479.53,487.09 L479.88,492.68 L480.24,475.23 L480.60,477.93 L480.95,481.20 L481.31,485.82 L481.67,483.09 L482.02,478.90 L482.38,481.08 L482.74,479.17 L483.09,475.94 L483.45,473.01 L483.81,468.18 L484.16,463.15 L484.52,464.79 L484.88,473.53 L485.23,481.71 L485.59,482.58 L485.95,479.36 L486.30,471.79 L486.66,473.03 L487.02,478.99 L487.38,483.31 L487.73,479.24 L488.09,478.16 L488.45,482.41 L488.80,477.56 L489.16,469.67 L489.52,468.38 L489.87,474.73 L490.23,477.04 L490.59,479.20 L490.94,481.36 L491.30,485.15" stroke="#0000ff" stroke-width="3"/>
<path d="M56.00,379.70 L56.36,379.11 L56.71,379.87 L57.07,380.73 L57.43,381.08 L57.78,380.22 L58.14,379.82 L58.50,380.39 L58.85,380.46 L59.21,380.41 L59.57,380.11 L59.92,380.28 L60.28,379.77 L60.64,379.34 L61.00,379.27 L61.35,379.72 L61.71,380.34 L62.07,380.60 L62.42,380.02 L62.78,380.02 L63.14,380.02 L63.49,382.90 L63.85,387.68 L64.21,399.57 L64.56,416.20 L64.92,432.82 L65.28,449.45 L65.63,466.08 L65.99,482.70 L66.35,499.33 L66.70,509.30 L67.06,509.30 L67.42,509.30 L67.77,509.30 L68.13,509.30 L68.49,509.30 L68.84,509.30 L69.20,509.30 L69.56,509.30 L69.92,507.22 L70.27,502.03 L70.63,496.83 L70.99,491.64 L71.34,486.44 L71.70,481.25 L72.06,476.05 L72.41,471.84 L72.77,467.63 L73.13,463.42 L73.48,459.20 L73.84,454.99 L74.20,450.78 L74.55,449.67 L74.91,448.56 L75.27,447.46 L75.62,446.90 L75.98,446.35 L76.34,445.79 L76.69,445.24 L77.05,444.68 L77.41,444.13 L77.77,444.40 L78.12,443.43 L78.48,442.53 L78.84,442.20 L79.19,441.93 L79.55,441.15 L79.91,440.63 L80.26,440.98 L80.62,441.25 L80.98,440.89 L81.33,440.54 L81.69,440.00 L82.05,439.40 L82.40,438.61 L82.76,437.88 L83.12,437.17 L83.47,436.83 L83.83,437.48 L84.19,438.14 L84.54,437.55 L84.90,436.51 L85.26,435.87 L85.61,435.72 L85.97,436.38 L86.33,436.89 L86.69,437.15 L87.04,437.61 L87.40,436.62 L87.76,436.05 L88.11,436.12 L88.47,436.12 L88.83,436.04 L89.18,435.84 L89.54,434.97 L89.90,434.27 L90.25,434.48 L90.61,434.65 L90.97,434.80 L91.32,434.96 L91.68,434.52 L92.04,433.97 L92.39,433.80 L92.75,433.90 L93.11,433.08 L93.46,432.13 L93.82,433.09 L94.18,434.03 L94.53,433.23 L94.89,432.42 L95.25,432.78 L95.61,433.26 L95.96,432.63 L96.32,430.77 L96.68,431.26 L97.03,431.76 L97.39,431.93 L97.75,431.57 L98.10,431.24 L98.46,431.00 L98.82,430.42 L99.17,430.13 L99.53,430.21 L99.89,429.99 L100.24,429.44 L100.60,428.91 L100.96,429.60 L101.31,430.18 L101.67,429.26 L102.03,428.51 L102.38,428.55 L102.74,428.81 L103.10,427.92 L103.45,426.79 L103.81,426.68 L104.17,427.12 L104.53,426.96 L104.88,427.56 L105.24,428.30 L105.60,427.84 L105.95,426.95 L106.31,426.28 L106.67,425.91 L107.02,426.27 L107.38,426.65 L107.74,426.40 L108.09,425.24 L108.45,423.85 L108.81,424.39 L109.16,425.14 L109.52,424.98 L109.88,424.60 L110.23,424.42 L110.59,424.54 L110.95,424.56 L111.30,424.41 L111.66,424.78 L112.02,424.87 L112.37,424.45 L112.73,424.08 L113.09,423.90 L113.45,423.70 L113.80,423.80 L114.16,423.86 L114.52,422.97 L114.87,422.37 L115.23,423.18 L115.59,423.67 L115.94,422.89 L116.30,422.20 L116.66,421.90 L117.01,421.95 L117.37,421.66 L117.73,421.33 L118.08,422.49 L118.44,423.29 L118.80,422.59 L119.15,422.22 L119.51,422.06 L119.87,421.80 L120.22,421.10 L120.58,420.53 L120.94,420.76 L121.30,421.18 L121.65,421.30 L122.01,421.26 L122.37,421.34 L122.72,421.51 L123.08,421.53 L123.44,421.36 L123.79,420.14 L124.15,418.96 L124.51,419.11 L124.86,419.30 L125.22,420.11 L125.58,420.73 L125.93,419.39 L126.29,418.59 L126.65,419.13 L127.00,419.67 L127.36,419.17 L127.72,418.14 L128.07,418.77 L128.43,419.21 L128.79,419.34 L129.14,419.38 L129.50,419.40 L129.86,419.40 L130.22,418.84 L130.57,418.28 L130.93,418.51 L131.29,419.59 L131.64,418.50 L132.00,417.40 L132.36,417.40 L132.71,417.75 L133.07,417.90 L133.43,417.34 L133.78,418.47 L134.14,418.37 L134.50,404.32 L134.85,376.30 L135.21,376.30 L135.57,376.30 L135.92,376.30 L136.28,376.30 L136.64,376.30 L136.99,376.30 L137.35,376.30 L137.71,376.30 L138.06,376.30 L138.42,376.30 L138.78,376.30 L139.14,376.30 L139.49,376.30 L139.85,376.30 L140.21,376.30 L140.56,376.30 L140.92,376.30 L141.28,376.30 L141.63,376.30 L141.99,376.30 L142.35,376.30 L142.70,376.30 L143.06,376.30 L143.42,376.30 L143.77,376.30 L144.13,376.30 L144.49,376.30 L144.84,376.30 L145.20,376.30 L145.56,376.30 L145.91,376.30 L146.27,376.30 L146.63,376.30 L146.98,376.30 L147.34,376.30 L147.70,376.30 L148.06,376.30 L148.41,376.30 L148.77,376.30 L149.13,376.30 L149.48,376.30 L149.84,376.30 L150.20,376.30 L150.55,376.30 L150.91,376.30 L151.27,376.30 L151.62,376.30 L151.98,376.30 L152.34,376.30 L152.69,376.30 L153.05,376.30 L153.41,376.30 L153.76,376.30 L154.12,376.30 L154.48,376.30 L154.83,376.30 L155.19,376.30 L155.55,376.30 L155.90,376.30 L156.26,376.30 L156.62,376.30 L156.98,376.30 L157.33,376.30 L157.69,376.30 L158.05,376.30 L158.40,376.30 L158.76,376.30 L159.12,376.30 L159.47,376.30 L159.83,376.30 L160.19,376.30 L160.54,376.30 L160.90,376.30 L161.26,376.30 L161.61,376.30 L161.97,376.30 L162.33,376.30 L162.68,376.30 L163.04,376.30 L163.40,376.30 L163.75,376.30 L164.11,376.30 L164.47,376.30 L164.82,376.30 L165.18,376.30 L165.54,376.30 L165.90,376.30 L166.25,376.30 L166.61,376.30 L166.97,376.30 L167.32,376.30 L167.68,376.30 L168.04,376.30 L168.39,376.30 L168.75,376.30 L169.11,376.30 L169.46,376.30 L169.82,376.30 L170.18,376.30 L170.53,376.30 L170.89,376.30 L171.25,376.30 L171.60,376.30 L171.96,376.30 L172.32,376.30 L172.67,376.30 L173.03,376.30 L173.39,376.30 L173.75,376.30 L174.10,376.30 L174.46,376.30 L174.82,376.30 L175.17,376.30 L175.53,376.30 L175.89,376.30 L176.24,376.30 L176.60,376.30 L176.96,376.30 L177.31,376.30 L177.67,376.30 L178.03,376.30 L178.38,376.30 L178.74,376.30 L179.10,376.30 L179.45,376.30 L179.81,376.30 L180.17,376.30 L180.52,376.30 L180.88,376.30 L181.24,376.30 L181.59,376.30 L181.95,376.30 L182.31,376.30 L182.67,376.30 L183.02,376.30 L183.38,376.30 L183.74,376.30 L184.09,376.30 L184.45,376.30 L184.81,376.30 L185.16,376.30 L185.52,376.30 L185.88,376.30 L186.23,376.30 L186.59,376.30 L186.95,376.30 L187.30,376.30 L187.66,376.30 L188.02,376.30 L188.37,376.30 L188.73,376.30 L189.09,376.30 L189.44,376.30 L189.80,376.30 L190.16,376.30 L190.51,376.30 L190.87,376.30 L191.23,376.30 L191.59,376.30 L191.94,376.30 L192.30,376.30 L192.66,376.30 L193.01,376.30 L193.37,376.30 L193.73,376.30 L194.08,376.30 L194.44,376.30 L194.80,376.30 L195.15,376.30 L195.51,376.30 L195.87,376.30 L196.22,376.30 L196.58,376.30 L196.94,376.30 L197.29,376.30 L197.65,376.30 L198.01,376.30 L198.36,376.30 L198.72,376.30 L199.08,376.30 L199.43,376.30 L199.79,376.30 L200.15,376.30 L200.51,376.30 L200.86,376.30 L201.22,376.30 L201.58,376.30 L201.93,376.30 L202.29,376.30 L202.65,376.30 L203.00,376.30 L203.36,376.30 L203.72,376.30 L204.07,376.30 L204.43,376.30 L204.79,376.30 L205.14,376.30 L205.50,376.30 L205.86,376.30 L206.21,376.30 L206.57,376.30 L206.93,376.30 L207.28,376.30 L207.64,376.30 L208.00,376.30 L208.36,376.30 L208.71,376.30 L209.07,376.30 L209.43,376.30 L209.78,376.30 L210.14,376.30 L210.50,376.30 L210.85,376.30 L211.21,376.30 L211.57,376.30 L211.92,376.30 L212.28,376.30 L212.64,376.30 L212.99,376.30 L213.35,376.30 L213.71,376.30 L214.06,376.30 L214.42,376.30 L214.78,376.30 L215.13,376.30 L215.49,376.30 L215.85,376.30 L216.20,376.30 L216.56,376.30 L216.92,376.30 L217.28,376.30 L217.63,376.30 L217.99,376.30 L218.35,376.30 L218.70,376.30 L219.06,376.30 L219.42,376.30 L219.77,376.30 L220.13,376.30 L220.49,376.30 L220.84,376.30 L221.20,376.30 L221.56,376.30 L221.91,376.30 L222.27,376.30 L222.63,376.30 L222.98,376.30 L223.34,376.30 L223.70,376.30 L224.05,376.30 L224.41,376.30 L224.77,376.30 L225.12,376.30 L225.48,376.30 L225.84,376.30 L226.20,376.30 L226.55,376.30 L226.91,376.30 L227.27,376.30 L227.62,376.30 L227.98,376.30 L228.34,376.30 L228.69,376.30 L229.05,376.30 L229.41,376.30 L229.76,376.30 L230.12,376.30 L230.48,376.30 L230.83,376.30 L231.19,376.30 L231.55,376.30 L231.90,376.30 L232.26,376.30 L232.62,376.30 L232.97,376.30 L233.33,376.30 L233.69,376.30 L234.04,376.30 L234.40,376.30 L234.76,376.30 L235.12,376.30 L235.47,376.30 L235.83,376.30 L236.19,376.30 L236.54,376.30 L236.90,376.30 L237.26,376.30 L237.61,376.30 L237.97,376.30 L238.33,376.30 L238.68,376.30 L239.04,376.30 L239.40,376.30 L239.75,376.30 L240.11,376.30 L240.47,376.30 L240.82,376.30 L241.18,376.30 L241.54,376.30 L241.89,376.30 L242.25,376.30 L242.61,376.30 L242.96,376.30 L243.32,376.30 L243.68,376.30 L244.04,376.30 L244.39,376.30 L244.75,376.30 L245.11,376.30 L245.46,376.30 L245.82,376.30 L246.18,376.30 L246.53,376.30 L246.89,376.30 L247.25,376.30 L247.60,376.30 L247.96,376.30 L248.32,376.30 L248.67,376.30 L249.03,376.30 L249.39,376.30 L249.74,376.30 L250.10,376.30 L250.46,376.30 L250.81,376.30 L251.17,376.30 L251.53,376.30 L251.89,376.30 L252.24,376.30 L252.60,376.30 L252.96,376.30 L253.31,376.30 L253.67,376.30 L254.03,376.30 L254.38,376.30 L254.74,376.30 L255.10,376.30 L255.45,376.30 L255.81,376.30 L256.17,376.30 L256.52,376.30 L256.88,376.30 L257.24,376.30 L257.59,376.30 L257.95,376.30 L258.31,376.30 L258.66,376.30 L259.02,376.30 L259.38,376.30 L259.73,376.30 L260.09,376.30 L260.45,376.30 L260.81,376.30 L261.16,376.30 L261.52,376.30 L261.88,376.30 L262.23,376.30 L262.59,376.30 L262.95,376.30 L263.30,376.30 L263.66,376.30 L264.02,376.30 L264.37,376.30 L264.73,376.30 L265.09,376.30 L265.44,376.30 L265.80,376.30 L266.16,376.30 L266.51,376.30 L266.87,376.30 L267.23,376.30 L267.58,376.30 L267.94,376.30 L268.30,376.30 L268.65,376.30 L269.01,376.30 L269.37,376.30 L269.73,376.30 L270.08,376.30 L270.44,376.30 L270.80,376.30 L271.15,376.30 L271.51,376.30 L271.87,376.30 L272.22,376.30 L272.58,376.30 L272.94,376.30 L273.29,376.30 L273.65,376.30 L274.01,376.30 L274.36,376.30 L274.72,376.30 L275.08,376.30 L275.43,376.30 L275.79,376.30 L276.15,376.30 L276.50,376.30 L276.86,376.30 L277.22,376.30 L277.57,376.30 L277.93,376.30 L278.29,376.30 L278.65,376.30 L279.00,376.30 L279.36,376.30 L279.72,376.30 L280.07,376.30 L280.43,376.30 L280.79,376.30 L281.14,376.30 L281.50,376.30 L281.86,376.30 L282.21,376.30 L282.57,376.30 L282.93,376.30 L283.28,376.30 L283.64,376.30 L284.00,376.30 L284.35,376.30 L284.71,376.30 L285.07,376.30 L285.42,376.30 L285.78,376.30 L286.14,376.30 L286.49,376.30 L286.85,376.30 L287.21,376.30 L287.57,376.30 L287.92,376.30 L288.28,376.30 L288.64,376.30 L288.99,376.30 L289.35,376.30 L289.71,376.30 L290.06,376.30 L290.42,376.30 L290.78,376.30 L291.13,376.30 L291.49,376.30 L291.85,376.30 L292.20,376.30 L292.56,376.30 L292.92,376.30 L293.27,376.30 L293.63,376.30 L293.99,376.30 L294.34,376.30 L294.70,376.30 L295.06,376.30 L295.41,376.30 L295.77,376.30 L296.13,376.30 L296.49,376.30 L296.84,376.30 L297.20,376.30 L297.56,376.30 L297.91,376.30 L298.27,376.30 L298.63,376.30 L298.98,376.30 L299.34,376.30 L299.70,376.30 L300.05,376.30 L300.41,376.30 L300.77,376.30 L301.12,376.30 L301.48,376.30 L301.84,376.30 L302.19,376.30 L302.55,376.30 L302.91,376.30 L303.26,376.30 L303.62,376.30 L303.98,376.30 L304.34,376.30 L304.69,376.30 L305.05,376.30 L305.41,376.30 L305.76,376.30 L306.12,376.30 L306.48,376.30 L306.83,376.30 L307.19,376.30 L307.55,376.30 L307.90,376.30 L308.26,376.30 L308.62,376.30 L308.97,376.30 L309.33,376.30 L309.69,376.30 L310.04,376.30 L310.40,376.30 L310.76,376.30 L311.11,376.30 L311.47,376.30 L311.83,376.30 L312.18,376.30 L312.54,376.30 L312.90,376.30 L313.26,376.30 L313.61,376.30 L313.97,376.30 L314.33,376.30 L314.68,376.30 L315.04,376.30 L315.40,376.30 L315.75,376.30 L316.11,376.30 L316.47,376.30 L316.82,376.30 L317.18,376.30 L317.54,376.30 L317.89,376.30 L318.25,376.30 L318.61,376.30 L318.96,376.30 L319.32,376.30 L319.68,376.30 L320.03,376.30 L320.39,376.30 L320.75,376.30 L321.10,376.30 L321.46,376.30 L321.82,376.30 L322.18,376.30 L322.53,376.30 L322.89,376.30 L323.25,376.30 L323.60,376.30 L323.96,376.30 L324.32,376.30 L324.67,376.49 L325.03,376.68 L325.39,376.87 L325.74,377.06 L326.10,377.25 L326.46,377.44 L326.81,377.63 L327.17,377.82 L327.53,378.01 L327.88,378.20 L328.24,378.39 L328.60,378.58 L328.95,378.77 L329.31,378.96 L329.67,378.97 L330.02,378.98 L330.38,378.70 L330.74,378.87 L331.10,379.04 L331.45,379.22 L331.81,379.39 L332.17,379.40 L332.52,379.37 L332.88,379.33 L333.24,379.30 L333.59,379.27 L333.95,379.24 L334.31,379.24 L334.66,379.35 L335.02,379.46 L335.38,379.57 L335.73,379.65 L336.09,379.73 L336.45,379.81 L336.80,379.88 L337.16,379.96 L337.52,380.02 L337.87,380.04 L338.23,380.05 L338.59,380.07 L338.94,380.08 L339.30,380.01 L339.66,379.87 L340.02,379.73 L340.37,379.59 L340.73,379.45 L341.09,379.31 L341.44,379.12 L341.80,378.89 L342.16,378.66 L342.51,378.43 L342.87,378.66 L343.23,378.91 L343.58,379.16 L343.94,379.41 L344.30,379.56 L344.65,379.45 L345.01,379.33 L345.37,379.22 L345.72,379.11 L346.08,379.00 L346.44,378.88 L346.79,378.88 L347.15,379.19 L347.51,379.49 L347.87,379.61 L348.22,379.62 L348.58,392.09 L348.94,423.27 L349.29,446.40 L349.65,467.52 L350.01,488.65 L350.36,497.90 L350.72,489.35 L351.08,479.15 L351.43,468.96 L351.79,458.76 L352.15,454.72 L352.50,450.69 L352.86,446.65 L353.22,442.61 L353.57,438.57 L353.93,434.90 L354.29,431.77 L354.64,428.64 L355.00,425.51 L355.36,423.51 L355.71,421.52 L356.07,419.52 L356.43,417.53 L356.79,416.73 L357.14,415.93 L357.50,415.14 L357.86,414.34 L358.21,413.54 L358.57,413.10 L358.93,412.65 L359.28,412.21 L359.64,411.77 L360.00,411.32 L360.35,410.88 L360.71,410.73 L361.07,410.57 L361.42,410.42 L361.78,410.26 L362.14,410.01 L362.49,409.95 L362.85,409.50 L363.21,409.14 L363.56,409.05 L363.92,409.07 L364.28,409.22 L364.63,409.18 L364.99,408.93 L365.35,408.80 L365.71,408.39 L366.06,408.14 L366.42,408.02 L366.78,408.58 L367.13,408.56 L367.49,407.91 L367.85,407.50 L368.20,407.23 L368.56,407.20 L368.92,407.03 L369.27,406.85 L369.63,406.70 L369.99,406.69 L370.34,406.84 L370.70,407.49 L371.06,407.34 L371.41,407.15 L371.77,406.23 L372.13,405.83 L372.48,405.78 L372.84,405.91 L373.20,406.27 L373.55,406.01 L373.91,405.82 L374.27,405.21 L374.63,404.99 L374.98,405.16 L375.34,405.43 L375.70,405.25 L376.05,404.70 L376.41,404.14 L376.77,404.38 L377.12,404.59 L377.48,404.44 L377.84,404.72 L378.19,404.40 L378.55,404.52 L378.91,404.36 L379.26,404.82 L379.62,404.84 L379.98,404.69 L380.33,404.37 L380.69,404.40 L381.05,404.24 L381.40,404.59 L381.76,404.21 L382.12,403.91 L382.48,403.17 L382.83,403.04 L383.19,403.44 L383.55,403.26 L383.90,403.73 L384.26,403.35 L384.62,402.86 L384.97,402.27 L385.33,401.41 L385.69,401.85 L386.04,401.80 L386.40,402.39 L386.76,402.32 L387.11,402.18 L387.47,402.06 L387.83,401.78 L388.18,401.68 L388.54,401.33 L388.90,401.14 L389.25,400.95 L389.61,401.27 L389.97,401.10 L390.32,401.01 L390.68,400.86 L391.04,401.09 L391.40,400.95 L391.75,400.22 L392.11,400.09 L392.47,400.59 L392.82,401.06 L393.18,400.96 L393.54,400.67 L393.89,400.27 L394.25,400.26 L394.61,400.07 L394.96,400.31 L395.32,400.41 L395.68,400.40 L396.03,400.13 L396.39,399.83 L396.75,399.79 L397.10,399.32 L397.46,399.33 L397.82,398.99 L398.17,399.65 L398.53,399.26 L398.89,398.79 L399.24,398.28 L399.60,398.52 L399.96,398.98 L400.32,399.32 L400.67,398.94 L401.03,399.19 L401.39,399.15 L401.74,399.35 L402.10,398.79 L402.46,398.04 L402.81,398.21 L403.17,398.25 L403.53,399.32 L403.88,398.97 L404.24,398.65 L404.60,398.02 L404.95,398.08 L405.31,398.15 L405.67,397.55 L406.02,396.95 L406.38,397.42 L406.74,397.89 L407.09,398.35 L407.45,398.10 L407.81,398.16 L408.16,398.41 L408.52,397.90 L408.88,397.61 L409.24,397.30 L409.59,397.78 L409.95,397.62 L410.31,398.07 L410.66,397.81 L411.02,398.16 L411.38,397.25 L411.73,396.94 L412.09,396.64 L412.45,396.73 L412.80,397.09 L413.16,396.94 L413.52,397.16 L413.87,396.94 L414.23,397.14 L414.59,396.73 L414.94,396.64 L415.30,396.60 L415.66,397.50 L416.01,397.26 L416.37,397.68 L416.73,396.91 L417.08,397.43 L417.44,397.17 L417.80,397.33 L418.16,397.06 L418.51,396.63 L418.87,396.31 L419.23,396.19 L419.58,396.28 L419.94,401.24 L420.30,413.71 L420.65,424.98 L421.01,435.95 L421.37,446.92 L421.72,457.90 L422.08,468.87 L422.44,479.84 L422.79,490.81 L423.15,501.79 L423.51,506.11 L423.86,508.77 L424.22,504.75 L424.58,509.30 L424.93,509.30 L425.29,507.85 L425.65,499.17 L426.01,496.05 L426.36,494.90 L426.72,495.25 L427.08,495.59 L427.43,495.61 L427.79,503.59 L428.15,509.30 L428.50,497.00 L428.86,498.71 L429.22,500.32 L429.57,502.23 L429.93,506.78 L430.29,504.92 L430.64,497.97 L431.00,494.86 L431.36,499.38 L431.71,502.73 L432.07,502.53 L432.43,501.98 L432.78,501.29 L433.14,502.25 L433.50,500.39 L433.85,494.86 L434.21,491.89 L434.57,485.98 L434.93,483.87 L435.28,485.13 L435.64,487.57 L436.00,491.58 L436.35,492.76 L436.71,491.55 L437.07,490.48 L437.42,491.95 L437.78,491.33 L438.14,488.16 L438.49,484.32 L438.85,491.53 L439.21,496.29 L439.56,493.69 L439.92,491.34 L440.28,492.12 L440.63,493.73 L440.99,495.96 L441.35,498.18 L441.70,492.81 L442.06,489.91 L442.42,484.25 L442.77,479.42 L443.13,477.45 L443.49,477.09 L443.85,477.43 L444.20,484.53 L444.56,488.49 L444.92,488.40 L445.27,488.31 L445.63,492.81 L445.99,494.62 L446.34,491.30 L446.70,489.53 L447.06,490.94 L447.41,492.03 L447.77,489.09 L448.13,485.70 L448.48,484.30 L448.84,489.06 L449.20,490.46 L449.55,490.93 L449.91,490.72 L450.27,486.27 L450.62,485.06 L450.98,490.81 L451.34,496.13 L451.69,498.76 L452.05,496.14 L452.41,484.77 L452.77,476.59 L453.12,477.48 L453.48,477.91 L453.84,477.60 L454.19,477.99 L454.55,481.19 L454.91,487.47 L455.26,487.74 L455.62,487.78 L455.98,482.96 L456.33,479.17 L456.69,478.56 L457.05,478.81 L457.40,480.31 L457.76,484.25 L458.12,489.69 L458.47,492.98 L458.83,490.89 L459.19,482.38 L459.54,480.29 L459.90,491.00 L460.26,486.16 L460.61,476.57 L460.97,473.98 L461.33,476.01 L461.69,478.05 L462.04,479.10 L462.40,479.77 L462.76,481.16 L463.11,482.92 L463.47,485.01 L463.83,486.66 L464.18,486.58 L464.54,486.46 L464.90,478.36 L465.25,467.28 L465.61,474.95 L465.97,483.37 L466.32,487.19 L466.68,484.28 L467.04,483.51 L467.39,486.57 L467.75,487.12 L468.11,486.61 L468.46,486.10 L468.82,482.95 L469.18,479.43 L469.54,478.00 L469.89,477.32 L470.25,478.57 L470.61,480.83 L470.96,480.03 L471.32,478.41 L471.68,477.60 L472.03,477.48 L472.39,479.88 L472.75,482.62 L473.10,482.10 L473.46,477.95 L473.82,476.65 L474.17,474.80 L474.53,472.59 L474.89,474.32 L475.24,476.87 L475.60,476.84 L475.96,476.81 L476.31,483.98 L476.67,490.20 L477.03,484.86 L477.38,479.50 L477.74,476.96 L478.10,475.52 L478.46,472.05 L478.81,471.12 L479.17,478.61 L479.53,487.05 L479.88,494.42 L480.24,474.46 L480.60,475.86 L480.95,474.93 L481.31,475.58 L481.67,482.18 L482.02,481.12 L482.38,481.38 L482.74,479.22 L483.09,474.37 L483.45,469.51 L483.81,464.74 L484.16,459.29 L484.52,462.83 L484.88,474.75 L485.23,483.93 L485.59,485.58 L485.95,480.61 L486.30,475.20 L486.66,474.71 L487.02,478.29 L487.38,482.91 L487.73,479.03 L488.09,476.26 L488.45,480.57 L488.80,479.23 L489.16,473.98 L489.52,471.36 L489.87,472.57 L490.23,475.82 L490.59,478.16 L490.94,480.02 L491.30,482.95" stroke="#ff0000" stroke-width="3"/>
</g>
<text transform="translate(18,442.8) rotate(-90)" font-size="13.2" fill="#262626" text-anchor="middle">Equivalent disturbance d<tspan font-size="10.56" dy="4.3">i</tspan><tspan dy="-4.3">(t)</tspan></text>
<rect x="177.5" y="453" width="83.2" height="45.8" fill="#fff" stroke="#555555" stroke-width="1.15"/>
<line x1="181.5" y1="461.9" x2="221.5" y2="461.9" stroke="#000" stroke-width="3"/>
<text x="225.0" y="465.7" font-size="10.5" fill="#000">MRDP</text>
<line x1="181.5" y1="475.9" x2="221.5" y2="475.9" stroke="#0000ff" stroke-width="3"/>
<text x="225.0" y="479.7" font-size="10.5" fill="#000">APR</text>
<line x1="181.5" y1="489.9" x2="221.5" y2="489.9" stroke="#ff0000" stroke-width="3"/>
<text x="225.0" y="493.7" font-size="10.5" fill="#000">PPM</text>
<text x="273.65" y="543.5" font-size="13.2" fill="#262626" text-anchor="middle">Time[s]</text>
</svg>
</body></html>
